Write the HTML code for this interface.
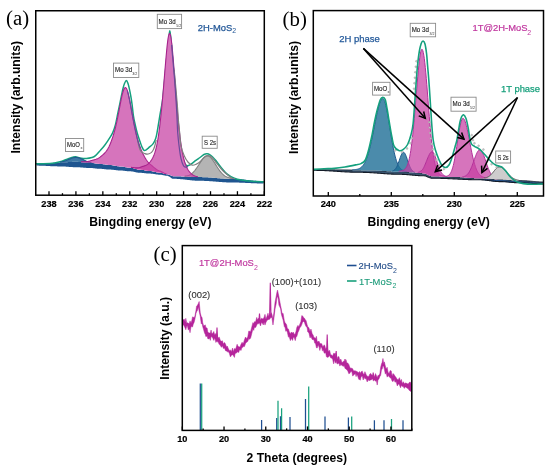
<!DOCTYPE html>
<html><head><meta charset="utf-8"><style>
html,body{margin:0;padding:0;background:#fff;overflow:hidden;}
svg{display:block;filter:blur(0.3px);}
</style></head><body>
<svg width="550" height="471" viewBox="0 0 550 471">
<defs>
<clipPath id="clipA"><rect x="35.75" y="10.75" width="228.55" height="184.45"/></clipPath>
<clipPath id="clipB"><rect x="313.3" y="10.5" width="230.2" height="185.5"/></clipPath>
<clipPath id="clipC"><rect x="182.3" y="245.6" width="229.5" height="184.8"/></clipPath>
</defs>
<rect width="550" height="471" fill="#fff"/>
<g clip-path="url(#clipA)">
<path d="M36.50,163.40 L37.00,163.39 L37.50,163.39 L38.00,163.38 L38.50,163.37 L39.00,163.36 L39.50,163.34 L40.00,163.32 L40.50,163.31 L41.00,163.29 L41.50,163.27 L42.00,163.24 L42.50,163.22 L43.00,163.20 L43.50,163.18 L44.00,163.16 L44.50,163.13 L45.00,163.11 L45.50,163.09 L46.00,163.08 L46.50,163.06 L47.00,163.04 L47.50,163.03 L48.00,163.02 L48.50,163.01 L49.00,163.01 L49.50,163.00 L50.00,163.00 L50.50,163.00 L51.00,162.99 L51.50,162.97 L52.00,162.94 L52.50,162.91 L53.00,162.88 L53.50,162.84 L54.00,162.79 L54.50,162.75 L55.00,162.70 L55.50,162.65 L56.00,162.61 L56.50,162.56 L57.00,162.52 L57.50,162.49 L58.00,162.46 L58.50,162.43 L59.00,162.41 L59.50,162.40 L60.00,162.40 L60.50,162.40 L61.00,162.39 L61.50,162.39 L62.00,162.38 L62.50,162.36 L63.00,162.35 L63.50,162.33 L64.00,162.31 L64.50,162.29 L65.00,162.27 L65.50,162.24 L66.00,162.21 L66.50,162.19 L67.00,162.16 L67.50,162.13 L68.00,162.10 L68.50,162.07 L69.00,162.04 L69.50,162.01 L70.00,161.99 L70.50,161.96 L71.00,161.93 L71.50,161.91 L72.00,161.89 L72.50,161.87 L73.00,161.85 L73.50,161.84 L74.00,161.82 L74.50,161.81 L75.00,161.81 L75.50,161.80 L76.00,161.80 L76.50,161.80 L77.00,161.81 L77.50,161.83 L78.00,161.85 L78.50,161.88 L79.00,161.91 L79.50,161.95 L80.00,161.99 L80.50,162.03 L81.00,162.08 L81.50,162.13 L82.00,162.19 L82.50,162.24 L83.00,162.30 L83.50,162.36 L84.00,162.41 L84.50,162.47 L85.00,162.52 L85.50,162.57 L86.00,162.61 L86.50,162.65 L87.00,162.69 L87.50,162.72 L88.00,162.75 L88.50,162.77 L89.00,162.79 L89.50,162.80 L90.00,162.80 L90.50,162.81 L91.00,162.83 L91.50,162.86 L92.00,162.91 L92.50,162.96 L93.00,163.03 L93.50,163.10 L94.00,163.18 L94.50,163.26 L95.00,163.35 L95.50,163.44 L96.00,163.52 L96.50,163.60 L97.00,163.67 L97.50,163.74 L98.00,163.79 L98.50,163.84 L99.00,163.87 L99.50,163.89 L100.00,163.90 L100.50,163.91 L101.00,163.93 L101.50,163.96 L102.00,164.01 L102.50,164.06 L103.00,164.13 L103.50,164.20 L104.00,164.28 L104.50,164.36 L105.00,164.45 L105.50,164.54 L106.00,164.62 L106.50,164.70 L107.00,164.77 L107.50,164.84 L108.00,164.89 L108.50,164.94 L109.00,164.97 L109.50,164.99 L110.00,165.00 L110.50,165.01 L111.00,165.03 L111.50,165.08 L112.00,165.13 L112.50,165.21 L113.00,165.29 L113.50,165.38 L114.00,165.48 L114.50,165.59 L115.00,165.70 L115.50,165.81 L116.00,165.92 L116.50,166.02 L117.00,166.11 L117.50,166.19 L118.00,166.27 L118.50,166.32 L119.00,166.37 L119.50,166.39 L120.00,166.40 L120.50,166.41 L121.00,166.43 L121.50,166.47 L122.00,166.52 L122.50,166.59 L123.00,166.67 L123.50,166.75 L124.00,166.85 L124.50,166.95 L125.00,167.05 L125.50,167.15 L126.00,167.25 L126.50,167.35 L127.00,167.43 L127.50,167.51 L128.00,167.58 L128.50,167.63 L129.00,167.67 L129.50,167.69 L130.00,167.70 L130.50,167.71 L131.00,167.75 L131.50,167.80 L132.00,167.88 L132.50,167.98 L133.00,168.09 L133.50,168.22 L134.00,168.36 L134.50,168.50 L135.00,168.65 L135.50,168.80 L136.00,168.94 L136.50,169.08 L137.00,169.21 L137.50,169.32 L138.00,169.42 L138.50,169.50 L139.00,169.55 L139.50,169.59 L140.00,169.60 L140.50,169.61 L141.00,169.63 L141.50,169.68 L142.00,169.73 L142.50,169.81 L143.00,169.89 L143.50,169.98 L144.00,170.08 L144.50,170.19 L145.00,170.30 L145.50,170.41 L146.00,170.52 L146.50,170.62 L147.00,170.71 L147.50,170.79 L148.00,170.87 L148.50,170.92 L149.00,170.97 L149.50,170.99 L150.00,171.00 L150.50,171.01 L151.00,171.04 L151.50,171.09 L152.00,171.15 L152.50,171.23 L153.00,171.33 L153.50,171.44 L154.00,171.55 L154.50,171.67 L155.00,171.80 L155.50,171.93 L156.00,172.05 L156.50,172.16 L157.00,172.27 L157.50,172.37 L158.00,172.45 L158.50,172.51 L159.00,172.56 L159.50,172.59 L160.00,172.60 L160.50,172.62 L161.00,172.68 L161.50,172.77 L162.00,172.90 L162.50,173.05 L163.00,173.22 L163.50,173.40 L164.00,173.58 L164.50,173.75 L165.00,173.90 L165.50,174.03 L166.00,174.12 L166.50,174.18 L167.00,174.20 L167.50,174.23 L168.00,174.31 L168.50,174.45 L169.00,174.63 L169.50,174.85 L170.00,175.08 L170.50,175.32 L171.00,175.55 L171.50,175.77 L172.00,175.95 L172.50,176.09 L173.00,176.17 L173.50,176.20 L174.00,176.20 L174.50,176.20 L175.00,176.21 L175.50,176.21 L176.00,176.22 L176.50,176.23 L177.00,176.24 L177.50,176.25 L178.00,176.26 L178.50,176.28 L179.00,176.29 L179.50,176.31 L180.00,176.33 L180.50,176.35 L181.00,176.37 L181.50,176.39 L182.00,176.41 L182.50,176.43 L183.00,176.46 L183.50,176.48 L184.00,176.51 L184.50,176.53 L185.00,176.56 L185.50,176.58 L186.00,176.61 L186.50,176.64 L187.00,176.66 L187.50,176.69 L188.00,176.72 L188.50,176.74 L189.00,176.77 L189.50,176.79 L190.00,176.82 L190.50,176.84 L191.00,176.87 L191.50,176.89 L192.00,176.91 L192.50,176.93 L193.00,176.95 L193.50,176.97 L194.00,176.99 L194.50,177.01 L195.00,177.02 L195.50,177.04 L196.00,177.05 L196.50,177.06 L197.00,177.07 L197.50,177.08 L198.00,177.09 L198.50,177.09 L199.00,177.10 L199.50,177.10 L200.00,177.10 L200.50,177.10 L201.00,177.10 L201.50,177.11 L202.00,177.12 L202.50,177.13 L203.00,177.14 L203.50,177.15 L204.00,177.17 L204.50,177.19 L205.00,177.21 L205.50,177.23 L206.00,177.25 L206.50,177.28 L207.00,177.30 L207.50,177.33 L208.00,177.36 L208.50,177.40 L209.00,177.43 L209.50,177.46 L210.00,177.50 L210.50,177.54 L211.00,177.58 L211.50,177.62 L212.00,177.66 L212.50,177.70 L213.00,177.74 L213.50,177.78 L214.00,177.82 L214.50,177.87 L215.00,177.91 L215.50,177.96 L216.00,178.00 L216.50,178.04 L217.00,178.09 L217.50,178.13 L218.00,178.18 L218.50,178.22 L219.00,178.26 L219.50,178.30 L220.00,178.34 L220.50,178.38 L221.00,178.42 L221.50,178.46 L222.00,178.50 L222.50,178.54 L223.00,178.57 L223.50,178.60 L224.00,178.64 L224.50,178.67 L225.00,178.70 L225.50,178.72 L226.00,178.75 L226.50,178.77 L227.00,178.79 L227.50,178.81 L228.00,178.83 L228.50,178.85 L229.00,178.86 L229.50,178.87 L230.00,178.88 L230.50,178.89 L231.00,178.90 L231.50,178.90 L232.00,178.90 L232.50,178.90 L233.00,178.91 L233.50,178.91 L234.00,178.92 L234.50,178.93 L235.00,178.95 L235.50,178.97 L236.00,178.99 L236.50,179.01 L237.00,179.04 L237.50,179.06 L238.00,179.09 L238.50,179.13 L239.00,179.16 L239.50,179.20 L240.00,179.24 L240.50,179.28 L241.00,179.32 L241.50,179.36 L242.00,179.41 L242.50,179.46 L243.00,179.51 L243.50,179.56 L244.00,179.61 L244.50,179.66 L245.00,179.72 L245.50,179.77 L246.00,179.83 L246.50,179.88 L247.00,179.94 L247.50,179.99 L248.00,180.05 L248.50,180.11 L249.00,180.16 L249.50,180.22 L250.00,180.27 L250.50,180.33 L251.00,180.38 L251.50,180.44 L252.00,180.49 L252.50,180.54 L253.00,180.59 L253.50,180.64 L254.00,180.69 L254.50,180.74 L255.00,180.78 L255.50,180.82 L256.00,180.86 L256.50,180.90 L257.00,180.94 L257.50,180.97 L258.00,181.01 L258.50,181.04 L259.00,181.06 L259.50,181.09 L260.00,181.11 L260.50,181.13 L261.00,181.15 L261.50,181.17 L262.00,181.18 L262.50,181.19 L263.00,181.19 L263.50,181.20 L263.50,183.50 L263.00,183.50 L262.50,183.49 L262.00,183.49 L261.50,183.49 L261.00,183.48 L260.50,183.47 L260.00,183.46 L259.50,183.45 L259.00,183.44 L258.50,183.43 L258.00,183.42 L257.50,183.40 L257.00,183.39 L256.50,183.37 L256.00,183.35 L255.50,183.34 L255.00,183.32 L254.50,183.30 L254.00,183.28 L253.50,183.26 L253.00,183.24 L252.50,183.21 L252.00,183.19 L251.50,183.17 L251.00,183.15 L250.50,183.12 L250.00,183.10 L249.50,183.07 L249.00,183.05 L248.50,183.02 L248.00,183.00 L247.50,182.98 L247.00,182.95 L246.50,182.93 L246.00,182.90 L245.50,182.88 L245.00,182.85 L244.50,182.83 L244.00,182.81 L243.50,182.79 L243.00,182.76 L242.50,182.74 L242.00,182.72 L241.50,182.70 L241.00,182.68 L240.50,182.66 L240.00,182.65 L239.50,182.63 L239.00,182.61 L238.50,182.60 L238.00,182.58 L237.50,182.57 L237.00,182.56 L236.50,182.55 L236.00,182.54 L235.50,182.53 L235.00,182.52 L234.50,182.51 L234.00,182.51 L233.50,182.51 L233.00,182.50 L232.50,182.50 L232.00,182.50 L231.50,182.50 L231.00,182.50 L230.50,182.49 L230.00,182.48 L229.50,182.47 L229.00,182.46 L228.50,182.45 L228.00,182.44 L227.50,182.42 L227.00,182.40 L226.50,182.38 L226.00,182.36 L225.50,182.33 L225.00,182.31 L224.50,182.28 L224.00,182.25 L223.50,182.22 L223.00,182.19 L222.50,182.16 L222.00,182.12 L221.50,182.09 L221.00,182.05 L220.50,182.01 L220.00,181.98 L219.50,181.94 L219.00,181.90 L218.50,181.86 L218.00,181.82 L217.50,181.77 L217.00,181.73 L216.50,181.69 L216.00,181.65 L215.50,181.61 L215.00,181.57 L214.50,181.53 L214.00,181.48 L213.50,181.44 L213.00,181.40 L212.50,181.36 L212.00,181.32 L211.50,181.29 L211.00,181.25 L210.50,181.21 L210.00,181.18 L209.50,181.14 L209.00,181.11 L208.50,181.08 L208.00,181.05 L207.50,181.02 L207.00,180.99 L206.50,180.97 L206.00,180.94 L205.50,180.92 L205.00,180.90 L204.50,180.88 L204.00,180.86 L203.50,180.85 L203.00,180.84 L202.50,180.83 L202.00,180.82 L201.50,180.81 L201.00,180.80 L200.50,180.80 L200.00,180.80 L199.50,180.80 L199.00,180.79 L198.50,180.78 L198.00,180.77 L197.50,180.76 L197.00,180.74 L196.50,180.72 L196.00,180.69 L195.50,180.66 L195.00,180.63 L194.50,180.59 L194.00,180.56 L193.50,180.52 L193.00,180.47 L192.50,180.43 L192.00,180.38 L191.50,180.33 L191.00,180.28 L190.50,180.23 L190.00,180.18 L189.50,180.12 L189.00,180.06 L188.50,180.01 L188.00,179.95 L187.50,179.89 L187.00,179.83 L186.50,179.77 L186.00,179.71 L185.50,179.65 L185.00,179.59 L184.50,179.54 L184.00,179.48 L183.50,179.42 L183.00,179.37 L182.50,179.32 L182.00,179.27 L181.50,179.22 L181.00,179.17 L180.50,179.13 L180.00,179.08 L179.50,179.04 L179.00,179.01 L178.50,178.97 L178.00,178.94 L177.50,178.91 L177.00,178.88 L176.50,178.86 L176.00,178.84 L175.50,178.83 L175.00,178.82 L174.50,178.81 L174.00,178.80 L173.50,178.80 L173.00,178.76 L172.50,178.63 L172.00,178.42 L171.50,178.15 L171.00,177.83 L170.50,177.48 L170.00,177.12 L169.50,176.77 L169.00,176.45 L168.50,176.18 L168.00,175.97 L167.50,175.84 L167.00,175.80 L166.50,175.79 L166.00,175.75 L165.50,175.68 L165.00,175.59 L164.50,175.49 L164.00,175.37 L163.50,175.25 L163.00,175.13 L162.50,175.01 L162.00,174.91 L161.50,174.82 L161.00,174.75 L160.50,174.71 L160.00,174.70 L159.50,174.69 L159.00,174.67 L158.50,174.64 L158.00,174.59 L157.50,174.54 L157.00,174.47 L156.50,174.40 L156.00,174.32 L155.50,174.24 L155.00,174.15 L154.50,174.06 L154.00,173.98 L153.50,173.90 L153.00,173.83 L152.50,173.76 L152.00,173.71 L151.50,173.66 L151.00,173.63 L150.50,173.61 L150.00,173.60 L149.50,173.60 L149.00,173.58 L148.50,173.56 L148.00,173.52 L147.50,173.48 L147.00,173.44 L146.50,173.38 L146.00,173.32 L145.50,173.26 L145.00,173.20 L144.50,173.14 L144.00,173.08 L143.50,173.02 L143.00,172.96 L142.50,172.92 L142.00,172.88 L141.50,172.84 L141.00,172.82 L140.50,172.80 L140.00,172.80 L139.50,172.79 L139.00,172.76 L138.50,172.72 L138.00,172.66 L137.50,172.58 L137.00,172.49 L136.50,172.39 L136.00,172.28 L135.50,172.17 L135.00,172.05 L134.50,171.93 L134.00,171.82 L133.50,171.71 L133.00,171.61 L132.50,171.52 L132.00,171.44 L131.50,171.38 L131.00,171.34 L130.50,171.31 L130.00,171.30 L129.50,171.30 L129.00,171.28 L128.50,171.26 L128.00,171.22 L127.50,171.18 L127.00,171.14 L126.50,171.08 L126.00,171.02 L125.50,170.96 L125.00,170.90 L124.50,170.84 L124.00,170.78 L123.50,170.72 L123.00,170.66 L122.50,170.62 L122.00,170.58 L121.50,170.54 L121.00,170.52 L120.50,170.50 L120.00,170.50 L119.50,170.49 L119.00,170.48 L118.50,170.45 L118.00,170.41 L117.50,170.37 L117.00,170.31 L116.50,170.25 L116.00,170.19 L115.50,170.12 L115.00,170.05 L114.50,169.98 L114.00,169.91 L113.50,169.85 L113.00,169.79 L112.50,169.73 L112.00,169.69 L111.50,169.65 L111.00,169.62 L110.50,169.61 L110.00,169.60 L109.50,169.60 L109.00,169.58 L108.50,169.56 L108.00,169.52 L107.50,169.48 L107.00,169.44 L106.50,169.38 L106.00,169.32 L105.50,169.26 L105.00,169.20 L104.50,169.14 L104.00,169.08 L103.50,169.02 L103.00,168.96 L102.50,168.92 L102.00,168.88 L101.50,168.84 L101.00,168.82 L100.50,168.80 L100.00,168.80 L99.50,168.80 L99.00,168.78 L98.50,168.76 L98.00,168.72 L97.50,168.68 L97.00,168.64 L96.50,168.58 L96.00,168.52 L95.50,168.46 L95.00,168.40 L94.50,168.34 L94.00,168.28 L93.50,168.22 L93.00,168.16 L92.50,168.12 L92.00,168.08 L91.50,168.04 L91.00,168.02 L90.50,168.00 L90.00,168.00 L89.50,168.00 L89.00,167.99 L88.50,167.98 L88.00,167.96 L87.50,167.94 L87.00,167.91 L86.50,167.88 L86.00,167.85 L85.50,167.81 L85.00,167.77 L84.50,167.73 L84.00,167.69 L83.50,167.64 L83.00,167.60 L82.50,167.56 L82.00,167.51 L81.50,167.47 L81.00,167.43 L80.50,167.39 L80.00,167.35 L79.50,167.32 L79.00,167.29 L78.50,167.26 L78.00,167.24 L77.50,167.22 L77.00,167.21 L76.50,167.20 L76.00,167.20 L75.50,167.20 L75.00,167.19 L74.50,167.18 L74.00,167.17 L73.50,167.15 L73.00,167.13 L72.50,167.11 L72.00,167.08 L71.50,167.05 L71.00,167.02 L70.50,166.99 L70.00,166.95 L69.50,166.92 L69.00,166.88 L68.50,166.84 L68.00,166.80 L67.50,166.76 L67.00,166.72 L66.50,166.68 L66.00,166.65 L65.50,166.61 L65.00,166.58 L64.50,166.55 L64.00,166.52 L63.50,166.49 L63.00,166.47 L62.50,166.45 L62.00,166.43 L61.50,166.42 L61.00,166.41 L60.50,166.40 L60.00,166.40 L59.50,166.40 L59.00,166.40 L58.50,166.39 L58.00,166.39 L57.50,166.38 L57.00,166.37 L56.50,166.36 L56.00,166.35 L55.50,166.33 L55.00,166.32 L54.50,166.30 L54.00,166.28 L53.50,166.26 L53.00,166.24 L52.50,166.22 L52.00,166.20 L51.50,166.18 L51.00,166.15 L50.50,166.13 L50.00,166.10 L49.50,166.08 L49.00,166.05 L48.50,166.03 L48.00,166.00 L47.50,165.97 L47.00,165.95 L46.50,165.92 L46.00,165.90 L45.50,165.87 L45.00,165.85 L44.50,165.82 L44.00,165.80 L43.50,165.78 L43.00,165.76 L42.50,165.74 L42.00,165.72 L41.50,165.70 L41.00,165.68 L40.50,165.67 L40.00,165.65 L39.50,165.64 L39.00,165.63 L38.50,165.62 L38.00,165.61 L37.50,165.61 L37.00,165.60 L36.50,165.60Z" fill="#1f5590"/>
<path d="M36.00,163.70 C38.33,163.68 46.00,163.92 50.00,163.60 C54.00,163.28 57.27,162.48 60.00,161.80 C62.73,161.12 64.28,160.25 66.40,159.50 C68.52,158.75 71.18,157.75 72.70,157.30 C74.22,156.85 74.28,156.70 75.50,156.80 C76.72,156.90 78.18,157.63 80.00,157.90 C81.82,158.17 84.43,158.47 86.40,158.40 C88.37,158.33 90.28,157.97 91.80,157.50 C93.32,157.03 94.02,156.87 95.50,155.60 C96.98,154.33 99.20,151.58 100.70,149.90 C102.20,148.22 103.35,146.95 104.50,145.50 C105.65,144.05 106.27,143.27 107.60,141.20 C108.93,139.13 111.20,135.82 112.50,133.10 C113.80,130.38 114.50,128.25 115.40,124.90 C116.30,121.55 117.13,116.65 117.90,113.00 C118.67,109.35 119.38,106.00 120.00,103.00 C120.62,100.00 121.10,97.42 121.60,95.00 C122.10,92.58 122.52,90.42 123.00,88.50 C123.48,86.58 123.92,84.82 124.50,83.50 C125.08,82.18 125.92,80.60 126.50,80.60 C127.08,80.60 127.57,82.32 128.00,83.50 C128.43,84.68 128.63,85.58 129.10,87.70 C129.57,89.82 130.30,93.37 130.80,96.20 C131.30,99.03 131.68,101.57 132.10,104.70 C132.52,107.83 132.85,111.95 133.30,115.00 C133.75,118.05 134.15,120.00 134.80,123.00 C135.45,126.00 136.33,129.92 137.20,133.00 C138.07,136.08 139.20,139.17 140.00,141.50 C140.80,143.83 141.33,145.53 142.00,147.00 C142.67,148.47 143.25,149.87 144.00,150.30 C144.75,150.73 145.70,150.05 146.50,149.60 C147.30,149.15 147.72,148.55 148.80,147.60 C149.88,146.65 151.85,145.40 153.00,143.90 C154.15,142.40 154.98,140.72 155.70,138.60 C156.42,136.48 156.78,133.97 157.30,131.20 C157.82,128.43 158.22,125.53 158.80,122.00 C159.38,118.47 160.17,113.67 160.80,110.00 C161.43,106.33 161.97,105.00 162.60,100.00 C163.23,95.00 163.95,86.67 164.60,80.00 C165.25,73.33 165.92,65.83 166.50,60.00 C167.08,54.17 167.67,49.00 168.10,45.00 C168.53,41.00 168.82,38.37 169.10,36.00 C169.38,33.63 169.55,30.80 169.80,30.80 C170.05,30.80 170.32,33.63 170.60,36.00 C170.88,38.37 171.17,41.00 171.50,45.00 C171.83,49.00 172.12,54.17 172.60,60.00 C173.08,65.83 173.83,73.33 174.40,80.00 C174.97,86.67 175.48,93.33 176.00,100.00 C176.52,106.67 176.97,113.33 177.50,120.00 C178.03,126.67 178.58,134.67 179.20,140.00 C179.82,145.33 180.48,148.67 181.20,152.00 C181.92,155.33 182.62,157.75 183.50,160.00 C184.38,162.25 185.33,164.75 186.50,165.50 C187.67,166.25 189.00,165.30 190.50,164.50 C192.00,163.70 193.92,161.87 195.50,160.70 C197.08,159.53 198.58,158.53 200.00,157.50 C201.42,156.47 202.83,155.12 204.00,154.50 C205.17,153.88 206.00,153.75 207.00,153.80 C208.00,153.85 209.00,154.18 210.00,154.80 C211.00,155.42 212.10,156.63 213.00,157.50 C213.90,158.37 214.02,158.30 215.40,160.00 C216.78,161.70 219.33,165.33 221.30,167.70 C223.27,170.07 225.03,172.43 227.20,174.20 C229.37,175.97 231.93,177.32 234.30,178.30 C236.67,179.28 238.45,179.60 241.40,180.10 C244.35,180.60 248.23,181.00 252.00,181.30 C255.77,181.60 262.00,181.80 264.00,181.90" fill="none" stroke="#15a07e" stroke-width="1.5"/>
<path d="M81.00,161.78 L81.50,161.79 L82.00,161.80 L82.50,161.81 L83.00,161.82 L83.50,161.81 L84.00,161.81 L84.50,161.79 L85.00,161.77 L85.50,161.74 L86.00,161.70 L86.50,161.65 L87.00,161.59 L87.50,161.52 L88.00,161.43 L88.50,161.33 L89.00,161.22 L89.50,161.10 L90.00,160.96 L90.50,160.81 L91.00,160.67 L91.50,160.54 L92.00,160.41 L92.50,160.28 L93.00,160.15 L93.50,160.02 L94.00,159.88 L94.50,159.74 L95.00,159.59 L95.50,159.43 L96.00,159.26 L96.50,159.07 L97.00,158.87 L97.50,158.64 L98.00,158.39 L98.50,158.11 L99.00,157.81 L99.50,157.47 L100.00,157.11 L100.50,156.73 L101.00,156.34 L101.50,155.95 L102.00,155.54 L102.50,155.12 L103.00,154.69 L103.50,154.23 L104.00,153.76 L104.50,153.25 L105.00,152.71 L105.50,152.14 L106.00,151.52 L106.50,150.85 L107.00,150.14 L107.50,149.36 L108.00,148.53 L108.50,147.62 L109.00,146.65 L109.50,145.60 L110.00,144.46 L110.50,143.26 L111.00,142.00 L111.50,140.68 L112.00,139.29 L112.50,137.83 L113.00,136.30 L113.50,134.68 L114.00,132.98 L114.50,131.18 L115.00,129.29 L115.50,127.31 L116.00,125.22 L116.50,123.04 L117.00,120.76 L117.50,118.39 L118.00,115.93 L118.50,113.40 L119.00,110.81 L119.50,108.18 L120.00,105.53 L120.50,102.91 L121.00,100.37 L121.50,97.94 L122.00,95.67 L122.50,93.60 L123.00,91.78 L123.50,90.23 L124.00,89.01 L124.50,88.14 L125.00,87.65 L125.50,87.55 L126.00,87.85 L126.50,88.54 L127.00,89.59 L127.50,90.99 L128.00,92.68 L128.50,94.64 L129.00,96.82 L129.50,99.17 L130.00,101.64 L130.50,104.22 L131.00,106.89 L131.50,109.61 L132.00,112.35 L132.50,115.09 L133.00,117.80 L133.50,120.46 L134.00,123.06 L134.50,125.59 L135.00,128.04 L135.50,130.39 L136.00,132.65 L136.50,134.80 L137.00,136.84 L137.50,138.78 L138.00,140.60 L138.50,142.32 L139.00,143.93 L139.50,145.43 L140.00,146.82 L140.50,148.13 L141.00,149.39 L141.50,150.59 L142.00,151.74 L142.50,152.84 L143.00,153.90 L143.50,154.90 L144.00,155.87 L144.50,156.79 L145.00,157.66 L145.50,158.49 L146.00,159.28 L146.50,160.03 L147.00,160.73 L147.50,161.39 L148.00,162.01 L148.50,162.58 L149.00,163.12 L149.50,163.61 L150.00,164.06 L150.50,164.49 L151.00,164.92 L151.50,165.35 L152.00,165.78 L152.50,166.21 L153.00,166.64 L153.50,167.06 L154.00,167.47 L154.50,167.88 L155.00,168.27 L155.50,168.65 L156.00,169.02 L156.50,169.36 L157.00,169.69 L157.50,169.99 L158.00,170.26 L158.50,170.51 L159.00,170.73 L159.50,170.92 L160.00,171.08 L160.50,171.24 L161.00,171.44 L161.50,171.65 L162.00,171.89 L162.50,172.15 L163.00,172.41 L163.50,172.68 L164.00,172.94 L164.50,173.18 L165.00,173.40 L165.50,173.59 L166.00,173.74 L166.50,173.85 L166.50,174.18 L166.00,174.12 L165.50,174.03 L165.00,173.90 L164.50,173.75 L164.00,173.58 L163.50,173.40 L163.00,173.22 L162.50,173.05 L162.00,172.90 L161.50,172.77 L161.00,172.68 L160.50,172.62 L160.00,172.60 L159.50,172.59 L159.00,172.56 L158.50,172.51 L158.00,172.45 L157.50,172.37 L157.00,172.27 L156.50,172.16 L156.00,172.05 L155.50,171.93 L155.00,171.80 L154.50,171.67 L154.00,171.55 L153.50,171.44 L153.00,171.33 L152.50,171.23 L152.00,171.15 L151.50,171.09 L151.00,171.04 L150.50,171.01 L150.00,171.00 L149.50,170.99 L149.00,170.97 L148.50,170.92 L148.00,170.87 L147.50,170.79 L147.00,170.71 L146.50,170.62 L146.00,170.52 L145.50,170.41 L145.00,170.30 L144.50,170.19 L144.00,170.08 L143.50,169.98 L143.00,169.89 L142.50,169.81 L142.00,169.73 L141.50,169.68 L141.00,169.63 L140.50,169.61 L140.00,169.60 L139.50,169.59 L139.00,169.55 L138.50,169.50 L138.00,169.42 L137.50,169.32 L137.00,169.21 L136.50,169.08 L136.00,168.94 L135.50,168.80 L135.00,168.65 L134.50,168.50 L134.00,168.36 L133.50,168.22 L133.00,168.09 L132.50,167.98 L132.00,167.88 L131.50,167.80 L131.00,167.75 L130.50,167.71 L130.00,167.70 L129.50,167.69 L129.00,167.67 L128.50,167.63 L128.00,167.58 L127.50,167.51 L127.00,167.43 L126.50,167.35 L126.00,167.25 L125.50,167.15 L125.00,167.05 L124.50,166.95 L124.00,166.85 L123.50,166.75 L123.00,166.67 L122.50,166.59 L122.00,166.52 L121.50,166.47 L121.00,166.43 L120.50,166.41 L120.00,166.40 L119.50,166.39 L119.00,166.37 L118.50,166.32 L118.00,166.27 L117.50,166.19 L117.00,166.11 L116.50,166.02 L116.00,165.92 L115.50,165.81 L115.00,165.70 L114.50,165.59 L114.00,165.48 L113.50,165.38 L113.00,165.29 L112.50,165.21 L112.00,165.13 L111.50,165.08 L111.00,165.03 L110.50,165.01 L110.00,165.00 L109.50,164.99 L109.00,164.97 L108.50,164.94 L108.00,164.89 L107.50,164.84 L107.00,164.77 L106.50,164.70 L106.00,164.62 L105.50,164.54 L105.00,164.45 L104.50,164.36 L104.00,164.28 L103.50,164.20 L103.00,164.13 L102.50,164.06 L102.00,164.01 L101.50,163.96 L101.00,163.93 L100.50,163.91 L100.00,163.90 L99.50,163.89 L99.00,163.87 L98.50,163.84 L98.00,163.79 L97.50,163.74 L97.00,163.67 L96.50,163.60 L96.00,163.52 L95.50,163.44 L95.00,163.35 L94.50,163.26 L94.00,163.18 L93.50,163.10 L93.00,163.03 L92.50,162.96 L92.00,162.91 L91.50,162.86 L91.00,162.83 L90.50,162.81 L90.00,162.80 L89.50,162.80 L89.00,162.79 L88.50,162.77 L88.00,162.75 L87.50,162.72 L87.00,162.69 L86.50,162.65 L86.00,162.61 L85.50,162.57 L85.00,162.52 L84.50,162.47 L84.00,162.41 L83.50,162.36 L83.00,162.30 L82.50,162.24 L82.00,162.19 L81.50,162.13 L81.00,162.08Z" fill="#fff"/>
<path d="M131.00,167.41 L131.50,167.42 L132.00,167.45 L132.50,167.49 L133.00,167.54 L133.50,167.60 L134.00,167.66 L134.50,167.72 L135.00,167.78 L135.50,167.83 L136.00,167.87 L136.50,167.90 L137.00,167.90 L137.50,167.89 L138.00,167.84 L138.50,167.77 L139.00,167.67 L139.50,167.54 L140.00,167.38 L140.50,167.20 L141.00,167.03 L141.50,166.86 L142.00,166.70 L142.50,166.54 L143.00,166.38 L143.50,166.21 L144.00,166.04 L144.50,165.86 L145.00,165.67 L145.50,165.46 L146.00,165.23 L146.50,164.97 L147.00,164.68 L147.50,164.35 L148.00,163.99 L148.50,163.58 L149.00,163.11 L149.50,162.59 L150.00,162.00 L150.50,161.36 L151.00,160.68 L151.50,159.94 L152.00,159.14 L152.50,158.27 L153.00,157.30 L153.50,156.22 L154.00,155.02 L154.50,153.68 L155.00,152.18 L155.50,150.49 L156.00,148.60 L156.50,146.49 L157.00,144.13 L157.50,141.51 L158.00,138.61 L158.50,135.41 L159.00,131.90 L159.50,128.07 L160.00,123.92 L160.50,119.47 L161.00,114.76 L161.50,109.79 L162.00,104.58 L162.50,99.13 L163.00,93.47 L163.50,87.64 L164.00,81.67 L164.50,75.63 L165.00,69.57 L165.50,63.58 L166.00,57.76 L166.50,52.23 L167.00,47.11 L167.50,42.58 L168.00,38.85 L168.50,36.01 L169.00,34.19 L169.50,33.43 L170.00,33.79 L170.50,35.29 L171.00,37.88 L171.50,41.46 L172.00,45.87 L172.50,50.97 L173.00,56.61 L173.50,62.61 L174.00,68.89 L174.50,75.33 L175.00,81.84 L175.50,88.32 L176.00,94.70 L176.50,100.91 L177.00,106.91 L177.50,112.65 L178.00,118.10 L178.50,123.25 L179.00,128.09 L179.50,132.59 L180.00,136.77 L180.50,140.63 L181.00,144.17 L181.50,147.41 L182.00,150.36 L182.50,153.03 L183.00,155.45 L183.50,157.63 L184.00,159.60 L184.50,161.37 L185.00,162.96 L185.50,164.39 L186.00,165.68 L186.50,166.84 L187.00,167.89 L187.50,168.84 L188.00,169.70 L188.50,170.48 L189.00,171.19 L189.50,171.83 L190.00,172.42 L190.50,172.96 L191.00,173.44 L191.50,173.89 L192.00,174.29 L192.50,174.66 L193.00,174.99 L193.50,175.28 L194.00,175.55 L194.50,175.78 L195.00,175.99 L195.50,176.18 L196.00,176.34 L196.50,176.47 L197.00,176.59 L197.50,176.69 L198.00,176.78 L198.00,177.09 L197.50,177.08 L197.00,177.07 L196.50,177.06 L196.00,177.05 L195.50,177.04 L195.00,177.02 L194.50,177.01 L194.00,176.99 L193.50,176.97 L193.00,176.95 L192.50,176.93 L192.00,176.91 L191.50,176.89 L191.00,176.87 L190.50,176.84 L190.00,176.82 L189.50,176.79 L189.00,176.77 L188.50,176.74 L188.00,176.72 L187.50,176.69 L187.00,176.66 L186.50,176.64 L186.00,176.61 L185.50,176.58 L185.00,176.56 L184.50,176.53 L184.00,176.51 L183.50,176.48 L183.00,176.46 L182.50,176.43 L182.00,176.41 L181.50,176.39 L181.00,176.37 L180.50,176.35 L180.00,176.33 L179.50,176.31 L179.00,176.29 L178.50,176.28 L178.00,176.26 L177.50,176.25 L177.00,176.24 L176.50,176.23 L176.00,176.22 L175.50,176.21 L175.00,176.21 L174.50,176.20 L174.00,176.20 L173.50,176.20 L173.00,176.17 L172.50,176.09 L172.00,175.95 L171.50,175.77 L171.00,175.55 L170.50,175.32 L170.00,175.08 L169.50,174.85 L169.00,174.63 L168.50,174.45 L168.00,174.31 L167.50,174.23 L167.00,174.20 L166.50,174.18 L166.00,174.12 L165.50,174.03 L165.00,173.90 L164.50,173.75 L164.00,173.58 L163.50,173.40 L163.00,173.22 L162.50,173.05 L162.00,172.90 L161.50,172.77 L161.00,172.68 L160.50,172.62 L160.00,172.60 L159.50,172.59 L159.00,172.56 L158.50,172.51 L158.00,172.45 L157.50,172.37 L157.00,172.27 L156.50,172.16 L156.00,172.05 L155.50,171.93 L155.00,171.80 L154.50,171.67 L154.00,171.55 L153.50,171.44 L153.00,171.33 L152.50,171.23 L152.00,171.15 L151.50,171.09 L151.00,171.04 L150.50,171.01 L150.00,171.00 L149.50,170.99 L149.00,170.97 L148.50,170.92 L148.00,170.87 L147.50,170.79 L147.00,170.71 L146.50,170.62 L146.00,170.52 L145.50,170.41 L145.00,170.30 L144.50,170.19 L144.00,170.08 L143.50,169.98 L143.00,169.89 L142.50,169.81 L142.00,169.73 L141.50,169.68 L141.00,169.63 L140.50,169.61 L140.00,169.60 L139.50,169.59 L139.00,169.55 L138.50,169.50 L138.00,169.42 L137.50,169.32 L137.00,169.21 L136.50,169.08 L136.00,168.94 L135.50,168.80 L135.00,168.65 L134.50,168.50 L134.00,168.36 L133.50,168.22 L133.00,168.09 L132.50,167.98 L132.00,167.88 L131.50,167.80 L131.00,167.75Z" fill="#fff"/>
<path d="M60.00,162.07 L60.50,162.01 L61.00,161.94 L61.50,161.86 L62.00,161.76 L62.50,161.66 L63.00,161.54 L63.50,161.41 L64.00,161.27 L64.50,161.11 L65.00,160.95 L65.50,160.77 L66.00,160.58 L66.50,160.39 L67.00,160.19 L67.50,159.98 L68.00,159.76 L68.50,159.55 L69.00,159.33 L69.50,159.12 L70.00,158.91 L70.50,158.70 L71.00,158.50 L71.50,158.31 L72.00,158.14 L72.50,157.97 L73.00,157.83 L73.50,157.70 L74.00,157.60 L74.50,157.51 L75.00,157.45 L75.50,157.41 L76.00,157.40 L76.50,157.41 L77.00,157.46 L77.50,157.53 L78.00,157.62 L78.50,157.74 L79.00,157.89 L79.50,158.05 L80.00,158.24 L80.50,158.44 L81.00,158.65 L81.50,158.88 L82.00,159.12 L82.50,159.36 L83.00,159.60 L83.50,159.85 L84.00,160.09 L84.50,160.34 L85.00,160.57 L85.50,160.80 L86.00,161.01 L86.50,161.22 L87.00,161.41 L87.50,161.59 L88.00,161.75 L88.50,161.89 L89.00,162.02 L89.50,162.14 L90.00,162.23 L90.50,162.32 L91.00,162.42 L91.50,162.51 L91.50,162.86 L91.00,162.83 L90.50,162.81 L90.00,162.80 L89.50,162.80 L89.00,162.79 L88.50,162.77 L88.00,162.75 L87.50,162.72 L87.00,162.69 L86.50,162.65 L86.00,162.61 L85.50,162.57 L85.00,162.52 L84.50,162.47 L84.00,162.41 L83.50,162.36 L83.00,162.30 L82.50,162.24 L82.00,162.19 L81.50,162.13 L81.00,162.08 L80.50,162.03 L80.00,161.99 L79.50,161.95 L79.00,161.91 L78.50,161.88 L78.00,161.85 L77.50,161.83 L77.00,161.81 L76.50,161.80 L76.00,161.80 L75.50,161.80 L75.00,161.81 L74.50,161.81 L74.00,161.82 L73.50,161.84 L73.00,161.85 L72.50,161.87 L72.00,161.89 L71.50,161.91 L71.00,161.93 L70.50,161.96 L70.00,161.99 L69.50,162.01 L69.00,162.04 L68.50,162.07 L68.00,162.10 L67.50,162.13 L67.00,162.16 L66.50,162.19 L66.00,162.21 L65.50,162.24 L65.00,162.27 L64.50,162.29 L64.00,162.31 L63.50,162.33 L63.00,162.35 L62.50,162.36 L62.00,162.38 L61.50,162.39 L61.00,162.39 L60.50,162.40 L60.00,162.40Z" fill="#2a699c" fill-opacity="0.9"/>
<path d="M60.00,162.07 L60.50,162.01 L61.00,161.94 L61.50,161.86 L62.00,161.76 L62.50,161.66 L63.00,161.54 L63.50,161.41 L64.00,161.27 L64.50,161.11 L65.00,160.95 L65.50,160.77 L66.00,160.58 L66.50,160.39 L67.00,160.19 L67.50,159.98 L68.00,159.76 L68.50,159.55 L69.00,159.33 L69.50,159.12 L70.00,158.91 L70.50,158.70 L71.00,158.50 L71.50,158.31 L72.00,158.14 L72.50,157.97 L73.00,157.83 L73.50,157.70 L74.00,157.60 L74.50,157.51 L75.00,157.45 L75.50,157.41 L76.00,157.40 L76.50,157.41 L77.00,157.46 L77.50,157.53 L78.00,157.62 L78.50,157.74 L79.00,157.89 L79.50,158.05 L80.00,158.24 L80.50,158.44 L81.00,158.65 L81.50,158.88 L82.00,159.12 L82.50,159.36 L83.00,159.60 L83.50,159.85 L84.00,160.09 L84.50,160.34 L85.00,160.57 L85.50,160.80 L86.00,161.01 L86.50,161.22 L87.00,161.41 L87.50,161.59 L88.00,161.75 L88.50,161.89 L89.00,162.02 L89.50,162.14 L90.00,162.23 L90.50,162.32 L91.00,162.42 L91.50,162.51" fill="none" stroke="#1f5a8e" stroke-width="1.1"/>
<path d="M184.50,176.19 L185.00,176.15 L185.50,176.09 L186.00,176.02 L186.50,175.94 L187.00,175.83 L187.50,175.71 L188.00,175.57 L188.50,175.40 L189.00,175.21 L189.50,174.98 L190.00,174.73 L190.50,174.45 L191.00,174.13 L191.50,173.77 L192.00,173.38 L192.50,172.95 L193.00,172.49 L193.50,171.99 L194.00,171.45 L194.50,170.87 L195.00,170.26 L195.50,169.62 L196.00,168.95 L196.50,168.25 L197.00,167.52 L197.50,166.78 L198.00,166.02 L198.50,165.24 L199.00,164.46 L199.50,163.68 L200.00,162.89 L200.50,162.12 L201.00,161.37 L201.50,160.64 L202.00,159.94 L202.50,159.27 L203.00,158.65 L203.50,158.07 L204.00,157.55 L204.50,157.09 L205.00,156.69 L205.50,156.37 L206.00,156.11 L206.50,155.94 L207.00,155.84 L207.50,155.83 L208.00,155.90 L208.50,156.06 L209.00,156.29 L209.50,156.60 L210.00,156.98 L210.50,157.43 L211.00,157.95 L211.50,158.52 L212.00,159.14 L212.50,159.81 L213.00,160.51 L213.50,161.24 L214.00,162.00 L214.50,162.78 L215.00,163.57 L215.50,164.37 L216.00,165.16 L216.50,165.96 L217.00,166.74 L217.50,167.51 L218.00,168.27 L218.50,169.01 L219.00,169.72 L219.50,170.41 L220.00,171.07 L220.50,171.70 L221.00,172.29 L221.50,172.86 L222.00,173.40 L222.50,173.90 L223.00,174.36 L223.50,174.80 L224.00,175.20 L224.50,175.58 L225.00,175.92 L225.50,176.23 L226.00,176.52 L226.50,176.78 L227.00,177.01 L227.50,177.23 L228.00,177.42 L228.50,177.59 L229.00,177.74 L229.50,177.87 L230.00,177.99 L230.50,178.10 L231.00,178.19 L231.50,178.27 L232.00,178.33 L232.50,178.40 L233.00,178.45 L233.50,178.51 L234.00,178.56 L234.50,178.61 L234.50,178.93 L234.00,178.92 L233.50,178.91 L233.00,178.91 L232.50,178.90 L232.00,178.90 L231.50,178.90 L231.00,178.90 L230.50,178.89 L230.00,178.88 L229.50,178.87 L229.00,178.86 L228.50,178.85 L228.00,178.83 L227.50,178.81 L227.00,178.79 L226.50,178.77 L226.00,178.75 L225.50,178.72 L225.00,178.70 L224.50,178.67 L224.00,178.64 L223.50,178.60 L223.00,178.57 L222.50,178.54 L222.00,178.50 L221.50,178.46 L221.00,178.42 L220.50,178.38 L220.00,178.34 L219.50,178.30 L219.00,178.26 L218.50,178.22 L218.00,178.18 L217.50,178.13 L217.00,178.09 L216.50,178.04 L216.00,178.00 L215.50,177.96 L215.00,177.91 L214.50,177.87 L214.00,177.82 L213.50,177.78 L213.00,177.74 L212.50,177.70 L212.00,177.66 L211.50,177.62 L211.00,177.58 L210.50,177.54 L210.00,177.50 L209.50,177.46 L209.00,177.43 L208.50,177.40 L208.00,177.36 L207.50,177.33 L207.00,177.30 L206.50,177.28 L206.00,177.25 L205.50,177.23 L205.00,177.21 L204.50,177.19 L204.00,177.17 L203.50,177.15 L203.00,177.14 L202.50,177.13 L202.00,177.12 L201.50,177.11 L201.00,177.10 L200.50,177.10 L200.00,177.10 L199.50,177.10 L199.00,177.10 L198.50,177.09 L198.00,177.09 L197.50,177.08 L197.00,177.07 L196.50,177.06 L196.00,177.05 L195.50,177.04 L195.00,177.02 L194.50,177.01 L194.00,176.99 L193.50,176.97 L193.00,176.95 L192.50,176.93 L192.00,176.91 L191.50,176.89 L191.00,176.87 L190.50,176.84 L190.00,176.82 L189.50,176.79 L189.00,176.77 L188.50,176.74 L188.00,176.72 L187.50,176.69 L187.00,176.66 L186.50,176.64 L186.00,176.61 L185.50,176.58 L185.00,176.56 L184.50,176.53Z" fill="#b4b4b4" fill-opacity="1"/>
<path d="M184.50,176.19 L185.00,176.15 L185.50,176.09 L186.00,176.02 L186.50,175.94 L187.00,175.83 L187.50,175.71 L188.00,175.57 L188.50,175.40 L189.00,175.21 L189.50,174.98 L190.00,174.73 L190.50,174.45 L191.00,174.13 L191.50,173.77 L192.00,173.38 L192.50,172.95 L193.00,172.49 L193.50,171.99 L194.00,171.45 L194.50,170.87 L195.00,170.26 L195.50,169.62 L196.00,168.95 L196.50,168.25 L197.00,167.52 L197.50,166.78 L198.00,166.02 L198.50,165.24 L199.00,164.46 L199.50,163.68 L200.00,162.89 L200.50,162.12 L201.00,161.37 L201.50,160.64 L202.00,159.94 L202.50,159.27 L203.00,158.65 L203.50,158.07 L204.00,157.55 L204.50,157.09 L205.00,156.69 L205.50,156.37 L206.00,156.11 L206.50,155.94 L207.00,155.84 L207.50,155.83 L208.00,155.90 L208.50,156.06 L209.00,156.29 L209.50,156.60 L210.00,156.98 L210.50,157.43 L211.00,157.95 L211.50,158.52 L212.00,159.14 L212.50,159.81 L213.00,160.51 L213.50,161.24 L214.00,162.00 L214.50,162.78 L215.00,163.57 L215.50,164.37 L216.00,165.16 L216.50,165.96 L217.00,166.74 L217.50,167.51 L218.00,168.27 L218.50,169.01 L219.00,169.72 L219.50,170.41 L220.00,171.07 L220.50,171.70 L221.00,172.29 L221.50,172.86 L222.00,173.40 L222.50,173.90 L223.00,174.36 L223.50,174.80 L224.00,175.20 L224.50,175.58 L225.00,175.92 L225.50,176.23 L226.00,176.52 L226.50,176.78 L227.00,177.01 L227.50,177.23 L228.00,177.42 L228.50,177.59 L229.00,177.74 L229.50,177.87 L230.00,177.99 L230.50,178.10 L231.00,178.19 L231.50,178.27 L232.00,178.33 L232.50,178.40 L233.00,178.45 L233.50,178.51 L234.00,178.56 L234.50,178.61" fill="none" stroke="#808080" stroke-width="1.1"/>
<path d="M81.00,161.78 L81.50,161.79 L82.00,161.80 L82.50,161.81 L83.00,161.82 L83.50,161.81 L84.00,161.81 L84.50,161.79 L85.00,161.77 L85.50,161.74 L86.00,161.70 L86.50,161.65 L87.00,161.59 L87.50,161.52 L88.00,161.43 L88.50,161.33 L89.00,161.22 L89.50,161.10 L90.00,160.96 L90.50,160.81 L91.00,160.67 L91.50,160.54 L92.00,160.41 L92.50,160.28 L93.00,160.15 L93.50,160.02 L94.00,159.88 L94.50,159.74 L95.00,159.59 L95.50,159.43 L96.00,159.26 L96.50,159.07 L97.00,158.87 L97.50,158.64 L98.00,158.39 L98.50,158.11 L99.00,157.81 L99.50,157.47 L100.00,157.11 L100.50,156.73 L101.00,156.34 L101.50,155.95 L102.00,155.54 L102.50,155.12 L103.00,154.69 L103.50,154.23 L104.00,153.76 L104.50,153.25 L105.00,152.71 L105.50,152.14 L106.00,151.52 L106.50,150.85 L107.00,150.14 L107.50,149.36 L108.00,148.53 L108.50,147.62 L109.00,146.65 L109.50,145.60 L110.00,144.46 L110.50,143.26 L111.00,142.00 L111.50,140.68 L112.00,139.29 L112.50,137.83 L113.00,136.30 L113.50,134.68 L114.00,132.98 L114.50,131.18 L115.00,129.29 L115.50,127.31 L116.00,125.22 L116.50,123.04 L117.00,120.76 L117.50,118.39 L118.00,115.93 L118.50,113.40 L119.00,110.81 L119.50,108.18 L120.00,105.53 L120.50,102.91 L121.00,100.37 L121.50,97.94 L122.00,95.67 L122.50,93.60 L123.00,91.78 L123.50,90.23 L124.00,89.01 L124.50,88.14 L125.00,87.65 L125.50,87.55 L126.00,87.85 L126.50,88.54 L127.00,89.59 L127.50,90.99 L128.00,92.68 L128.50,94.64 L129.00,96.82 L129.50,99.17 L130.00,101.64 L130.50,104.22 L131.00,106.89 L131.50,109.61 L132.00,112.35 L132.50,115.09 L133.00,117.80 L133.50,120.46 L134.00,123.06 L134.50,125.59 L135.00,128.04 L135.50,130.39 L136.00,132.65 L136.50,134.80 L137.00,136.84 L137.50,138.78 L138.00,140.60 L138.50,142.32 L139.00,143.93 L139.50,145.43 L140.00,146.82 L140.50,148.13 L141.00,149.39 L141.50,150.59 L142.00,151.74 L142.50,152.84 L143.00,153.90 L143.50,154.90 L144.00,155.87 L144.50,156.79 L145.00,157.66 L145.50,158.49 L146.00,159.28 L146.50,160.03 L147.00,160.73 L147.50,161.39 L148.00,162.01 L148.50,162.58 L149.00,163.12 L149.50,163.61 L150.00,164.06 L150.50,164.49 L151.00,164.92 L151.50,165.35 L152.00,165.78 L152.50,166.21 L153.00,166.64 L153.50,167.06 L154.00,167.47 L154.50,167.88 L155.00,168.27 L155.50,168.65 L156.00,169.02 L156.50,169.36 L157.00,169.69 L157.50,169.99 L158.00,170.26 L158.50,170.51 L159.00,170.73 L159.50,170.92 L160.00,171.08 L160.50,171.24 L161.00,171.44 L161.50,171.65 L162.00,171.89 L162.50,172.15 L163.00,172.41 L163.50,172.68 L164.00,172.94 L164.50,173.18 L165.00,173.40 L165.50,173.59 L166.00,173.74 L166.50,173.85 L166.50,174.18 L166.00,174.12 L165.50,174.03 L165.00,173.90 L164.50,173.75 L164.00,173.58 L163.50,173.40 L163.00,173.22 L162.50,173.05 L162.00,172.90 L161.50,172.77 L161.00,172.68 L160.50,172.62 L160.00,172.60 L159.50,172.59 L159.00,172.56 L158.50,172.51 L158.00,172.45 L157.50,172.37 L157.00,172.27 L156.50,172.16 L156.00,172.05 L155.50,171.93 L155.00,171.80 L154.50,171.67 L154.00,171.55 L153.50,171.44 L153.00,171.33 L152.50,171.23 L152.00,171.15 L151.50,171.09 L151.00,171.04 L150.50,171.01 L150.00,171.00 L149.50,170.99 L149.00,170.97 L148.50,170.92 L148.00,170.87 L147.50,170.79 L147.00,170.71 L146.50,170.62 L146.00,170.52 L145.50,170.41 L145.00,170.30 L144.50,170.19 L144.00,170.08 L143.50,169.98 L143.00,169.89 L142.50,169.81 L142.00,169.73 L141.50,169.68 L141.00,169.63 L140.50,169.61 L140.00,169.60 L139.50,169.59 L139.00,169.55 L138.50,169.50 L138.00,169.42 L137.50,169.32 L137.00,169.21 L136.50,169.08 L136.00,168.94 L135.50,168.80 L135.00,168.65 L134.50,168.50 L134.00,168.36 L133.50,168.22 L133.00,168.09 L132.50,167.98 L132.00,167.88 L131.50,167.80 L131.00,167.75 L130.50,167.71 L130.00,167.70 L129.50,167.69 L129.00,167.67 L128.50,167.63 L128.00,167.58 L127.50,167.51 L127.00,167.43 L126.50,167.35 L126.00,167.25 L125.50,167.15 L125.00,167.05 L124.50,166.95 L124.00,166.85 L123.50,166.75 L123.00,166.67 L122.50,166.59 L122.00,166.52 L121.50,166.47 L121.00,166.43 L120.50,166.41 L120.00,166.40 L119.50,166.39 L119.00,166.37 L118.50,166.32 L118.00,166.27 L117.50,166.19 L117.00,166.11 L116.50,166.02 L116.00,165.92 L115.50,165.81 L115.00,165.70 L114.50,165.59 L114.00,165.48 L113.50,165.38 L113.00,165.29 L112.50,165.21 L112.00,165.13 L111.50,165.08 L111.00,165.03 L110.50,165.01 L110.00,165.00 L109.50,164.99 L109.00,164.97 L108.50,164.94 L108.00,164.89 L107.50,164.84 L107.00,164.77 L106.50,164.70 L106.00,164.62 L105.50,164.54 L105.00,164.45 L104.50,164.36 L104.00,164.28 L103.50,164.20 L103.00,164.13 L102.50,164.06 L102.00,164.01 L101.50,163.96 L101.00,163.93 L100.50,163.91 L100.00,163.90 L99.50,163.89 L99.00,163.87 L98.50,163.84 L98.00,163.79 L97.50,163.74 L97.00,163.67 L96.50,163.60 L96.00,163.52 L95.50,163.44 L95.00,163.35 L94.50,163.26 L94.00,163.18 L93.50,163.10 L93.00,163.03 L92.50,162.96 L92.00,162.91 L91.50,162.86 L91.00,162.83 L90.50,162.81 L90.00,162.80 L89.50,162.80 L89.00,162.79 L88.50,162.77 L88.00,162.75 L87.50,162.72 L87.00,162.69 L86.50,162.65 L86.00,162.61 L85.50,162.57 L85.00,162.52 L84.50,162.47 L84.00,162.41 L83.50,162.36 L83.00,162.30 L82.50,162.24 L82.00,162.19 L81.50,162.13 L81.00,162.08Z" fill="#c63ea2" fill-opacity="0.72"/>
<path d="M81.00,161.78 L81.50,161.79 L82.00,161.80 L82.50,161.81 L83.00,161.82 L83.50,161.81 L84.00,161.81 L84.50,161.79 L85.00,161.77 L85.50,161.74 L86.00,161.70 L86.50,161.65 L87.00,161.59 L87.50,161.52 L88.00,161.43 L88.50,161.33 L89.00,161.22 L89.50,161.10 L90.00,160.96 L90.50,160.81 L91.00,160.67 L91.50,160.54 L92.00,160.41 L92.50,160.28 L93.00,160.15 L93.50,160.02 L94.00,159.88 L94.50,159.74 L95.00,159.59 L95.50,159.43 L96.00,159.26 L96.50,159.07 L97.00,158.87 L97.50,158.64 L98.00,158.39 L98.50,158.11 L99.00,157.81 L99.50,157.47 L100.00,157.11 L100.50,156.73 L101.00,156.34 L101.50,155.95 L102.00,155.54 L102.50,155.12 L103.00,154.69 L103.50,154.23 L104.00,153.76 L104.50,153.25 L105.00,152.71 L105.50,152.14 L106.00,151.52 L106.50,150.85 L107.00,150.14 L107.50,149.36 L108.00,148.53 L108.50,147.62 L109.00,146.65 L109.50,145.60 L110.00,144.46 L110.50,143.26 L111.00,142.00 L111.50,140.68 L112.00,139.29 L112.50,137.83 L113.00,136.30 L113.50,134.68 L114.00,132.98 L114.50,131.18 L115.00,129.29 L115.50,127.31 L116.00,125.22 L116.50,123.04 L117.00,120.76 L117.50,118.39 L118.00,115.93 L118.50,113.40 L119.00,110.81 L119.50,108.18 L120.00,105.53 L120.50,102.91 L121.00,100.37 L121.50,97.94 L122.00,95.67 L122.50,93.60 L123.00,91.78 L123.50,90.23 L124.00,89.01 L124.50,88.14 L125.00,87.65 L125.50,87.55 L126.00,87.85 L126.50,88.54 L127.00,89.59 L127.50,90.99 L128.00,92.68 L128.50,94.64 L129.00,96.82 L129.50,99.17 L130.00,101.64 L130.50,104.22 L131.00,106.89 L131.50,109.61 L132.00,112.35 L132.50,115.09 L133.00,117.80 L133.50,120.46 L134.00,123.06 L134.50,125.59 L135.00,128.04 L135.50,130.39 L136.00,132.65 L136.50,134.80 L137.00,136.84 L137.50,138.78 L138.00,140.60 L138.50,142.32 L139.00,143.93 L139.50,145.43 L140.00,146.82 L140.50,148.13 L141.00,149.39 L141.50,150.59 L142.00,151.74 L142.50,152.84 L143.00,153.90 L143.50,154.90 L144.00,155.87 L144.50,156.79 L145.00,157.66 L145.50,158.49 L146.00,159.28 L146.50,160.03 L147.00,160.73 L147.50,161.39 L148.00,162.01 L148.50,162.58 L149.00,163.12 L149.50,163.61 L150.00,164.06 L150.50,164.49 L151.00,164.92 L151.50,165.35 L152.00,165.78 L152.50,166.21 L153.00,166.64 L153.50,167.06 L154.00,167.47 L154.50,167.88 L155.00,168.27 L155.50,168.65 L156.00,169.02 L156.50,169.36 L157.00,169.69 L157.50,169.99 L158.00,170.26 L158.50,170.51 L159.00,170.73 L159.50,170.92 L160.00,171.08 L160.50,171.24 L161.00,171.44 L161.50,171.65 L162.00,171.89 L162.50,172.15 L163.00,172.41 L163.50,172.68 L164.00,172.94 L164.50,173.18 L165.00,173.40 L165.50,173.59 L166.00,173.74 L166.50,173.85" fill="none" stroke="#a8228c" stroke-width="1.1"/>
<path d="M131.00,167.41 L131.50,167.42 L132.00,167.45 L132.50,167.49 L133.00,167.54 L133.50,167.60 L134.00,167.66 L134.50,167.72 L135.00,167.78 L135.50,167.83 L136.00,167.87 L136.50,167.90 L137.00,167.90 L137.50,167.89 L138.00,167.84 L138.50,167.77 L139.00,167.67 L139.50,167.54 L140.00,167.38 L140.50,167.20 L141.00,167.03 L141.50,166.86 L142.00,166.70 L142.50,166.54 L143.00,166.38 L143.50,166.21 L144.00,166.04 L144.50,165.86 L145.00,165.67 L145.50,165.46 L146.00,165.23 L146.50,164.97 L147.00,164.68 L147.50,164.35 L148.00,163.99 L148.50,163.58 L149.00,163.11 L149.50,162.59 L150.00,162.00 L150.50,161.36 L151.00,160.68 L151.50,159.94 L152.00,159.14 L152.50,158.27 L153.00,157.30 L153.50,156.22 L154.00,155.02 L154.50,153.68 L155.00,152.18 L155.50,150.49 L156.00,148.60 L156.50,146.49 L157.00,144.13 L157.50,141.51 L158.00,138.61 L158.50,135.41 L159.00,131.90 L159.50,128.07 L160.00,123.92 L160.50,119.47 L161.00,114.76 L161.50,109.79 L162.00,104.58 L162.50,99.13 L163.00,93.47 L163.50,87.64 L164.00,81.67 L164.50,75.63 L165.00,69.57 L165.50,63.58 L166.00,57.76 L166.50,52.23 L167.00,47.11 L167.50,42.58 L168.00,38.85 L168.50,36.01 L169.00,34.19 L169.50,33.43 L170.00,33.79 L170.50,35.29 L171.00,37.88 L171.50,41.46 L172.00,45.87 L172.50,50.97 L173.00,56.61 L173.50,62.61 L174.00,68.89 L174.50,75.33 L175.00,81.84 L175.50,88.32 L176.00,94.70 L176.50,100.91 L177.00,106.91 L177.50,112.65 L178.00,118.10 L178.50,123.25 L179.00,128.09 L179.50,132.59 L180.00,136.77 L180.50,140.63 L181.00,144.17 L181.50,147.41 L182.00,150.36 L182.50,153.03 L183.00,155.45 L183.50,157.63 L184.00,159.60 L184.50,161.37 L185.00,162.96 L185.50,164.39 L186.00,165.68 L186.50,166.84 L187.00,167.89 L187.50,168.84 L188.00,169.70 L188.50,170.48 L189.00,171.19 L189.50,171.83 L190.00,172.42 L190.50,172.96 L191.00,173.44 L191.50,173.89 L192.00,174.29 L192.50,174.66 L193.00,174.99 L193.50,175.28 L194.00,175.55 L194.50,175.78 L195.00,175.99 L195.50,176.18 L196.00,176.34 L196.50,176.47 L197.00,176.59 L197.50,176.69 L198.00,176.78 L198.00,177.09 L197.50,177.08 L197.00,177.07 L196.50,177.06 L196.00,177.05 L195.50,177.04 L195.00,177.02 L194.50,177.01 L194.00,176.99 L193.50,176.97 L193.00,176.95 L192.50,176.93 L192.00,176.91 L191.50,176.89 L191.00,176.87 L190.50,176.84 L190.00,176.82 L189.50,176.79 L189.00,176.77 L188.50,176.74 L188.00,176.72 L187.50,176.69 L187.00,176.66 L186.50,176.64 L186.00,176.61 L185.50,176.58 L185.00,176.56 L184.50,176.53 L184.00,176.51 L183.50,176.48 L183.00,176.46 L182.50,176.43 L182.00,176.41 L181.50,176.39 L181.00,176.37 L180.50,176.35 L180.00,176.33 L179.50,176.31 L179.00,176.29 L178.50,176.28 L178.00,176.26 L177.50,176.25 L177.00,176.24 L176.50,176.23 L176.00,176.22 L175.50,176.21 L175.00,176.21 L174.50,176.20 L174.00,176.20 L173.50,176.20 L173.00,176.17 L172.50,176.09 L172.00,175.95 L171.50,175.77 L171.00,175.55 L170.50,175.32 L170.00,175.08 L169.50,174.85 L169.00,174.63 L168.50,174.45 L168.00,174.31 L167.50,174.23 L167.00,174.20 L166.50,174.18 L166.00,174.12 L165.50,174.03 L165.00,173.90 L164.50,173.75 L164.00,173.58 L163.50,173.40 L163.00,173.22 L162.50,173.05 L162.00,172.90 L161.50,172.77 L161.00,172.68 L160.50,172.62 L160.00,172.60 L159.50,172.59 L159.00,172.56 L158.50,172.51 L158.00,172.45 L157.50,172.37 L157.00,172.27 L156.50,172.16 L156.00,172.05 L155.50,171.93 L155.00,171.80 L154.50,171.67 L154.00,171.55 L153.50,171.44 L153.00,171.33 L152.50,171.23 L152.00,171.15 L151.50,171.09 L151.00,171.04 L150.50,171.01 L150.00,171.00 L149.50,170.99 L149.00,170.97 L148.50,170.92 L148.00,170.87 L147.50,170.79 L147.00,170.71 L146.50,170.62 L146.00,170.52 L145.50,170.41 L145.00,170.30 L144.50,170.19 L144.00,170.08 L143.50,169.98 L143.00,169.89 L142.50,169.81 L142.00,169.73 L141.50,169.68 L141.00,169.63 L140.50,169.61 L140.00,169.60 L139.50,169.59 L139.00,169.55 L138.50,169.50 L138.00,169.42 L137.50,169.32 L137.00,169.21 L136.50,169.08 L136.00,168.94 L135.50,168.80 L135.00,168.65 L134.50,168.50 L134.00,168.36 L133.50,168.22 L133.00,168.09 L132.50,167.98 L132.00,167.88 L131.50,167.80 L131.00,167.75Z" fill="#c63ea2" fill-opacity="0.72"/>
<path d="M131.00,167.41 L131.50,167.42 L132.00,167.45 L132.50,167.49 L133.00,167.54 L133.50,167.60 L134.00,167.66 L134.50,167.72 L135.00,167.78 L135.50,167.83 L136.00,167.87 L136.50,167.90 L137.00,167.90 L137.50,167.89 L138.00,167.84 L138.50,167.77 L139.00,167.67 L139.50,167.54 L140.00,167.38 L140.50,167.20 L141.00,167.03 L141.50,166.86 L142.00,166.70 L142.50,166.54 L143.00,166.38 L143.50,166.21 L144.00,166.04 L144.50,165.86 L145.00,165.67 L145.50,165.46 L146.00,165.23 L146.50,164.97 L147.00,164.68 L147.50,164.35 L148.00,163.99 L148.50,163.58 L149.00,163.11 L149.50,162.59 L150.00,162.00 L150.50,161.36 L151.00,160.68 L151.50,159.94 L152.00,159.14 L152.50,158.27 L153.00,157.30 L153.50,156.22 L154.00,155.02 L154.50,153.68 L155.00,152.18 L155.50,150.49 L156.00,148.60 L156.50,146.49 L157.00,144.13 L157.50,141.51 L158.00,138.61 L158.50,135.41 L159.00,131.90 L159.50,128.07 L160.00,123.92 L160.50,119.47 L161.00,114.76 L161.50,109.79 L162.00,104.58 L162.50,99.13 L163.00,93.47 L163.50,87.64 L164.00,81.67 L164.50,75.63 L165.00,69.57 L165.50,63.58 L166.00,57.76 L166.50,52.23 L167.00,47.11 L167.50,42.58 L168.00,38.85 L168.50,36.01 L169.00,34.19 L169.50,33.43 L170.00,33.79 L170.50,35.29 L171.00,37.88 L171.50,41.46 L172.00,45.87 L172.50,50.97 L173.00,56.61 L173.50,62.61 L174.00,68.89 L174.50,75.33 L175.00,81.84 L175.50,88.32 L176.00,94.70 L176.50,100.91 L177.00,106.91 L177.50,112.65 L178.00,118.10 L178.50,123.25 L179.00,128.09 L179.50,132.59 L180.00,136.77 L180.50,140.63 L181.00,144.17 L181.50,147.41 L182.00,150.36 L182.50,153.03 L183.00,155.45 L183.50,157.63 L184.00,159.60 L184.50,161.37 L185.00,162.96 L185.50,164.39 L186.00,165.68 L186.50,166.84 L187.00,167.89 L187.50,168.84 L188.00,169.70 L188.50,170.48 L189.00,171.19 L189.50,171.83 L190.00,172.42 L190.50,172.96 L191.00,173.44 L191.50,173.89 L192.00,174.29 L192.50,174.66 L193.00,174.99 L193.50,175.28 L194.00,175.55 L194.50,175.78 L195.00,175.99 L195.50,176.18 L196.00,176.34 L196.50,176.47 L197.00,176.59 L197.50,176.69 L198.00,176.78" fill="none" stroke="#a8228c" stroke-width="1.1"/>
<path d="M137.20,138.00 C137.43,139.17 138.08,142.95 138.60,145.00 C139.12,147.05 139.65,149.03 140.30,150.30 C140.95,151.57 141.75,152.05 142.50,152.60 C143.25,153.15 144.05,153.35 144.80,153.60 C145.55,153.85 146.30,154.07 147.00,154.10 C147.70,154.13 148.25,154.10 149.00,153.80 C149.75,153.50 150.73,153.07 151.50,152.30 C152.27,151.53 152.98,150.50 153.60,149.20 C154.22,147.90 154.77,146.03 155.20,144.50 C155.63,142.97 156.03,140.75 156.20,140.00" fill="none" stroke="#808080" stroke-width="1.2"/>
<path d="M174.20,70.00 C174.43,72.50 175.15,80.00 175.60,85.00 C176.05,90.00 176.55,95.83 176.90,100.00 C177.25,104.17 177.45,106.67 177.70,110.00 C177.95,113.33 178.08,116.33 178.40,120.00 C178.72,123.67 179.18,127.75 179.60,132.00 C180.02,136.25 180.15,141.57 180.90,145.50 C181.65,149.43 182.93,152.85 184.10,155.60 C185.27,158.35 186.52,160.40 187.90,162.00 C189.28,163.60 190.92,164.88 192.40,165.20 C193.88,165.52 195.53,164.47 196.80,163.90 C198.07,163.33 198.80,162.87 200.00,161.80 C201.20,160.73 202.75,158.53 204.00,157.50 C205.25,156.47 206.33,155.75 207.50,155.60 C208.67,155.45 209.75,155.70 211.00,156.60 C212.25,157.50 213.50,159.18 215.00,161.00 C216.50,162.82 218.33,165.53 220.00,167.50 C221.67,169.47 223.00,171.00 225.00,172.80 C227.00,174.60 230.83,177.38 232.00,178.30" fill="none" stroke="#808080" stroke-width="1.2"/>
<path d="M171.60,45.00 C171.82,47.50 172.40,54.17 172.90,60.00 C173.40,65.83 174.08,73.33 174.60,80.00 C175.12,86.67 175.67,95.00 176.00,100.00 C176.33,105.00 176.42,106.67 176.60,110.00 C176.78,113.33 176.92,116.22 177.10,120.00 C177.28,123.78 177.38,128.45 177.70,132.70 C178.02,136.95 178.47,141.25 179.00,145.50 C179.53,149.75 180.15,154.82 180.90,158.20 C181.65,161.58 182.65,164.32 183.50,165.80 C184.35,167.28 185.25,166.98 186.00,167.10 C186.75,167.22 187.67,166.60 188.00,166.50" fill="none" stroke="#6a4a9a" stroke-width="1.2"/>
<path d="M127.30,90.99 L127.80,92.68 L128.30,94.64 L128.80,96.82 L129.30,99.17 L129.80,101.64 L130.30,104.22 L130.80,106.89 L131.30,109.61 L131.80,112.35 L132.30,115.09 L132.80,117.80 L133.30,120.46 L133.80,123.06 L134.30,125.59 L134.80,128.04 L135.30,130.39 L135.80,132.65 L136.30,134.80 L136.80,136.84 L137.30,138.78 L137.80,140.60 L138.30,142.32 L138.80,143.93 L139.30,145.43 L139.80,146.82 L140.30,148.13" fill="none" stroke="#6a4a9a" stroke-width="1.1"/>
</g>
<rect x="35.75" y="10.75" width="228.55" height="184.45" fill="none" stroke="#000" stroke-width="1.5"/>
<line x1="264.36" y1="195.20" x2="264.36" y2="191.20" stroke="#000" stroke-width="1.3"/>
<text x="264.36" y="206.80" font-size="9.60" font-weight="bold" fill="#000" stroke="#000" stroke-width="0.20" text-anchor="middle" font-family="'Liberation Sans', sans-serif" textLength="15.35" lengthAdjust="spacingAndGlyphs">222</text>
<line x1="250.90" y1="195.20" x2="250.90" y2="193.20" stroke="#000" stroke-width="1.3"/>
<line x1="237.44" y1="195.20" x2="237.44" y2="191.20" stroke="#000" stroke-width="1.3"/>
<text x="237.44" y="206.80" font-size="9.60" font-weight="bold" fill="#000" stroke="#000" stroke-width="0.20" text-anchor="middle" font-family="'Liberation Sans', sans-serif" textLength="15.35" lengthAdjust="spacingAndGlyphs">224</text>
<line x1="223.98" y1="195.20" x2="223.98" y2="193.20" stroke="#000" stroke-width="1.3"/>
<line x1="210.52" y1="195.20" x2="210.52" y2="191.20" stroke="#000" stroke-width="1.3"/>
<text x="210.52" y="206.80" font-size="9.60" font-weight="bold" fill="#000" stroke="#000" stroke-width="0.20" text-anchor="middle" font-family="'Liberation Sans', sans-serif" textLength="15.35" lengthAdjust="spacingAndGlyphs">226</text>
<line x1="197.06" y1="195.20" x2="197.06" y2="193.20" stroke="#000" stroke-width="1.3"/>
<line x1="183.60" y1="195.20" x2="183.60" y2="191.20" stroke="#000" stroke-width="1.3"/>
<text x="183.60" y="206.80" font-size="9.60" font-weight="bold" fill="#000" stroke="#000" stroke-width="0.20" text-anchor="middle" font-family="'Liberation Sans', sans-serif" textLength="15.35" lengthAdjust="spacingAndGlyphs">228</text>
<line x1="170.14" y1="195.20" x2="170.14" y2="193.20" stroke="#000" stroke-width="1.3"/>
<line x1="156.68" y1="195.20" x2="156.68" y2="191.20" stroke="#000" stroke-width="1.3"/>
<text x="156.68" y="206.80" font-size="9.60" font-weight="bold" fill="#000" stroke="#000" stroke-width="0.20" text-anchor="middle" font-family="'Liberation Sans', sans-serif" textLength="15.35" lengthAdjust="spacingAndGlyphs">230</text>
<line x1="143.22" y1="195.20" x2="143.22" y2="193.20" stroke="#000" stroke-width="1.3"/>
<line x1="129.76" y1="195.20" x2="129.76" y2="191.20" stroke="#000" stroke-width="1.3"/>
<text x="129.76" y="206.80" font-size="9.60" font-weight="bold" fill="#000" stroke="#000" stroke-width="0.20" text-anchor="middle" font-family="'Liberation Sans', sans-serif" textLength="15.35" lengthAdjust="spacingAndGlyphs">232</text>
<line x1="116.30" y1="195.20" x2="116.30" y2="193.20" stroke="#000" stroke-width="1.3"/>
<line x1="102.84" y1="195.20" x2="102.84" y2="191.20" stroke="#000" stroke-width="1.3"/>
<text x="102.84" y="206.80" font-size="9.60" font-weight="bold" fill="#000" stroke="#000" stroke-width="0.20" text-anchor="middle" font-family="'Liberation Sans', sans-serif" textLength="15.35" lengthAdjust="spacingAndGlyphs">234</text>
<line x1="89.38" y1="195.20" x2="89.38" y2="193.20" stroke="#000" stroke-width="1.3"/>
<line x1="75.92" y1="195.20" x2="75.92" y2="191.20" stroke="#000" stroke-width="1.3"/>
<text x="75.92" y="206.80" font-size="9.60" font-weight="bold" fill="#000" stroke="#000" stroke-width="0.20" text-anchor="middle" font-family="'Liberation Sans', sans-serif" textLength="15.35" lengthAdjust="spacingAndGlyphs">236</text>
<line x1="62.46" y1="195.20" x2="62.46" y2="193.20" stroke="#000" stroke-width="1.3"/>
<line x1="49.00" y1="195.20" x2="49.00" y2="191.20" stroke="#000" stroke-width="1.3"/>
<text x="49.00" y="206.80" font-size="9.60" font-weight="bold" fill="#000" stroke="#000" stroke-width="0.20" text-anchor="middle" font-family="'Liberation Sans', sans-serif" textLength="15.35" lengthAdjust="spacingAndGlyphs">238</text>
<text x="150.35" y="225.60" font-size="12.00" font-weight="bold" fill="#000" text-anchor="middle" font-family="'Liberation Sans', sans-serif" textLength="122.3" lengthAdjust="spacingAndGlyphs">Bingding energy (eV)</text>
<text transform="translate(20.0,97.3) rotate(-90)" x="0" y="0" font-size="12" font-weight="bold" text-anchor="middle" font-family="'Liberation Sans', sans-serif" textLength="112.5" lengthAdjust="spacingAndGlyphs">Intensity (arb.units)</text>
<text x="6.00" y="25.40" font-size="20.80" font-weight="normal" fill="#000" text-anchor="start" font-family="'Liberation Serif', serif" >(a)</text>
<rect x="113.50" y="63.10" width="25.30" height="14.40" fill="#fff" stroke="#8a8a8a" stroke-width="0.9"/>
<text x="115.10" y="72.00" font-size="6.50" font-weight="normal" fill="#2a2a2a" stroke="#2a2a2a" stroke-width="0.15" text-anchor="start" font-family="'Liberation Sans', sans-serif" textLength="17.09" lengthAdjust="spacingAndGlyphs">Mo 3d</text>
<text x="132.30" y="74.80" font-size="3.60" font-weight="normal" fill="#333" text-anchor="start" font-family="'Liberation Sans', sans-serif" >3/2</text>
<rect x="157.30" y="14.30" width="24.30" height="14.30" fill="#fff" stroke="#8a8a8a" stroke-width="0.9"/>
<text x="158.60" y="23.70" font-size="6.50" font-weight="normal" fill="#2a2a2a" stroke="#2a2a2a" stroke-width="0.15" text-anchor="start" font-family="'Liberation Sans', sans-serif" textLength="17.09" lengthAdjust="spacingAndGlyphs">Mo 3d</text>
<text x="176.30" y="26.60" font-size="3.60" font-weight="normal" fill="#333" text-anchor="start" font-family="'Liberation Sans', sans-serif" >5/2</text>
<rect x="65.50" y="138.50" width="18.20" height="13.00" fill="#fff" stroke="#8a8a8a" stroke-width="0.9"/>
<text x="67.10" y="147.40" font-size="6.50" font-weight="normal" fill="#2a2a2a" stroke="#2a2a2a" stroke-width="0.15" text-anchor="start" font-family="'Liberation Sans', sans-serif" textLength="12.89" lengthAdjust="spacingAndGlyphs">MoO</text>
<text x="80.40" y="149.40" font-size="4.00" font-weight="normal" fill="#333" text-anchor="start" font-family="'Liberation Sans', sans-serif" >x</text>
<rect x="202.20" y="136.20" width="15.00" height="12.10" fill="#fff" stroke="#8a8a8a" stroke-width="0.9"/>
<text x="204.00" y="145.40" font-size="6.60" font-weight="normal" fill="#2a2a2a" stroke="#2a2a2a" stroke-width="0.15" text-anchor="start" font-family="'Liberation Sans', sans-serif" textLength="12.01" lengthAdjust="spacingAndGlyphs">S 2s</text>
<text x="197.80" y="30.60" font-size="9.68" font-weight="normal" fill="#225797" stroke="#225797" stroke-width="0.25" text-anchor="start" font-family="'Liberation Sans', sans-serif" textLength="34.48" lengthAdjust="spacingAndGlyphs">2H-MoS</text>
<text x="232.20" y="33.40" font-size="7.00" font-weight="normal" fill="#225797" text-anchor="start" font-family="'Liberation Sans', sans-serif" >2</text>
<g clip-path="url(#clipB)">
<path d="M313.80,169.60 L314.30,169.60 L314.80,169.60 L315.30,169.61 L315.80,169.61 L316.30,169.61 L316.80,169.61 L317.30,169.62 L317.80,169.62 L318.30,169.63 L318.80,169.63 L319.30,169.64 L319.80,169.64 L320.30,169.65 L320.80,169.66 L321.30,169.66 L321.80,169.67 L322.30,169.68 L322.80,169.69 L323.30,169.70 L323.80,169.70 L324.30,169.71 L324.80,169.72 L325.30,169.73 L325.80,169.74 L326.30,169.75 L326.80,169.76 L327.30,169.76 L327.80,169.77 L328.30,169.78 L328.80,169.79 L329.30,169.80 L329.80,169.81 L330.30,169.81 L330.80,169.82 L331.30,169.83 L331.80,169.84 L332.30,169.84 L332.80,169.85 L333.30,169.86 L333.80,169.86 L334.30,169.87 L334.80,169.87 L335.30,169.88 L335.80,169.88 L336.30,169.89 L336.80,169.89 L337.30,169.89 L337.80,169.90 L338.30,169.90 L338.80,169.90 L339.30,169.90 L339.80,169.90 L340.30,169.90 L340.80,169.90 L341.30,169.90 L341.80,169.91 L342.30,169.91 L342.80,169.91 L343.30,169.92 L343.80,169.92 L344.30,169.93 L344.80,169.94 L345.30,169.95 L345.80,169.95 L346.30,169.96 L346.80,169.97 L347.30,169.98 L347.80,169.99 L348.30,170.01 L348.80,170.02 L349.30,170.03 L349.80,170.04 L350.30,170.06 L350.80,170.07 L351.30,170.09 L351.80,170.10 L352.30,170.12 L352.80,170.13 L353.30,170.15 L353.80,170.16 L354.30,170.18 L354.80,170.19 L355.30,170.21 L355.80,170.23 L356.30,170.24 L356.80,170.26 L357.30,170.27 L357.80,170.29 L358.30,170.30 L358.80,170.32 L359.30,170.33 L359.80,170.34 L360.30,170.36 L360.80,170.37 L361.30,170.38 L361.80,170.40 L362.30,170.41 L362.80,170.42 L363.30,170.43 L363.80,170.44 L364.30,170.45 L364.80,170.46 L365.30,170.46 L365.80,170.47 L366.30,170.48 L366.80,170.48 L367.30,170.49 L367.80,170.49 L368.30,170.50 L368.80,170.50 L369.30,170.50 L369.80,170.50 L370.30,170.50 L370.80,170.50 L371.30,170.51 L371.80,170.51 L372.30,170.52 L372.80,170.52 L373.30,170.53 L373.80,170.54 L374.30,170.55 L374.80,170.57 L375.30,170.58 L375.80,170.60 L376.30,170.62 L376.80,170.63 L377.30,170.65 L377.80,170.67 L378.30,170.69 L378.80,170.72 L379.30,170.74 L379.80,170.77 L380.30,170.79 L380.80,170.82 L381.30,170.84 L381.80,170.87 L382.30,170.90 L382.80,170.92 L383.30,170.95 L383.80,170.98 L384.30,171.01 L384.80,171.04 L385.30,171.07 L385.80,171.10 L386.30,171.12 L386.80,171.15 L387.30,171.18 L387.80,171.21 L388.30,171.24 L388.80,171.26 L389.30,171.29 L389.80,171.31 L390.30,171.34 L390.80,171.36 L391.30,171.39 L391.80,171.41 L392.30,171.43 L392.80,171.45 L393.30,171.47 L393.80,171.49 L394.30,171.50 L394.80,171.52 L395.30,171.53 L395.80,171.55 L396.30,171.56 L396.80,171.57 L397.30,171.58 L397.80,171.59 L398.30,171.59 L398.80,171.60 L399.30,171.60 L399.80,171.60 L400.30,171.60 L400.80,171.60 L401.30,171.61 L401.80,171.62 L402.30,171.64 L402.80,171.66 L403.30,171.68 L403.80,171.70 L404.30,171.73 L404.80,171.76 L405.30,171.80 L405.80,171.83 L406.30,171.87 L406.80,171.91 L407.30,171.95 L407.80,172.00 L408.30,172.04 L408.80,172.09 L409.30,172.13 L409.80,172.18 L410.30,172.23 L410.80,172.28 L411.30,172.32 L411.80,172.37 L412.30,172.41 L412.80,172.46 L413.30,172.50 L413.80,172.54 L414.30,172.58 L414.80,172.61 L415.30,172.64 L415.80,172.67 L416.30,172.70 L416.80,172.73 L417.30,172.75 L417.80,172.76 L418.30,172.78 L418.80,172.79 L419.30,172.80 L419.80,172.80 L420.30,172.81 L420.80,172.86 L421.30,172.94 L421.80,173.05 L422.30,173.17 L422.80,173.28 L423.30,173.36 L423.80,173.40 L424.30,173.41 L424.80,173.47 L425.30,173.58 L425.80,173.74 L426.30,173.93 L426.80,174.16 L427.30,174.42 L427.80,174.69 L428.30,174.96 L428.80,175.23 L429.30,175.48 L429.80,175.71 L430.30,175.90 L430.80,176.05 L431.30,176.15 L431.80,176.20 L432.30,176.20 L432.80,176.20 L433.30,176.21 L433.80,176.21 L434.30,176.22 L434.80,176.23 L435.30,176.24 L435.80,176.25 L436.30,176.27 L436.80,176.28 L437.30,176.30 L437.80,176.32 L438.30,176.34 L438.80,176.36 L439.30,176.38 L439.80,176.41 L440.30,176.43 L440.80,176.46 L441.30,176.48 L441.80,176.51 L442.30,176.53 L442.80,176.56 L443.30,176.59 L443.80,176.62 L444.30,176.64 L444.80,176.67 L445.30,176.70 L445.80,176.72 L446.30,176.75 L446.80,176.77 L447.30,176.80 L447.80,176.82 L448.30,176.84 L448.80,176.86 L449.30,176.88 L449.80,176.90 L450.30,176.92 L450.80,176.94 L451.30,176.95 L451.80,176.96 L452.30,176.97 L452.80,176.98 L453.30,176.99 L453.80,176.99 L454.30,177.00 L454.80,177.00 L455.30,177.00 L455.80,177.00 L456.30,177.01 L456.80,177.02 L457.30,177.03 L457.80,177.04 L458.30,177.06 L458.80,177.07 L459.30,177.09 L459.80,177.11 L460.30,177.14 L460.80,177.17 L461.30,177.19 L461.80,177.22 L462.30,177.25 L462.80,177.29 L463.30,177.32 L463.80,177.36 L464.30,177.40 L464.80,177.43 L465.30,177.47 L465.80,177.51 L466.30,177.55 L466.80,177.59 L467.30,177.63 L467.80,177.67 L468.30,177.72 L468.80,177.76 L469.30,177.80 L469.80,177.84 L470.30,177.87 L470.80,177.91 L471.30,177.95 L471.80,177.98 L472.30,178.02 L472.80,178.05 L473.30,178.08 L473.80,178.11 L474.30,178.14 L474.80,178.17 L475.30,178.19 L475.80,178.21 L476.30,178.23 L476.80,178.25 L477.30,178.26 L477.80,178.28 L478.30,178.29 L478.80,178.29 L479.30,178.30 L479.80,178.30 L480.30,178.30 L480.80,178.30 L481.30,178.31 L481.80,178.32 L482.30,178.33 L482.80,178.35 L483.30,178.37 L483.80,178.39 L484.30,178.41 L484.80,178.44 L485.30,178.46 L485.80,178.49 L486.30,178.53 L486.80,178.56 L487.30,178.59 L487.80,178.63 L488.30,178.67 L488.80,178.71 L489.30,178.75 L489.80,178.78 L490.30,178.82 L490.80,178.86 L491.30,178.90 L491.80,178.94 L492.30,178.98 L492.80,179.01 L493.30,179.05 L493.80,179.08 L494.30,179.11 L494.80,179.14 L495.30,179.17 L495.80,179.20 L496.30,179.22 L496.80,179.24 L497.30,179.26 L497.80,179.27 L498.30,179.28 L498.80,179.29 L499.30,179.30 L499.80,179.30 L500.30,179.30 L500.80,179.31 L501.30,179.31 L501.80,179.33 L502.30,179.34 L502.80,179.36 L503.30,179.39 L503.80,179.41 L504.30,179.44 L504.80,179.48 L505.30,179.51 L505.80,179.55 L506.30,179.59 L506.80,179.64 L507.30,179.68 L507.80,179.73 L508.30,179.78 L508.80,179.83 L509.30,179.88 L509.80,179.93 L510.30,179.98 L510.80,180.03 L511.30,180.08 L511.80,180.13 L512.30,180.18 L512.80,180.23 L513.30,180.27 L513.80,180.32 L514.30,180.36 L514.80,180.39 L515.30,180.43 L515.80,180.46 L516.30,180.49 L516.80,180.52 L517.30,180.54 L517.80,180.56 L518.30,180.58 L518.80,180.59 L519.30,180.60 L519.80,180.60 L520.30,180.60 L520.80,180.60 L521.30,180.61 L521.80,180.62 L522.30,180.63 L522.80,180.65 L523.30,180.67 L523.80,180.69 L524.30,180.71 L524.80,180.74 L525.30,180.77 L525.80,180.80 L526.30,180.83 L526.80,180.87 L527.30,180.91 L527.80,180.95 L528.30,180.99 L528.80,181.03 L529.30,181.07 L529.80,181.12 L530.30,181.17 L530.80,181.21 L531.30,181.26 L531.80,181.30 L532.30,181.35 L532.80,181.40 L533.30,181.44 L533.80,181.49 L534.30,181.53 L534.80,181.58 L535.30,181.62 L535.80,181.66 L536.30,181.70 L536.80,181.74 L537.30,181.77 L537.80,181.81 L538.30,181.84 L538.80,181.87 L539.30,181.89 L539.80,181.92 L540.30,181.94 L540.80,181.95 L541.30,181.97 L541.80,181.98 L542.30,181.99 L542.80,182.00 L543.00,182.00 L543.00,183.90 L542.80,183.90 L542.30,183.89 L541.80,183.89 L541.30,183.88 L540.80,183.86 L540.30,183.85 L539.80,183.83 L539.30,183.82 L538.80,183.79 L538.30,183.77 L537.80,183.75 L537.30,183.72 L536.80,183.69 L536.30,183.66 L535.80,183.63 L535.30,183.60 L534.80,183.57 L534.30,183.53 L533.80,183.50 L533.30,183.46 L532.80,183.43 L532.30,183.39 L531.80,183.35 L531.30,183.32 L530.80,183.28 L530.30,183.24 L529.80,183.21 L529.30,183.17 L528.80,183.14 L528.30,183.11 L527.80,183.07 L527.30,183.04 L526.80,183.01 L526.30,182.98 L525.80,182.96 L525.30,182.93 L524.80,182.91 L524.30,182.89 L523.80,182.87 L523.30,182.85 L522.80,182.84 L522.30,182.83 L521.80,182.82 L521.30,182.81 L520.80,182.80 L520.30,182.80 L519.80,182.80 L519.30,182.80 L518.80,182.79 L518.30,182.78 L517.80,182.76 L517.30,182.75 L516.80,182.73 L516.30,182.70 L515.80,182.67 L515.30,182.64 L514.80,182.61 L514.30,182.58 L513.80,182.54 L513.30,182.50 L512.80,182.46 L512.30,182.41 L511.80,182.37 L511.30,182.32 L510.80,182.28 L510.30,182.23 L509.80,182.18 L509.30,182.13 L508.80,182.09 L508.30,182.04 L507.80,182.00 L507.30,181.95 L506.80,181.91 L506.30,181.87 L505.80,181.83 L505.30,181.80 L504.80,181.76 L504.30,181.73 L503.80,181.70 L503.30,181.68 L502.80,181.66 L502.30,181.64 L501.80,181.62 L501.30,181.61 L500.80,181.60 L500.30,181.60 L499.80,181.60 L499.30,181.59 L498.80,181.58 L498.30,181.57 L497.80,181.55 L497.30,181.52 L496.80,181.49 L496.30,181.45 L495.80,181.41 L495.30,181.37 L494.80,181.32 L494.30,181.26 L493.80,181.21 L493.30,181.15 L492.80,181.08 L492.30,181.02 L491.80,180.95 L491.30,180.88 L490.80,180.81 L490.30,180.74 L489.80,180.67 L489.30,180.60 L488.80,180.53 L488.30,180.46 L487.80,180.40 L487.30,180.33 L486.80,180.27 L486.30,180.21 L485.80,180.15 L485.30,180.09 L484.80,180.04 L484.30,180.00 L483.80,179.96 L483.30,179.92 L482.80,179.89 L482.30,179.86 L481.80,179.84 L481.30,179.82 L480.80,179.81 L480.30,179.80 L479.80,179.80 L479.30,179.80 L478.80,179.80 L478.30,179.80 L477.80,179.79 L477.30,179.79 L476.80,179.78 L476.30,179.78 L475.80,179.77 L475.30,179.76 L474.80,179.75 L474.30,179.74 L473.80,179.74 L473.30,179.72 L472.80,179.71 L472.30,179.70 L471.80,179.69 L471.30,179.67 L470.80,179.66 L470.30,179.64 L469.80,179.63 L469.30,179.61 L468.80,179.59 L468.30,179.58 L467.80,179.56 L467.30,179.54 L466.80,179.52 L466.30,179.50 L465.80,179.48 L465.30,179.46 L464.80,179.44 L464.30,179.41 L463.80,179.39 L463.30,179.37 L462.80,179.34 L462.30,179.32 L461.80,179.30 L461.30,179.27 L460.80,179.25 L460.30,179.22 L459.80,179.20 L459.30,179.17 L458.80,179.15 L458.30,179.12 L457.80,179.09 L457.30,179.07 L456.80,179.04 L456.30,179.02 L455.80,178.99 L455.30,178.96 L454.80,178.94 L454.30,178.91 L453.80,178.89 L453.30,178.86 L452.80,178.83 L452.30,178.81 L451.80,178.78 L451.30,178.76 L450.80,178.73 L450.30,178.71 L449.80,178.68 L449.30,178.66 L448.80,178.64 L448.30,178.61 L447.80,178.59 L447.30,178.57 L446.80,178.55 L446.30,178.53 L445.80,178.50 L445.30,178.48 L444.80,178.46 L444.30,178.45 L443.80,178.43 L443.30,178.41 L442.80,178.39 L442.30,178.38 L441.80,178.36 L441.30,178.34 L440.80,178.33 L440.30,178.32 L439.80,178.30 L439.30,178.29 L438.80,178.28 L438.30,178.27 L437.80,178.26 L437.30,178.25 L436.80,178.24 L436.30,178.23 L435.80,178.22 L435.30,178.22 L434.80,178.21 L434.30,178.21 L433.80,178.21 L433.30,178.20 L432.80,178.20 L432.30,178.20 L431.80,178.20 L431.30,178.15 L430.80,178.07 L430.30,177.94 L429.80,177.78 L429.30,177.59 L428.80,177.37 L428.30,177.14 L427.80,176.91 L427.30,176.67 L426.80,176.46 L426.30,176.26 L425.80,176.09 L425.30,175.95 L424.80,175.86 L424.30,175.81 L423.80,175.80 L423.30,175.80 L422.80,175.79 L422.30,175.78 L421.80,175.77 L421.30,175.75 L420.80,175.74 L420.30,175.71 L419.80,175.69 L419.30,175.66 L418.80,175.63 L418.30,175.60 L417.80,175.57 L417.30,175.53 L416.80,175.49 L416.30,175.45 L415.80,175.41 L415.30,175.36 L414.80,175.32 L414.30,175.27 L413.80,175.23 L413.30,175.18 L412.80,175.13 L412.30,175.08 L411.80,175.03 L411.30,174.98 L410.80,174.93 L410.30,174.88 L409.80,174.84 L409.30,174.79 L408.80,174.74 L408.30,174.70 L407.80,174.66 L407.30,174.62 L406.80,174.58 L406.30,174.54 L405.80,174.51 L405.30,174.47 L404.80,174.44 L404.30,174.42 L403.80,174.39 L403.30,174.37 L402.80,174.35 L402.30,174.33 L401.80,174.32 L401.30,174.31 L400.80,174.30 L400.30,174.30 L399.80,174.30 L399.30,174.30 L398.80,174.30 L398.30,174.29 L397.80,174.29 L397.30,174.28 L396.80,174.27 L396.30,174.26 L395.80,174.25 L395.30,174.23 L394.80,174.22 L394.30,174.20 L393.80,174.18 L393.30,174.16 L392.80,174.14 L392.30,174.12 L391.80,174.10 L391.30,174.08 L390.80,174.05 L390.30,174.02 L389.80,174.00 L389.30,173.97 L388.80,173.94 L388.30,173.91 L387.80,173.88 L387.30,173.84 L386.80,173.81 L386.30,173.77 L385.80,173.74 L385.30,173.70 L384.80,173.67 L384.30,173.63 L383.80,173.59 L383.30,173.56 L382.80,173.52 L382.30,173.48 L381.80,173.44 L381.30,173.40 L380.80,173.36 L380.30,173.32 L379.80,173.28 L379.30,173.25 L378.80,173.21 L378.30,173.17 L377.80,173.13 L377.30,173.09 L376.80,173.05 L376.30,173.01 L375.80,172.98 L375.30,172.94 L374.80,172.90 L374.30,172.87 L373.80,172.83 L373.30,172.80 L372.80,172.76 L372.30,172.73 L371.80,172.70 L371.30,172.67 L370.80,172.64 L370.30,172.61 L369.80,172.58 L369.30,172.56 L368.80,172.53 L368.30,172.51 L367.80,172.48 L367.30,172.46 L366.80,172.44 L366.30,172.42 L365.80,172.40 L365.30,172.39 L364.80,172.37 L364.30,172.36 L363.80,172.34 L363.30,172.33 L362.80,172.32 L362.30,172.32 L361.80,172.31 L361.30,172.31 L360.80,172.30 L360.30,172.30 L359.80,172.30 L359.30,172.30 L358.80,172.30 L358.30,172.29 L357.80,172.29 L357.30,172.28 L356.80,172.28 L356.30,172.27 L355.80,172.26 L355.30,172.25 L354.80,172.24 L354.30,172.23 L353.80,172.22 L353.30,172.20 L352.80,172.19 L352.30,172.17 L351.80,172.15 L351.30,172.14 L350.80,172.12 L350.30,172.10 L349.80,172.08 L349.30,172.05 L348.80,172.03 L348.30,172.01 L347.80,171.99 L347.30,171.96 L346.80,171.94 L346.30,171.91 L345.80,171.88 L345.30,171.85 L344.80,171.83 L344.30,171.80 L343.80,171.77 L343.30,171.74 L342.80,171.71 L342.30,171.68 L341.80,171.65 L341.30,171.62 L340.80,171.58 L340.30,171.55 L339.80,171.52 L339.30,171.49 L338.80,171.45 L338.30,171.42 L337.80,171.39 L337.30,171.35 L336.80,171.32 L336.30,171.29 L335.80,171.25 L335.30,171.22 L334.80,171.19 L334.30,171.15 L333.80,171.12 L333.30,171.09 L332.80,171.06 L332.30,171.02 L331.80,170.99 L331.30,170.96 L330.80,170.93 L330.30,170.90 L329.80,170.87 L329.30,170.84 L328.80,170.81 L328.30,170.78 L327.80,170.75 L327.30,170.72 L326.80,170.70 L326.30,170.67 L325.80,170.64 L325.30,170.62 L324.80,170.60 L324.30,170.57 L323.80,170.55 L323.30,170.53 L322.80,170.51 L322.30,170.49 L321.80,170.47 L321.30,170.45 L320.80,170.43 L320.30,170.42 L319.80,170.40 L319.30,170.39 L318.80,170.37 L318.30,170.36 L317.80,170.35 L317.30,170.34 L316.80,170.33 L316.30,170.32 L315.80,170.32 L315.30,170.31 L314.80,170.31 L314.30,170.30 L313.80,170.30Z" fill="#3a5570"/>
<path d="M478.30,179.29 L478.80,179.29 L479.30,179.30 L479.80,179.30 L480.30,179.30 L480.80,179.30 L481.30,179.31 L481.80,179.32 L482.30,179.33 L482.80,179.35 L483.30,179.37 L483.80,179.39 L484.30,179.41 L484.80,179.44 L485.30,179.46 L485.80,179.49 L486.30,179.53 L486.80,179.56 L487.30,179.59 L487.80,179.63 L488.30,179.67 L488.80,179.71 L489.30,179.75 L489.80,179.78 L490.30,179.82 L490.80,179.86 L491.30,179.90 L491.80,179.94 L492.30,179.98 L492.80,180.01 L493.30,180.05 L493.80,180.08 L494.30,180.11 L494.80,180.14 L495.30,180.17 L495.80,180.20 L496.30,180.22 L496.80,180.24 L497.30,180.26 L497.80,180.27 L498.30,180.28 L498.80,180.29 L499.30,180.30 L499.80,180.30 L500.30,180.30 L500.80,180.31 L501.30,180.31 L501.80,180.33 L502.30,180.34 L502.80,180.36 L503.30,180.39 L503.80,180.41 L504.30,180.44 L504.80,180.48 L505.30,180.51 L505.80,180.55 L506.30,180.59 L506.80,180.64 L507.30,180.68 L507.80,180.73 L508.30,180.78 L508.80,180.83 L509.30,180.88 L509.80,180.93 L510.30,180.98 L510.80,181.03 L511.30,181.08 L511.80,181.13 L512.30,181.18 L512.80,181.23 L513.30,181.27 L513.80,181.32 L514.30,181.36 L514.80,181.39 L515.30,181.43 L515.80,181.46 L516.30,181.49 L516.80,181.52 L517.30,181.54 L517.80,181.56 L518.30,181.58 L518.80,181.59 L519.30,181.60 L519.80,181.60 L520.30,181.60 L520.80,181.60 L521.30,181.61 L521.80,181.62 L522.30,181.63 L522.80,181.65 L523.30,181.67 L523.80,181.69 L524.30,181.71 L524.80,181.74 L525.30,181.77 L525.80,181.80 L526.30,181.83 L526.80,181.87 L527.30,181.91 L527.80,181.95 L528.30,181.99 L528.80,182.03 L529.30,182.07 L529.80,182.12 L530.30,182.17 L530.80,182.21 L531.30,182.26 L531.80,182.30 L532.30,182.35 L532.80,182.40 L533.30,182.44 L533.80,182.49 L534.30,182.53 L534.80,182.58 L535.30,182.62 L535.80,182.66 L536.30,182.70 L536.80,182.74 L537.30,182.77 L537.80,182.81 L538.30,182.84 L538.80,182.87 L539.30,182.89 L539.80,182.92 L540.30,182.94 L540.80,182.95 L541.30,182.97 L541.80,182.98 L542.30,182.99 L542.80,183.00 L543.00,183.00 L543.00,184.10 L542.80,184.10 L542.30,184.09 L541.80,184.09 L541.30,184.08 L540.80,184.06 L540.30,184.05 L539.80,184.03 L539.30,184.02 L538.80,183.99 L538.30,183.97 L537.80,183.95 L537.30,183.92 L536.80,183.89 L536.30,183.86 L535.80,183.83 L535.30,183.80 L534.80,183.77 L534.30,183.73 L533.80,183.70 L533.30,183.66 L532.80,183.63 L532.30,183.59 L531.80,183.55 L531.30,183.52 L530.80,183.48 L530.30,183.44 L529.80,183.41 L529.30,183.37 L528.80,183.34 L528.30,183.31 L527.80,183.27 L527.30,183.24 L526.80,183.21 L526.30,183.18 L525.80,183.16 L525.30,183.13 L524.80,183.11 L524.30,183.09 L523.80,183.07 L523.30,183.05 L522.80,183.04 L522.30,183.03 L521.80,183.02 L521.30,183.01 L520.80,183.00 L520.30,183.00 L519.80,183.00 L519.30,183.00 L518.80,182.99 L518.30,182.98 L517.80,182.96 L517.30,182.95 L516.80,182.93 L516.30,182.90 L515.80,182.87 L515.30,182.84 L514.80,182.81 L514.30,182.78 L513.80,182.74 L513.30,182.70 L512.80,182.66 L512.30,182.61 L511.80,182.57 L511.30,182.52 L510.80,182.48 L510.30,182.43 L509.80,182.38 L509.30,182.33 L508.80,182.29 L508.30,182.24 L507.80,182.20 L507.30,182.15 L506.80,182.11 L506.30,182.07 L505.80,182.03 L505.30,182.00 L504.80,181.96 L504.30,181.93 L503.80,181.90 L503.30,181.88 L502.80,181.86 L502.30,181.84 L501.80,181.82 L501.30,181.81 L500.80,181.80 L500.30,181.80 L499.80,181.80 L499.30,181.79 L498.80,181.78 L498.30,181.77 L497.80,181.75 L497.30,181.72 L496.80,181.69 L496.30,181.65 L495.80,181.61 L495.30,181.57 L494.80,181.52 L494.30,181.46 L493.80,181.41 L493.30,181.35 L492.80,181.28 L492.30,181.22 L491.80,181.15 L491.30,181.08 L490.80,181.01 L490.30,180.94 L489.80,180.87 L489.30,180.80 L488.80,180.73 L488.30,180.66 L487.80,180.60 L487.30,180.53 L486.80,180.47 L486.30,180.41 L485.80,180.35 L485.30,180.29 L484.80,180.24 L484.30,180.20 L483.80,180.16 L483.30,180.12 L482.80,180.09 L482.30,180.06 L481.80,180.04 L481.30,180.02 L480.80,180.01 L480.30,180.00 L479.80,180.00 L479.30,180.00 L478.80,180.00 L478.30,180.00Z" fill="#1f4f8f"/>
<path d="M313.80,169.60 L314.30,169.60 L314.80,169.60 L315.30,169.61 L315.80,169.61 L316.30,169.61 L316.80,169.61 L317.30,169.62 L317.80,169.62 L318.30,169.63 L318.80,169.63 L319.30,169.64 L319.80,169.64 L320.30,169.65 L320.80,169.66 L321.30,169.66 L321.80,169.67 L322.30,169.68 L322.80,169.69 L323.30,169.70 L323.80,169.70 L324.30,169.71 L324.80,169.72 L325.30,169.73 L325.80,169.74 L326.30,169.75 L326.80,169.76 L327.30,169.76 L327.80,169.77 L328.30,169.78 L328.80,169.79 L329.30,169.80 L329.80,169.81 L330.30,169.81 L330.80,169.82 L331.30,169.83 L331.80,169.84 L332.30,169.84 L332.80,169.85 L333.30,169.86 L333.80,169.86 L334.30,169.87 L334.80,169.87 L335.30,169.88 L335.80,169.88 L336.30,169.89 L336.80,169.89 L337.30,169.89 L337.80,169.90 L338.30,169.90 L338.80,169.90 L339.30,169.90 L339.80,169.90 L340.30,169.90 L340.80,169.90 L341.30,169.90 L341.80,169.91 L342.30,169.91 L342.80,169.91 L343.30,169.92 L343.80,169.92 L344.30,169.93 L344.80,169.94 L345.30,169.95 L345.80,169.95 L346.30,169.96 L346.80,169.97 L347.30,169.98 L347.80,169.99 L348.30,170.01 L348.80,170.02 L349.30,170.03 L349.80,170.04 L350.30,170.06 L350.80,170.07 L351.30,170.09 L351.80,170.10 L352.30,170.12 L352.80,170.13 L353.30,170.15 L353.80,170.16 L354.30,170.18 L354.80,170.19 L355.30,170.21 L355.80,170.23 L356.30,170.24 L356.80,170.26 L357.30,170.27 L357.80,170.29 L358.30,170.30 L358.80,170.32 L359.30,170.33 L359.80,170.34 L360.30,170.36 L360.80,170.37 L361.30,170.38 L361.80,170.40 L362.30,170.41 L362.80,170.42 L363.30,170.43 L363.80,170.44 L364.30,170.45 L364.80,170.46 L365.30,170.46 L365.80,170.47 L366.30,170.48 L366.80,170.48 L367.30,170.49 L367.80,170.49 L368.30,170.50 L368.80,170.50 L369.30,170.50 L369.80,170.50 L370.30,170.50 L370.80,170.50 L371.30,170.51 L371.80,170.51 L372.30,170.52 L372.80,170.52 L373.30,170.53 L373.80,170.54 L374.30,170.55 L374.80,170.57 L375.30,170.58 L375.80,170.60 L376.30,170.62 L376.80,170.63 L377.30,170.65 L377.80,170.67 L378.30,170.69 L378.80,170.72 L379.30,170.74 L379.80,170.77 L380.30,170.79 L380.80,170.82 L381.30,170.84 L381.80,170.87 L382.30,170.90 L382.80,170.92 L383.30,170.95 L383.80,170.98 L384.30,171.01 L384.80,171.04 L385.30,171.07 L385.80,171.10 L386.30,171.12 L386.80,171.15 L387.30,171.18 L387.80,171.21 L388.30,171.24 L388.80,171.26 L389.30,171.29 L389.80,171.31 L390.30,171.34 L390.80,171.36 L391.30,171.39 L391.80,171.41 L392.30,171.43 L392.80,171.45 L393.30,171.47 L393.80,171.49 L394.30,171.50 L394.80,171.52 L395.30,171.53 L395.80,171.55 L396.30,171.56 L396.80,171.57 L397.30,171.58 L397.80,171.59 L398.30,171.59 L398.80,171.60 L399.30,171.60 L399.80,171.60 L400.30,171.60 L400.80,171.60 L401.30,171.61 L401.80,171.62 L402.30,171.64 L402.80,171.66 L403.30,171.68 L403.80,171.70 L404.30,171.73 L404.80,171.76 L405.30,171.80 L405.80,171.83 L406.30,171.87 L406.80,171.91 L407.30,171.95 L407.80,172.00 L408.30,172.04 L408.80,172.09 L409.30,172.13 L409.80,172.18 L410.30,172.23 L410.80,172.28 L411.30,172.32 L411.80,172.37 L412.30,172.41 L412.80,172.46 L413.30,172.50 L413.80,172.54 L414.30,172.58 L414.80,172.61 L415.30,172.64 L415.80,172.67 L416.30,172.70 L416.80,172.73 L417.30,172.75 L417.80,172.76 L418.30,172.78 L418.80,172.79 L419.30,172.80 L419.80,172.80 L420.30,172.81 L420.80,172.86 L421.30,172.94 L421.80,173.05 L422.30,173.17 L422.80,173.28 L423.30,173.36 L423.80,173.40 L424.30,173.41 L424.80,173.47 L425.30,173.58 L425.80,173.74 L426.30,173.93 L426.80,174.16 L427.30,174.42 L427.80,174.69 L428.30,174.96 L428.80,175.23 L429.30,175.48 L429.80,175.71 L430.30,175.90 L430.80,176.05 L431.30,176.15 L431.80,176.20 L432.30,176.20 L432.80,176.20 L433.30,176.21 L433.80,176.21 L434.30,176.22 L434.80,176.23 L435.30,176.24 L435.80,176.25 L436.30,176.27 L436.80,176.28 L437.30,176.30 L437.80,176.32 L438.30,176.34 L438.80,176.36 L439.30,176.38 L439.80,176.41 L440.30,176.43 L440.80,176.46 L441.30,176.48 L441.80,176.51 L442.30,176.53 L442.80,176.56 L443.30,176.59 L443.80,176.62 L444.30,176.64 L444.80,176.67 L445.30,176.70 L445.80,176.72 L446.30,176.75 L446.80,176.77 L447.30,176.80 L447.80,176.82 L448.30,176.84 L448.80,176.86 L449.30,176.88 L449.80,176.90 L450.30,176.92 L450.80,176.94 L451.30,176.95 L451.80,176.96 L452.30,176.97 L452.80,176.98 L453.30,176.99 L453.80,176.99 L454.30,177.00 L454.80,177.00 L455.30,177.00 L455.80,177.00 L456.30,177.01 L456.80,177.02 L457.30,177.03 L457.80,177.04 L458.30,177.06 L458.80,177.07 L459.30,177.09 L459.80,177.11 L460.30,177.14 L460.80,177.17 L461.30,177.19 L461.80,177.22 L462.30,177.25 L462.80,177.29 L463.30,177.32 L463.80,177.36 L464.30,177.40 L464.80,177.43 L465.30,177.47 L465.80,177.51 L466.30,177.55 L466.80,177.59 L467.30,177.63 L467.80,177.67 L468.30,177.72 L468.80,177.76 L469.30,177.80 L469.80,177.84 L470.30,177.87 L470.80,177.91 L471.30,177.95 L471.80,177.98 L472.30,178.02 L472.80,178.05 L473.30,178.08 L473.80,178.11 L474.30,178.14 L474.80,178.17 L475.30,178.19 L475.80,178.21 L476.30,178.23 L476.80,178.25 L477.30,178.26 L477.80,178.28 L478.30,178.29 L478.80,178.29 L479.30,178.30 L479.80,178.30 L480.30,178.30 L480.80,178.30 L481.30,178.31 L481.80,178.32 L482.30,178.33 L482.80,178.35 L483.30,178.37 L483.80,178.39 L484.30,178.41 L484.80,178.44 L485.30,178.46 L485.80,178.49 L486.30,178.53 L486.80,178.56 L487.30,178.59 L487.80,178.63 L488.30,178.67 L488.80,178.71 L489.30,178.75 L489.80,178.78 L490.30,178.82 L490.80,178.86 L491.30,178.90 L491.80,178.94 L492.30,178.98 L492.80,179.01 L493.30,179.05 L493.80,179.08 L494.30,179.11 L494.80,179.14 L495.30,179.17 L495.80,179.20 L496.30,179.22 L496.80,179.24 L497.30,179.26 L497.80,179.27 L498.30,179.28 L498.80,179.29 L499.30,179.30 L499.80,179.30 L500.30,179.30 L500.80,179.31 L501.30,179.31 L501.80,179.33 L502.30,179.34 L502.80,179.36 L503.30,179.39 L503.80,179.41 L504.30,179.44 L504.80,179.48 L505.30,179.51 L505.80,179.55 L506.30,179.59 L506.80,179.64 L507.30,179.68 L507.80,179.73 L508.30,179.78 L508.80,179.83 L509.30,179.88 L509.80,179.93 L510.30,179.98 L510.80,180.03 L511.30,180.08 L511.80,180.13 L512.30,180.18 L512.80,180.23 L513.30,180.27 L513.80,180.32 L514.30,180.36 L514.80,180.39 L515.30,180.43 L515.80,180.46 L516.30,180.49 L516.80,180.52 L517.30,180.54 L517.80,180.56 L518.30,180.58 L518.80,180.59 L519.30,180.60 L519.80,180.60 L520.30,180.60 L520.80,180.60 L521.30,180.61 L521.80,180.62 L522.30,180.63 L522.80,180.65 L523.30,180.67 L523.80,180.69 L524.30,180.71 L524.80,180.74 L525.30,180.77 L525.80,180.80 L526.30,180.83 L526.80,180.87 L527.30,180.91 L527.80,180.95 L528.30,180.99 L528.80,181.03 L529.30,181.07 L529.80,181.12 L530.30,181.17 L530.80,181.21 L531.30,181.26 L531.80,181.30 L532.30,181.35 L532.80,181.40 L533.30,181.44 L533.80,181.49 L534.30,181.53 L534.80,181.58 L535.30,181.62 L535.80,181.66 L536.30,181.70 L536.80,181.74 L537.30,181.77 L537.80,181.81 L538.30,181.84 L538.80,181.87 L539.30,181.89 L539.80,181.92 L540.30,181.94 L540.80,181.95 L541.30,181.97 L541.80,181.98 L542.30,181.99 L542.80,182.00 L543.00,182.00" fill="none" stroke="#1a2433" stroke-width="1.0"/>
<path d="M313.80,170.30 L314.30,170.30 L314.80,170.31 L315.30,170.31 L315.80,170.32 L316.30,170.32 L316.80,170.33 L317.30,170.34 L317.80,170.35 L318.30,170.36 L318.80,170.37 L319.30,170.39 L319.80,170.40 L320.30,170.42 L320.80,170.43 L321.30,170.45 L321.80,170.47 L322.30,170.49 L322.80,170.51 L323.30,170.53 L323.80,170.55 L324.30,170.57 L324.80,170.60 L325.30,170.62 L325.80,170.64 L326.30,170.67 L326.80,170.70 L327.30,170.72 L327.80,170.75 L328.30,170.78 L328.80,170.81 L329.30,170.84 L329.80,170.87 L330.30,170.90 L330.80,170.93 L331.30,170.96 L331.80,170.99 L332.30,171.02 L332.80,171.06 L333.30,171.09 L333.80,171.12 L334.30,171.15 L334.80,171.19 L335.30,171.22 L335.80,171.25 L336.30,171.29 L336.80,171.32 L337.30,171.35 L337.80,171.39 L338.30,171.42 L338.80,171.45 L339.30,171.49 L339.80,171.52 L340.30,171.55 L340.80,171.58 L341.30,171.62 L341.80,171.65 L342.30,171.68 L342.80,171.71 L343.30,171.74 L343.80,171.77 L344.30,171.80 L344.80,171.83 L345.30,171.85 L345.80,171.88 L346.30,171.91 L346.80,171.94 L347.30,171.96 L347.80,171.99 L348.30,172.01 L348.80,172.03 L349.30,172.05 L349.80,172.08 L350.30,172.10 L350.80,172.12 L351.30,172.14 L351.80,172.15 L352.30,172.17 L352.80,172.19 L353.30,172.20 L353.80,172.22 L354.30,172.23 L354.80,172.24 L355.30,172.25 L355.80,172.26 L356.30,172.27 L356.80,172.28 L357.30,172.28 L357.80,172.29 L358.30,172.29 L358.80,172.30 L359.30,172.30 L359.80,172.30 L360.30,172.30 L360.80,172.30 L361.30,172.31 L361.80,172.31 L362.30,172.32 L362.80,172.32 L363.30,172.33 L363.80,172.34 L364.30,172.36 L364.80,172.37 L365.30,172.39 L365.80,172.40 L366.30,172.42 L366.80,172.44 L367.30,172.46 L367.80,172.48 L368.30,172.51 L368.80,172.53 L369.30,172.56 L369.80,172.58 L370.30,172.61 L370.80,172.64 L371.30,172.67 L371.80,172.70 L372.30,172.73 L372.80,172.76 L373.30,172.80 L373.80,172.83 L374.30,172.87 L374.80,172.90 L375.30,172.94 L375.80,172.98 L376.30,173.01 L376.80,173.05 L377.30,173.09 L377.80,173.13 L378.30,173.17 L378.80,173.21 L379.30,173.25 L379.80,173.28 L380.30,173.32 L380.80,173.36 L381.30,173.40 L381.80,173.44 L382.30,173.48 L382.80,173.52 L383.30,173.56 L383.80,173.59 L384.30,173.63 L384.80,173.67 L385.30,173.70 L385.80,173.74 L386.30,173.77 L386.80,173.81 L387.30,173.84 L387.80,173.88 L388.30,173.91 L388.80,173.94 L389.30,173.97 L389.80,174.00 L390.30,174.02 L390.80,174.05 L391.30,174.08 L391.80,174.10 L392.30,174.12 L392.80,174.14 L393.30,174.16 L393.80,174.18 L394.30,174.20 L394.80,174.22 L395.30,174.23 L395.80,174.25 L396.30,174.26 L396.80,174.27 L397.30,174.28 L397.80,174.29 L398.30,174.29 L398.80,174.30 L399.30,174.30 L399.80,174.30 L400.30,174.30 L400.80,174.30 L401.30,174.31 L401.80,174.32 L402.30,174.33 L402.80,174.35 L403.30,174.37 L403.80,174.39 L404.30,174.42 L404.80,174.44 L405.30,174.47 L405.80,174.51 L406.30,174.54 L406.80,174.58 L407.30,174.62 L407.80,174.66 L408.30,174.70 L408.80,174.74 L409.30,174.79 L409.80,174.84 L410.30,174.88 L410.80,174.93 L411.30,174.98 L411.80,175.03 L412.30,175.08 L412.80,175.13 L413.30,175.18 L413.80,175.23 L414.30,175.27 L414.80,175.32 L415.30,175.36 L415.80,175.41 L416.30,175.45 L416.80,175.49 L417.30,175.53 L417.80,175.57 L418.30,175.60 L418.80,175.63 L419.30,175.66 L419.80,175.69 L420.30,175.71 L420.80,175.74 L421.30,175.75 L421.80,175.77 L422.30,175.78 L422.80,175.79 L423.30,175.80 L423.80,175.80 L424.30,175.81 L424.80,175.86 L425.30,175.95 L425.80,176.09 L426.30,176.26 L426.80,176.46 L427.30,176.67 L427.80,176.91 L428.30,177.14 L428.80,177.37 L429.30,177.59 L429.80,177.78 L430.30,177.94 L430.80,178.07 L431.30,178.15 L431.80,178.20 L432.30,178.20 L432.80,178.20 L433.30,178.20 L433.80,178.21 L434.30,178.21 L434.80,178.21 L435.30,178.22 L435.80,178.22 L436.30,178.23 L436.80,178.24 L437.30,178.25 L437.80,178.26 L438.30,178.27 L438.80,178.28 L439.30,178.29 L439.80,178.30 L440.30,178.32 L440.80,178.33 L441.30,178.34 L441.80,178.36 L442.30,178.38 L442.80,178.39 L443.30,178.41 L443.80,178.43 L444.30,178.45 L444.80,178.46 L445.30,178.48 L445.80,178.50 L446.30,178.53 L446.80,178.55 L447.30,178.57 L447.80,178.59 L448.30,178.61 L448.80,178.64 L449.30,178.66 L449.80,178.68 L450.30,178.71 L450.80,178.73 L451.30,178.76 L451.80,178.78 L452.30,178.81 L452.80,178.83 L453.30,178.86 L453.80,178.89 L454.30,178.91 L454.80,178.94 L455.30,178.96 L455.80,178.99 L456.30,179.02 L456.80,179.04 L457.30,179.07 L457.80,179.09 L458.30,179.12 L458.80,179.15 L459.30,179.17 L459.80,179.20 L460.30,179.22 L460.80,179.25 L461.30,179.27 L461.80,179.30 L462.30,179.32 L462.80,179.34 L463.30,179.37 L463.80,179.39 L464.30,179.41 L464.80,179.44 L465.30,179.46 L465.80,179.48 L466.30,179.50 L466.80,179.52 L467.30,179.54 L467.80,179.56 L468.30,179.58 L468.80,179.59 L469.30,179.61 L469.80,179.63 L470.30,179.64 L470.80,179.66 L471.30,179.67 L471.80,179.69 L472.30,179.70 L472.80,179.71 L473.30,179.72 L473.80,179.74 L474.30,179.74 L474.80,179.75 L475.30,179.76 L475.80,179.77 L476.30,179.78 L476.80,179.78 L477.30,179.79 L477.80,179.79 L478.30,179.80 L478.80,179.80 L479.30,179.80 L479.80,179.80 L480.30,179.80 L480.80,179.81 L481.30,179.82 L481.80,179.84 L482.30,179.86 L482.80,179.89 L483.30,179.92 L483.80,179.96 L484.30,180.00 L484.80,180.04 L485.30,180.09 L485.80,180.15 L486.30,180.21 L486.80,180.27 L487.30,180.33 L487.80,180.40 L488.30,180.46 L488.80,180.53 L489.30,180.60 L489.80,180.67 L490.30,180.74 L490.80,180.81 L491.30,180.88 L491.80,180.95 L492.30,181.02 L492.80,181.08 L493.30,181.15 L493.80,181.21 L494.30,181.26 L494.80,181.32 L495.30,181.37 L495.80,181.41 L496.30,181.45 L496.80,181.49 L497.30,181.52 L497.80,181.55 L498.30,181.57 L498.80,181.58 L499.30,181.59 L499.80,181.60 L500.30,181.60 L500.80,181.60 L501.30,181.61 L501.80,181.62 L502.30,181.64 L502.80,181.66 L503.30,181.68 L503.80,181.70 L504.30,181.73 L504.80,181.76 L505.30,181.80 L505.80,181.83 L506.30,181.87 L506.80,181.91 L507.30,181.95 L507.80,182.00 L508.30,182.04 L508.80,182.09 L509.30,182.13 L509.80,182.18 L510.30,182.23 L510.80,182.28 L511.30,182.32 L511.80,182.37 L512.30,182.41 L512.80,182.46 L513.30,182.50 L513.80,182.54 L514.30,182.58 L514.80,182.61 L515.30,182.64 L515.80,182.67 L516.30,182.70 L516.80,182.73 L517.30,182.75 L517.80,182.76 L518.30,182.78 L518.80,182.79 L519.30,182.80 L519.80,182.80 L520.30,182.80 L520.80,182.80 L521.30,182.81 L521.80,182.82 L522.30,182.83 L522.80,182.84 L523.30,182.85 L523.80,182.87 L524.30,182.89 L524.80,182.91 L525.30,182.93 L525.80,182.96 L526.30,182.98 L526.80,183.01 L527.30,183.04 L527.80,183.07 L528.30,183.11 L528.80,183.14 L529.30,183.17 L529.80,183.21 L530.30,183.24 L530.80,183.28 L531.30,183.32 L531.80,183.35 L532.30,183.39 L532.80,183.43 L533.30,183.46 L533.80,183.50 L534.30,183.53 L534.80,183.57 L535.30,183.60 L535.80,183.63 L536.30,183.66 L536.80,183.69 L537.30,183.72 L537.80,183.75 L538.30,183.77 L538.80,183.79 L539.30,183.82 L539.80,183.83 L540.30,183.85 L540.80,183.86 L541.30,183.88 L541.80,183.89 L542.30,183.89 L542.80,183.90 L543.00,183.90" fill="none" stroke="#141c28" stroke-width="1.1"/>
<path d="M352.30,169.79 L352.80,169.77 L353.30,169.75 L353.80,169.72 L354.30,169.68 L354.80,169.64 L355.30,169.58 L355.80,169.51 L356.30,169.43 L356.80,169.34 L357.30,169.22 L357.80,169.08 L358.30,168.92 L358.80,168.73 L359.30,168.51 L359.80,168.26 L360.30,167.96 L360.80,167.62 L361.30,167.23 L361.80,166.78 L362.30,166.28 L362.80,165.71 L363.30,165.07 L363.80,164.35 L364.30,163.55 L364.80,162.66 L365.30,161.68 L365.80,160.60 L366.30,159.42 L366.80,158.14 L367.30,156.75 L367.80,155.25 L368.30,153.63 L368.80,151.90 L369.30,150.07 L369.80,148.12 L370.30,146.07 L370.80,143.92 L371.30,141.68 L371.80,139.36 L372.30,136.97 L372.80,134.51 L373.30,132.01 L373.80,129.47 L374.30,126.92 L374.80,124.36 L375.30,121.82 L375.80,119.31 L376.30,116.86 L376.80,114.49 L377.30,112.21 L377.80,110.04 L378.30,108.01 L378.80,106.13 L379.30,104.43 L379.80,102.92 L380.30,101.62 L380.80,100.53 L381.30,99.68 L381.80,99.08 L382.30,98.72 L382.80,98.62 L383.30,98.84 L383.80,99.43 L384.30,100.38 L384.80,101.68 L385.30,103.31 L385.80,105.24 L386.30,107.44 L386.80,109.89 L387.30,112.54 L387.80,115.36 L388.30,118.32 L388.80,121.38 L389.30,124.49 L389.80,127.64 L390.30,130.79 L390.80,133.90 L391.30,136.95 L391.80,139.91 L392.30,142.77 L392.80,145.50 L393.30,148.10 L393.80,150.54 L394.30,152.82 L394.80,154.94 L395.30,156.90 L395.80,158.69 L396.30,160.31 L396.80,161.78 L397.30,163.10 L397.80,164.27 L398.30,165.31 L398.80,166.22 L399.30,167.02 L399.80,167.71 L400.30,168.31 L400.80,168.83 L401.30,169.27 L401.80,169.66 L402.30,169.98 L402.80,170.27 L403.30,170.51 L403.80,170.72 L404.30,170.90 L404.80,171.06 L405.30,171.20 L405.80,171.32 L406.30,171.43 L406.80,171.53 L407.30,171.62 L407.30,171.95 L406.80,171.91 L406.30,171.87 L405.80,171.83 L405.30,171.80 L404.80,171.76 L404.30,171.73 L403.80,171.70 L403.30,171.68 L402.80,171.66 L402.30,171.64 L401.80,171.62 L401.30,171.61 L400.80,171.60 L400.30,171.60 L399.80,171.60 L399.30,171.60 L398.80,171.60 L398.30,171.59 L397.80,171.59 L397.30,171.58 L396.80,171.57 L396.30,171.56 L395.80,171.55 L395.30,171.53 L394.80,171.52 L394.30,171.50 L393.80,171.49 L393.30,171.47 L392.80,171.45 L392.30,171.43 L391.80,171.41 L391.30,171.39 L390.80,171.36 L390.30,171.34 L389.80,171.31 L389.30,171.29 L388.80,171.26 L388.30,171.24 L387.80,171.21 L387.30,171.18 L386.80,171.15 L386.30,171.12 L385.80,171.10 L385.30,171.07 L384.80,171.04 L384.30,171.01 L383.80,170.98 L383.30,170.95 L382.80,170.92 L382.30,170.90 L381.80,170.87 L381.30,170.84 L380.80,170.82 L380.30,170.79 L379.80,170.77 L379.30,170.74 L378.80,170.72 L378.30,170.69 L377.80,170.67 L377.30,170.65 L376.80,170.63 L376.30,170.62 L375.80,170.60 L375.30,170.58 L374.80,170.57 L374.30,170.55 L373.80,170.54 L373.30,170.53 L372.80,170.52 L372.30,170.52 L371.80,170.51 L371.30,170.51 L370.80,170.50 L370.30,170.50 L369.80,170.50 L369.30,170.50 L368.80,170.50 L368.30,170.50 L367.80,170.49 L367.30,170.49 L366.80,170.48 L366.30,170.48 L365.80,170.47 L365.30,170.46 L364.80,170.46 L364.30,170.45 L363.80,170.44 L363.30,170.43 L362.80,170.42 L362.30,170.41 L361.80,170.40 L361.30,170.38 L360.80,170.37 L360.30,170.36 L359.80,170.34 L359.30,170.33 L358.80,170.32 L358.30,170.30 L357.80,170.29 L357.30,170.27 L356.80,170.26 L356.30,170.24 L355.80,170.23 L355.30,170.21 L354.80,170.19 L354.30,170.18 L353.80,170.16 L353.30,170.15 L352.80,170.13 L352.30,170.12Z" fill="#fff"/>
<path d="M392.30,171.02 L392.80,170.88 L393.30,170.68 L393.80,170.41 L394.30,170.06 L394.80,169.62 L395.30,169.08 L395.80,168.41 L396.30,167.61 L396.80,166.68 L397.30,165.62 L397.80,164.44 L398.30,163.14 L398.80,161.75 L399.30,160.31 L399.80,158.86 L400.30,157.44 L400.80,156.10 L401.30,154.89 L401.80,153.87 L402.30,153.08 L402.80,152.55 L403.30,152.30 L403.80,152.36 L404.30,152.71 L404.80,153.34 L405.30,154.23 L405.80,155.34 L406.30,156.62 L406.80,158.03 L407.30,159.50 L407.80,161.00 L408.30,162.48 L408.80,163.90 L409.30,165.23 L409.80,166.45 L410.30,167.54 L410.80,168.50 L411.30,169.33 L411.80,170.03 L412.30,170.62 L412.80,171.09 L413.30,171.48 L413.80,171.79 L414.30,172.04 L414.80,172.23 L414.80,172.61 L414.30,172.58 L413.80,172.54 L413.30,172.50 L412.80,172.46 L412.30,172.41 L411.80,172.37 L411.30,172.32 L410.80,172.28 L410.30,172.23 L409.80,172.18 L409.30,172.13 L408.80,172.09 L408.30,172.04 L407.80,172.00 L407.30,171.95 L406.80,171.91 L406.30,171.87 L405.80,171.83 L405.30,171.80 L404.80,171.76 L404.30,171.73 L403.80,171.70 L403.30,171.68 L402.80,171.66 L402.30,171.64 L401.80,171.62 L401.30,171.61 L400.80,171.60 L400.30,171.60 L399.80,171.60 L399.30,171.60 L398.80,171.60 L398.30,171.59 L397.80,171.59 L397.30,171.58 L396.80,171.57 L396.30,171.56 L395.80,171.55 L395.30,171.53 L394.80,171.52 L394.30,171.50 L393.80,171.49 L393.30,171.47 L392.80,171.45 L392.30,171.43Z" fill="#fff"/>
<path d="M398.80,171.27 L399.30,171.21 L399.80,171.15 L400.30,171.07 L400.80,170.98 L401.30,170.88 L401.80,170.75 L402.30,170.61 L402.80,170.43 L403.30,170.21 L403.80,169.95 L404.30,169.62 L404.80,169.21 L405.30,168.71 L405.80,168.10 L406.30,167.35 L406.80,166.44 L407.30,165.36 L407.80,164.06 L408.30,162.53 L408.80,160.73 L409.30,158.64 L409.80,156.24 L410.30,153.49 L410.80,150.39 L411.30,146.92 L411.80,143.06 L412.30,138.83 L412.80,134.23 L413.30,129.27 L413.80,123.98 L414.30,118.40 L414.80,112.57 L415.30,106.56 L415.80,100.43 L416.30,94.25 L416.80,88.11 L417.30,82.09 L417.80,76.30 L418.30,70.82 L418.80,65.76 L419.30,61.21 L419.80,57.27 L420.30,54.02 L420.80,51.59 L421.30,50.01 L421.80,49.32 L422.30,49.53 L422.80,50.61 L423.30,52.52 L423.80,55.20 L424.30,58.62 L424.80,62.75 L425.30,67.53 L425.80,72.85 L426.30,78.61 L426.80,84.70 L427.30,91.03 L427.80,97.48 L428.30,103.96 L428.80,110.37 L429.30,116.64 L429.80,122.68 L430.30,128.43 L430.80,133.84 L431.30,138.88 L431.80,143.50 L432.30,147.71 L432.80,151.53 L433.30,154.98 L433.80,158.06 L434.30,160.79 L434.80,163.19 L435.30,165.27 L435.80,167.08 L436.30,168.62 L436.80,169.93 L437.30,171.04 L437.80,171.97 L438.30,172.74 L438.80,173.39 L439.30,173.92 L439.80,174.37 L440.30,174.74 L440.80,175.04 L441.30,175.30 L441.80,175.51 L442.30,175.69 L442.80,175.85 L443.30,175.98 L443.80,176.10 L444.30,176.21 L444.80,176.30 L445.30,176.38 L445.30,176.70 L444.80,176.67 L444.30,176.64 L443.80,176.62 L443.30,176.59 L442.80,176.56 L442.30,176.53 L441.80,176.51 L441.30,176.48 L440.80,176.46 L440.30,176.43 L439.80,176.41 L439.30,176.38 L438.80,176.36 L438.30,176.34 L437.80,176.32 L437.30,176.30 L436.80,176.28 L436.30,176.27 L435.80,176.25 L435.30,176.24 L434.80,176.23 L434.30,176.22 L433.80,176.21 L433.30,176.21 L432.80,176.20 L432.30,176.20 L431.80,176.20 L431.30,176.15 L430.80,176.05 L430.30,175.90 L429.80,175.71 L429.30,175.48 L428.80,175.23 L428.30,174.96 L427.80,174.69 L427.30,174.42 L426.80,174.16 L426.30,173.93 L425.80,173.74 L425.30,173.58 L424.80,173.47 L424.30,173.41 L423.80,173.40 L423.30,173.36 L422.80,173.28 L422.30,173.17 L421.80,173.05 L421.30,172.94 L420.80,172.86 L420.30,172.81 L419.80,172.80 L419.30,172.80 L418.80,172.79 L418.30,172.78 L417.80,172.76 L417.30,172.75 L416.80,172.73 L416.30,172.70 L415.80,172.67 L415.30,172.64 L414.80,172.61 L414.30,172.58 L413.80,172.54 L413.30,172.50 L412.80,172.46 L412.30,172.41 L411.80,172.37 L411.30,172.32 L410.80,172.28 L410.30,172.23 L409.80,172.18 L409.30,172.13 L408.80,172.09 L408.30,172.04 L407.80,172.00 L407.30,171.95 L406.80,171.91 L406.30,171.87 L405.80,171.83 L405.30,171.80 L404.80,171.76 L404.30,171.73 L403.80,171.70 L403.30,171.68 L402.80,171.66 L402.30,171.64 L401.80,171.62 L401.30,171.61 L400.80,171.60 L400.30,171.60 L399.80,171.60 L399.30,171.60 L398.80,171.60Z" fill="#fff"/>
<path d="M417.80,172.41 L418.30,172.30 L418.80,172.16 L419.30,171.97 L419.80,171.72 L420.30,171.42 L420.80,171.10 L421.30,170.73 L421.80,170.30 L422.30,169.78 L422.80,169.14 L423.30,168.36 L423.80,167.44 L424.30,166.37 L424.80,165.24 L425.30,164.06 L425.80,162.84 L426.30,161.59 L426.80,160.32 L427.30,159.06 L427.80,157.83 L428.30,156.65 L428.80,155.55 L429.30,154.54 L429.80,153.66 L430.30,152.93 L430.80,152.37 L431.30,152.00 L431.80,151.82 L432.30,151.85 L432.80,152.13 L433.30,152.66 L433.80,153.41 L434.30,154.38 L434.80,155.53 L435.30,156.82 L435.80,158.23 L436.30,159.71 L436.80,161.23 L437.30,162.76 L437.80,164.27 L438.30,165.72 L438.80,167.11 L439.30,168.40 L439.80,169.59 L440.30,170.67 L440.80,171.64 L441.30,172.50 L441.80,173.25 L442.30,173.90 L442.80,174.45 L443.30,174.91 L443.80,175.30 L444.30,175.62 L444.80,175.88 L445.30,176.10 L445.80,176.27 L446.30,176.41 L446.30,176.75 L445.80,176.72 L445.30,176.70 L444.80,176.67 L444.30,176.64 L443.80,176.62 L443.30,176.59 L442.80,176.56 L442.30,176.53 L441.80,176.51 L441.30,176.48 L440.80,176.46 L440.30,176.43 L439.80,176.41 L439.30,176.38 L438.80,176.36 L438.30,176.34 L437.80,176.32 L437.30,176.30 L436.80,176.28 L436.30,176.27 L435.80,176.25 L435.30,176.24 L434.80,176.23 L434.30,176.22 L433.80,176.21 L433.30,176.21 L432.80,176.20 L432.30,176.20 L431.80,176.20 L431.30,176.15 L430.80,176.05 L430.30,175.90 L429.80,175.71 L429.30,175.48 L428.80,175.23 L428.30,174.96 L427.80,174.69 L427.30,174.42 L426.80,174.16 L426.30,173.93 L425.80,173.74 L425.30,173.58 L424.80,173.47 L424.30,173.41 L423.80,173.40 L423.30,173.36 L422.80,173.28 L422.30,173.17 L421.80,173.05 L421.30,172.94 L420.80,172.86 L420.30,172.81 L419.80,172.80 L419.30,172.80 L418.80,172.79 L418.30,172.78 L417.80,172.76Z" fill="#fff"/>
<path d="M445.80,176.38 L446.30,176.30 L446.80,176.19 L447.30,176.03 L447.80,175.82 L448.30,175.54 L448.80,175.18 L449.30,174.73 L449.80,174.16 L450.30,173.46 L450.80,172.60 L451.30,171.57 L451.80,170.34 L452.30,168.91 L452.80,167.26 L453.30,165.38 L453.80,163.27 L454.30,160.93 L454.80,158.37 L455.30,155.60 L455.80,152.66 L456.30,149.57 L456.80,146.37 L457.30,143.11 L457.80,139.82 L458.30,136.57 L458.80,133.41 L459.30,130.40 L459.80,127.60 L460.30,125.08 L460.80,122.88 L461.30,121.06 L461.80,119.67 L462.30,118.75 L462.80,118.33 L463.30,118.38 L463.80,118.79 L464.30,119.52 L464.80,120.57 L465.30,121.91 L465.80,123.52 L466.30,125.37 L466.80,127.43 L467.30,129.66 L467.80,132.04 L468.30,134.54 L468.80,137.11 L469.30,139.72 L469.80,142.35 L470.30,144.97 L470.80,147.56 L471.30,150.08 L471.80,152.53 L472.30,154.87 L472.80,157.11 L473.30,159.23 L473.80,161.21 L474.30,163.06 L474.80,164.77 L475.30,166.34 L475.80,167.77 L476.30,169.07 L476.80,170.23 L477.30,171.28 L477.80,172.20 L478.30,173.02 L478.80,173.74 L479.30,174.36 L479.80,174.90 L480.30,175.37 L480.80,175.77 L481.30,176.12 L481.80,176.42 L482.30,176.68 L482.80,176.91 L483.30,177.11 L483.80,177.28 L484.30,177.44 L484.80,177.57 L485.30,177.69 L485.80,177.80 L486.30,177.91 L486.80,178.00 L487.30,178.09 L487.80,178.17 L488.30,178.25 L488.80,178.32 L489.30,178.40 L489.80,178.47 L489.80,178.78 L489.30,178.75 L488.80,178.71 L488.30,178.67 L487.80,178.63 L487.30,178.59 L486.80,178.56 L486.30,178.53 L485.80,178.49 L485.30,178.46 L484.80,178.44 L484.30,178.41 L483.80,178.39 L483.30,178.37 L482.80,178.35 L482.30,178.33 L481.80,178.32 L481.30,178.31 L480.80,178.30 L480.30,178.30 L479.80,178.30 L479.30,178.30 L478.80,178.29 L478.30,178.29 L477.80,178.28 L477.30,178.26 L476.80,178.25 L476.30,178.23 L475.80,178.21 L475.30,178.19 L474.80,178.17 L474.30,178.14 L473.80,178.11 L473.30,178.08 L472.80,178.05 L472.30,178.02 L471.80,177.98 L471.30,177.95 L470.80,177.91 L470.30,177.87 L469.80,177.84 L469.30,177.80 L468.80,177.76 L468.30,177.72 L467.80,177.67 L467.30,177.63 L466.80,177.59 L466.30,177.55 L465.80,177.51 L465.30,177.47 L464.80,177.43 L464.30,177.40 L463.80,177.36 L463.30,177.32 L462.80,177.29 L462.30,177.25 L461.80,177.22 L461.30,177.19 L460.80,177.17 L460.30,177.14 L459.80,177.11 L459.30,177.09 L458.80,177.07 L458.30,177.06 L457.80,177.04 L457.30,177.03 L456.80,177.02 L456.30,177.01 L455.80,177.00 L455.30,177.00 L454.80,177.00 L454.30,177.00 L453.80,176.99 L453.30,176.99 L452.80,176.98 L452.30,176.97 L451.80,176.96 L451.30,176.95 L450.80,176.94 L450.30,176.92 L449.80,176.90 L449.30,176.88 L448.80,176.86 L448.30,176.84 L447.80,176.82 L447.30,176.80 L446.80,176.77 L446.30,176.75 L445.80,176.72Z" fill="#fff"/>
<path d="M462.30,176.88 L462.80,176.81 L463.30,176.72 L463.80,176.60 L464.30,176.44 L464.80,176.25 L465.30,176.02 L465.80,175.73 L466.30,175.39 L466.80,174.98 L467.30,174.51 L467.80,173.96 L468.30,173.33 L468.80,172.61 L469.30,171.81 L469.80,170.91 L470.30,169.92 L470.80,168.85 L471.30,167.69 L471.80,166.46 L472.30,165.16 L472.80,163.80 L473.30,162.41 L473.80,160.99 L474.30,159.56 L474.80,158.16 L475.30,156.79 L475.80,155.48 L476.30,154.27 L476.80,153.16 L477.30,152.17 L477.80,151.34 L478.30,150.68 L478.80,150.19 L479.30,149.90 L479.80,149.80 L480.30,149.90 L480.80,150.20 L481.30,150.70 L481.80,151.39 L482.30,152.24 L482.80,153.25 L483.30,154.40 L483.80,155.66 L484.30,157.01 L484.80,158.43 L485.30,159.89 L485.80,161.37 L486.30,162.85 L486.80,164.31 L487.30,165.73 L487.80,167.11 L488.30,168.41 L488.80,169.64 L489.30,170.80 L489.80,171.86 L490.30,172.83 L490.80,173.72 L491.30,174.51 L491.80,175.22 L492.30,175.85 L492.80,176.40 L493.30,176.88 L493.80,177.30 L494.30,177.66 L494.80,177.96 L495.30,178.22 L495.80,178.43 L496.30,178.61 L496.80,178.76 L497.30,178.88 L497.30,179.26 L496.80,179.24 L496.30,179.22 L495.80,179.20 L495.30,179.17 L494.80,179.14 L494.30,179.11 L493.80,179.08 L493.30,179.05 L492.80,179.01 L492.30,178.98 L491.80,178.94 L491.30,178.90 L490.80,178.86 L490.30,178.82 L489.80,178.78 L489.30,178.75 L488.80,178.71 L488.30,178.67 L487.80,178.63 L487.30,178.59 L486.80,178.56 L486.30,178.53 L485.80,178.49 L485.30,178.46 L484.80,178.44 L484.30,178.41 L483.80,178.39 L483.30,178.37 L482.80,178.35 L482.30,178.33 L481.80,178.32 L481.30,178.31 L480.80,178.30 L480.30,178.30 L479.80,178.30 L479.30,178.30 L478.80,178.29 L478.30,178.29 L477.80,178.28 L477.30,178.26 L476.80,178.25 L476.30,178.23 L475.80,178.21 L475.30,178.19 L474.80,178.17 L474.30,178.14 L473.80,178.11 L473.30,178.08 L472.80,178.05 L472.30,178.02 L471.80,177.98 L471.30,177.95 L470.80,177.91 L470.30,177.87 L469.80,177.84 L469.30,177.80 L468.80,177.76 L468.30,177.72 L467.80,177.67 L467.30,177.63 L466.80,177.59 L466.30,177.55 L465.80,177.51 L465.30,177.47 L464.80,177.43 L464.30,177.40 L463.80,177.36 L463.30,177.32 L462.80,177.29 L462.30,177.25Z" fill="#fff"/>
<path d="M483.80,178.08 L484.30,178.02 L484.80,177.95 L485.30,177.86 L485.80,177.75 L486.30,177.61 L486.80,177.45 L487.30,177.26 L487.80,177.03 L488.30,176.77 L488.80,176.46 L489.30,176.12 L489.80,175.73 L490.30,175.31 L490.80,174.84 L491.30,174.33 L491.80,173.79 L492.30,173.22 L492.80,172.62 L493.30,172.01 L493.80,171.39 L494.30,170.76 L494.80,170.16 L495.30,169.57 L495.80,169.01 L496.30,168.50 L496.80,168.05 L497.30,167.66 L497.80,167.34 L498.30,167.11 L498.80,166.96 L499.30,166.90 L499.80,166.92 L500.30,167.00 L500.80,167.14 L501.30,167.34 L501.80,167.59 L502.30,167.90 L502.80,168.26 L503.30,168.67 L503.80,169.11 L504.30,169.59 L504.80,170.10 L505.30,170.63 L505.80,171.18 L506.30,171.74 L506.80,172.30 L507.30,172.87 L507.80,173.43 L508.30,173.98 L508.80,174.52 L509.30,175.04 L509.80,175.54 L510.30,176.01 L510.80,176.47 L511.30,176.90 L511.80,177.30 L512.30,177.67 L512.80,178.01 L513.30,178.33 L513.80,178.62 L514.30,178.88 L514.80,179.12 L515.30,179.33 L515.80,179.53 L516.30,179.69 L516.80,179.84 L517.30,179.97 L517.80,180.08 L518.30,180.17 L518.80,180.25 L518.80,180.59 L518.30,180.58 L517.80,180.56 L517.30,180.54 L516.80,180.52 L516.30,180.49 L515.80,180.46 L515.30,180.43 L514.80,180.39 L514.30,180.36 L513.80,180.32 L513.30,180.27 L512.80,180.23 L512.30,180.18 L511.80,180.13 L511.30,180.08 L510.80,180.03 L510.30,179.98 L509.80,179.93 L509.30,179.88 L508.80,179.83 L508.30,179.78 L507.80,179.73 L507.30,179.68 L506.80,179.64 L506.30,179.59 L505.80,179.55 L505.30,179.51 L504.80,179.48 L504.30,179.44 L503.80,179.41 L503.30,179.39 L502.80,179.36 L502.30,179.34 L501.80,179.33 L501.30,179.31 L500.80,179.31 L500.30,179.30 L499.80,179.30 L499.30,179.30 L498.80,179.29 L498.30,179.28 L497.80,179.27 L497.30,179.26 L496.80,179.24 L496.30,179.22 L495.80,179.20 L495.30,179.17 L494.80,179.14 L494.30,179.11 L493.80,179.08 L493.30,179.05 L492.80,179.01 L492.30,178.98 L491.80,178.94 L491.30,178.90 L490.80,178.86 L490.30,178.82 L489.80,178.78 L489.30,178.75 L488.80,178.71 L488.30,178.67 L487.80,178.63 L487.30,178.59 L486.80,178.56 L486.30,178.53 L485.80,178.49 L485.30,178.46 L484.80,178.44 L484.30,178.41 L483.80,178.39Z" fill="#fff"/>
<path d="M352.30,169.79 L352.80,169.77 L353.30,169.75 L353.80,169.72 L354.30,169.68 L354.80,169.64 L355.30,169.58 L355.80,169.51 L356.30,169.43 L356.80,169.34 L357.30,169.22 L357.80,169.08 L358.30,168.92 L358.80,168.73 L359.30,168.51 L359.80,168.26 L360.30,167.96 L360.80,167.62 L361.30,167.23 L361.80,166.78 L362.30,166.28 L362.80,165.71 L363.30,165.07 L363.80,164.35 L364.30,163.55 L364.80,162.66 L365.30,161.68 L365.80,160.60 L366.30,159.42 L366.80,158.14 L367.30,156.75 L367.80,155.25 L368.30,153.63 L368.80,151.90 L369.30,150.07 L369.80,148.12 L370.30,146.07 L370.80,143.92 L371.30,141.68 L371.80,139.36 L372.30,136.97 L372.80,134.51 L373.30,132.01 L373.80,129.47 L374.30,126.92 L374.80,124.36 L375.30,121.82 L375.80,119.31 L376.30,116.86 L376.80,114.49 L377.30,112.21 L377.80,110.04 L378.30,108.01 L378.80,106.13 L379.30,104.43 L379.80,102.92 L380.30,101.62 L380.80,100.53 L381.30,99.68 L381.80,99.08 L382.30,98.72 L382.80,98.62 L383.30,98.84 L383.80,99.43 L384.30,100.38 L384.80,101.68 L385.30,103.31 L385.80,105.24 L386.30,107.44 L386.80,109.89 L387.30,112.54 L387.80,115.36 L388.30,118.32 L388.80,121.38 L389.30,124.49 L389.80,127.64 L390.30,130.79 L390.80,133.90 L391.30,136.95 L391.80,139.91 L392.30,142.77 L392.80,145.50 L393.30,148.10 L393.80,150.54 L394.30,152.82 L394.80,154.94 L395.30,156.90 L395.80,158.69 L396.30,160.31 L396.80,161.78 L397.30,163.10 L397.80,164.27 L398.30,165.31 L398.80,166.22 L399.30,167.02 L399.80,167.71 L400.30,168.31 L400.80,168.83 L401.30,169.27 L401.80,169.66 L402.30,169.98 L402.80,170.27 L403.30,170.51 L403.80,170.72 L404.30,170.90 L404.80,171.06 L405.30,171.20 L405.80,171.32 L406.30,171.43 L406.80,171.53 L407.30,171.62 L407.30,171.95 L406.80,171.91 L406.30,171.87 L405.80,171.83 L405.30,171.80 L404.80,171.76 L404.30,171.73 L403.80,171.70 L403.30,171.68 L402.80,171.66 L402.30,171.64 L401.80,171.62 L401.30,171.61 L400.80,171.60 L400.30,171.60 L399.80,171.60 L399.30,171.60 L398.80,171.60 L398.30,171.59 L397.80,171.59 L397.30,171.58 L396.80,171.57 L396.30,171.56 L395.80,171.55 L395.30,171.53 L394.80,171.52 L394.30,171.50 L393.80,171.49 L393.30,171.47 L392.80,171.45 L392.30,171.43 L391.80,171.41 L391.30,171.39 L390.80,171.36 L390.30,171.34 L389.80,171.31 L389.30,171.29 L388.80,171.26 L388.30,171.24 L387.80,171.21 L387.30,171.18 L386.80,171.15 L386.30,171.12 L385.80,171.10 L385.30,171.07 L384.80,171.04 L384.30,171.01 L383.80,170.98 L383.30,170.95 L382.80,170.92 L382.30,170.90 L381.80,170.87 L381.30,170.84 L380.80,170.82 L380.30,170.79 L379.80,170.77 L379.30,170.74 L378.80,170.72 L378.30,170.69 L377.80,170.67 L377.30,170.65 L376.80,170.63 L376.30,170.62 L375.80,170.60 L375.30,170.58 L374.80,170.57 L374.30,170.55 L373.80,170.54 L373.30,170.53 L372.80,170.52 L372.30,170.52 L371.80,170.51 L371.30,170.51 L370.80,170.50 L370.30,170.50 L369.80,170.50 L369.30,170.50 L368.80,170.50 L368.30,170.50 L367.80,170.49 L367.30,170.49 L366.80,170.48 L366.30,170.48 L365.80,170.47 L365.30,170.46 L364.80,170.46 L364.30,170.45 L363.80,170.44 L363.30,170.43 L362.80,170.42 L362.30,170.41 L361.80,170.40 L361.30,170.38 L360.80,170.37 L360.30,170.36 L359.80,170.34 L359.30,170.33 L358.80,170.32 L358.30,170.30 L357.80,170.29 L357.30,170.27 L356.80,170.26 L356.30,170.24 L355.80,170.23 L355.30,170.21 L354.80,170.19 L354.30,170.18 L353.80,170.16 L353.30,170.15 L352.80,170.13 L352.30,170.12Z" fill="#1e6e96" fill-opacity="0.8"/>
<path d="M352.30,169.79 L352.80,169.77 L353.30,169.75 L353.80,169.72 L354.30,169.68 L354.80,169.64 L355.30,169.58 L355.80,169.51 L356.30,169.43 L356.80,169.34 L357.30,169.22 L357.80,169.08 L358.30,168.92 L358.80,168.73 L359.30,168.51 L359.80,168.26 L360.30,167.96 L360.80,167.62 L361.30,167.23 L361.80,166.78 L362.30,166.28 L362.80,165.71 L363.30,165.07 L363.80,164.35 L364.30,163.55 L364.80,162.66 L365.30,161.68 L365.80,160.60 L366.30,159.42 L366.80,158.14 L367.30,156.75 L367.80,155.25 L368.30,153.63 L368.80,151.90 L369.30,150.07 L369.80,148.12 L370.30,146.07 L370.80,143.92 L371.30,141.68 L371.80,139.36 L372.30,136.97 L372.80,134.51 L373.30,132.01 L373.80,129.47 L374.30,126.92 L374.80,124.36 L375.30,121.82 L375.80,119.31 L376.30,116.86 L376.80,114.49 L377.30,112.21 L377.80,110.04 L378.30,108.01 L378.80,106.13 L379.30,104.43 L379.80,102.92 L380.30,101.62 L380.80,100.53 L381.30,99.68 L381.80,99.08 L382.30,98.72 L382.80,98.62 L383.30,98.84 L383.80,99.43 L384.30,100.38 L384.80,101.68 L385.30,103.31 L385.80,105.24 L386.30,107.44 L386.80,109.89 L387.30,112.54 L387.80,115.36 L388.30,118.32 L388.80,121.38 L389.30,124.49 L389.80,127.64 L390.30,130.79 L390.80,133.90 L391.30,136.95 L391.80,139.91 L392.30,142.77 L392.80,145.50 L393.30,148.10 L393.80,150.54 L394.30,152.82 L394.80,154.94 L395.30,156.90 L395.80,158.69 L396.30,160.31 L396.80,161.78 L397.30,163.10 L397.80,164.27 L398.30,165.31 L398.80,166.22 L399.30,167.02 L399.80,167.71 L400.30,168.31 L400.80,168.83 L401.30,169.27 L401.80,169.66 L402.30,169.98 L402.80,170.27 L403.30,170.51 L403.80,170.72 L404.30,170.90 L404.80,171.06 L405.30,171.20 L405.80,171.32 L406.30,171.43 L406.80,171.53 L407.30,171.62" fill="none" stroke="#1f5a8e" stroke-width="1.0"/>
<path d="M392.30,171.02 L392.80,170.88 L393.30,170.68 L393.80,170.41 L394.30,170.06 L394.80,169.62 L395.30,169.08 L395.80,168.41 L396.30,167.61 L396.80,166.68 L397.30,165.62 L397.80,164.44 L398.30,163.14 L398.80,161.75 L399.30,160.31 L399.80,158.86 L400.30,157.44 L400.80,156.10 L401.30,154.89 L401.80,153.87 L402.30,153.08 L402.80,152.55 L403.30,152.30 L403.80,152.36 L404.30,152.71 L404.80,153.34 L405.30,154.23 L405.80,155.34 L406.30,156.62 L406.80,158.03 L407.30,159.50 L407.80,161.00 L408.30,162.48 L408.80,163.90 L409.30,165.23 L409.80,166.45 L410.30,167.54 L410.80,168.50 L411.30,169.33 L411.80,170.03 L412.30,170.62 L412.80,171.09 L413.30,171.48 L413.80,171.79 L414.30,172.04 L414.80,172.23 L414.80,172.61 L414.30,172.58 L413.80,172.54 L413.30,172.50 L412.80,172.46 L412.30,172.41 L411.80,172.37 L411.30,172.32 L410.80,172.28 L410.30,172.23 L409.80,172.18 L409.30,172.13 L408.80,172.09 L408.30,172.04 L407.80,172.00 L407.30,171.95 L406.80,171.91 L406.30,171.87 L405.80,171.83 L405.30,171.80 L404.80,171.76 L404.30,171.73 L403.80,171.70 L403.30,171.68 L402.80,171.66 L402.30,171.64 L401.80,171.62 L401.30,171.61 L400.80,171.60 L400.30,171.60 L399.80,171.60 L399.30,171.60 L398.80,171.60 L398.30,171.59 L397.80,171.59 L397.30,171.58 L396.80,171.57 L396.30,171.56 L395.80,171.55 L395.30,171.53 L394.80,171.52 L394.30,171.50 L393.80,171.49 L393.30,171.47 L392.80,171.45 L392.30,171.43Z" fill="#1e6e96" fill-opacity="0.8"/>
<path d="M392.30,171.02 L392.80,170.88 L393.30,170.68 L393.80,170.41 L394.30,170.06 L394.80,169.62 L395.30,169.08 L395.80,168.41 L396.30,167.61 L396.80,166.68 L397.30,165.62 L397.80,164.44 L398.30,163.14 L398.80,161.75 L399.30,160.31 L399.80,158.86 L400.30,157.44 L400.80,156.10 L401.30,154.89 L401.80,153.87 L402.30,153.08 L402.80,152.55 L403.30,152.30 L403.80,152.36 L404.30,152.71 L404.80,153.34 L405.30,154.23 L405.80,155.34 L406.30,156.62 L406.80,158.03 L407.30,159.50 L407.80,161.00 L408.30,162.48 L408.80,163.90 L409.30,165.23 L409.80,166.45 L410.30,167.54 L410.80,168.50 L411.30,169.33 L411.80,170.03 L412.30,170.62 L412.80,171.09 L413.30,171.48 L413.80,171.79 L414.30,172.04 L414.80,172.23" fill="none" stroke="#1f5a8e" stroke-width="1.0"/>
<path d="M398.80,171.27 L399.30,171.21 L399.80,171.15 L400.30,171.07 L400.80,170.98 L401.30,170.88 L401.80,170.75 L402.30,170.61 L402.80,170.43 L403.30,170.21 L403.80,169.95 L404.30,169.62 L404.80,169.21 L405.30,168.71 L405.80,168.10 L406.30,167.35 L406.80,166.44 L407.30,165.36 L407.80,164.06 L408.30,162.53 L408.80,160.73 L409.30,158.64 L409.80,156.24 L410.30,153.49 L410.80,150.39 L411.30,146.92 L411.80,143.06 L412.30,138.83 L412.80,134.23 L413.30,129.27 L413.80,123.98 L414.30,118.40 L414.80,112.57 L415.30,106.56 L415.80,100.43 L416.30,94.25 L416.80,88.11 L417.30,82.09 L417.80,76.30 L418.30,70.82 L418.80,65.76 L419.30,61.21 L419.80,57.27 L420.30,54.02 L420.80,51.59 L421.30,50.01 L421.80,49.32 L422.30,49.53 L422.80,50.61 L423.30,52.52 L423.80,55.20 L424.30,58.62 L424.80,62.75 L425.30,67.53 L425.80,72.85 L426.30,78.61 L426.80,84.70 L427.30,91.03 L427.80,97.48 L428.30,103.96 L428.80,110.37 L429.30,116.64 L429.80,122.68 L430.30,128.43 L430.80,133.84 L431.30,138.88 L431.80,143.50 L432.30,147.71 L432.80,151.53 L433.30,154.98 L433.80,158.06 L434.30,160.79 L434.80,163.19 L435.30,165.27 L435.80,167.08 L436.30,168.62 L436.80,169.93 L437.30,171.04 L437.80,171.97 L438.30,172.74 L438.80,173.39 L439.30,173.92 L439.80,174.37 L440.30,174.74 L440.80,175.04 L441.30,175.30 L441.80,175.51 L442.30,175.69 L442.80,175.85 L443.30,175.98 L443.80,176.10 L444.30,176.21 L444.80,176.30 L445.30,176.38 L445.30,176.70 L444.80,176.67 L444.30,176.64 L443.80,176.62 L443.30,176.59 L442.80,176.56 L442.30,176.53 L441.80,176.51 L441.30,176.48 L440.80,176.46 L440.30,176.43 L439.80,176.41 L439.30,176.38 L438.80,176.36 L438.30,176.34 L437.80,176.32 L437.30,176.30 L436.80,176.28 L436.30,176.27 L435.80,176.25 L435.30,176.24 L434.80,176.23 L434.30,176.22 L433.80,176.21 L433.30,176.21 L432.80,176.20 L432.30,176.20 L431.80,176.20 L431.30,176.15 L430.80,176.05 L430.30,175.90 L429.80,175.71 L429.30,175.48 L428.80,175.23 L428.30,174.96 L427.80,174.69 L427.30,174.42 L426.80,174.16 L426.30,173.93 L425.80,173.74 L425.30,173.58 L424.80,173.47 L424.30,173.41 L423.80,173.40 L423.30,173.36 L422.80,173.28 L422.30,173.17 L421.80,173.05 L421.30,172.94 L420.80,172.86 L420.30,172.81 L419.80,172.80 L419.30,172.80 L418.80,172.79 L418.30,172.78 L417.80,172.76 L417.30,172.75 L416.80,172.73 L416.30,172.70 L415.80,172.67 L415.30,172.64 L414.80,172.61 L414.30,172.58 L413.80,172.54 L413.30,172.50 L412.80,172.46 L412.30,172.41 L411.80,172.37 L411.30,172.32 L410.80,172.28 L410.30,172.23 L409.80,172.18 L409.30,172.13 L408.80,172.09 L408.30,172.04 L407.80,172.00 L407.30,171.95 L406.80,171.91 L406.30,171.87 L405.80,171.83 L405.30,171.80 L404.80,171.76 L404.30,171.73 L403.80,171.70 L403.30,171.68 L402.80,171.66 L402.30,171.64 L401.80,171.62 L401.30,171.61 L400.80,171.60 L400.30,171.60 L399.80,171.60 L399.30,171.60 L398.80,171.60Z" fill="#c63ea2" fill-opacity="0.72"/>
<path d="M398.80,171.27 L399.30,171.21 L399.80,171.15 L400.30,171.07 L400.80,170.98 L401.30,170.88 L401.80,170.75 L402.30,170.61 L402.80,170.43 L403.30,170.21 L403.80,169.95 L404.30,169.62 L404.80,169.21 L405.30,168.71 L405.80,168.10 L406.30,167.35 L406.80,166.44 L407.30,165.36 L407.80,164.06 L408.30,162.53 L408.80,160.73 L409.30,158.64 L409.80,156.24 L410.30,153.49 L410.80,150.39 L411.30,146.92 L411.80,143.06 L412.30,138.83 L412.80,134.23 L413.30,129.27 L413.80,123.98 L414.30,118.40 L414.80,112.57 L415.30,106.56 L415.80,100.43 L416.30,94.25 L416.80,88.11 L417.30,82.09 L417.80,76.30 L418.30,70.82 L418.80,65.76 L419.30,61.21 L419.80,57.27 L420.30,54.02 L420.80,51.59 L421.30,50.01 L421.80,49.32 L422.30,49.53 L422.80,50.61 L423.30,52.52 L423.80,55.20 L424.30,58.62 L424.80,62.75 L425.30,67.53 L425.80,72.85 L426.30,78.61 L426.80,84.70 L427.30,91.03 L427.80,97.48 L428.30,103.96 L428.80,110.37 L429.30,116.64 L429.80,122.68 L430.30,128.43 L430.80,133.84 L431.30,138.88 L431.80,143.50 L432.30,147.71 L432.80,151.53 L433.30,154.98 L433.80,158.06 L434.30,160.79 L434.80,163.19 L435.30,165.27 L435.80,167.08 L436.30,168.62 L436.80,169.93 L437.30,171.04 L437.80,171.97 L438.30,172.74 L438.80,173.39 L439.30,173.92 L439.80,174.37 L440.30,174.74 L440.80,175.04 L441.30,175.30 L441.80,175.51 L442.30,175.69 L442.80,175.85 L443.30,175.98 L443.80,176.10 L444.30,176.21 L444.80,176.30 L445.30,176.38" fill="none" stroke="#b3309a" stroke-width="1.0"/>
<path d="M417.80,172.41 L418.30,172.30 L418.80,172.16 L419.30,171.97 L419.80,171.72 L420.30,171.42 L420.80,171.10 L421.30,170.73 L421.80,170.30 L422.30,169.78 L422.80,169.14 L423.30,168.36 L423.80,167.44 L424.30,166.37 L424.80,165.24 L425.30,164.06 L425.80,162.84 L426.30,161.59 L426.80,160.32 L427.30,159.06 L427.80,157.83 L428.30,156.65 L428.80,155.55 L429.30,154.54 L429.80,153.66 L430.30,152.93 L430.80,152.37 L431.30,152.00 L431.80,151.82 L432.30,151.85 L432.80,152.13 L433.30,152.66 L433.80,153.41 L434.30,154.38 L434.80,155.53 L435.30,156.82 L435.80,158.23 L436.30,159.71 L436.80,161.23 L437.30,162.76 L437.80,164.27 L438.30,165.72 L438.80,167.11 L439.30,168.40 L439.80,169.59 L440.30,170.67 L440.80,171.64 L441.30,172.50 L441.80,173.25 L442.30,173.90 L442.80,174.45 L443.30,174.91 L443.80,175.30 L444.30,175.62 L444.80,175.88 L445.30,176.10 L445.80,176.27 L446.30,176.41 L446.30,176.75 L445.80,176.72 L445.30,176.70 L444.80,176.67 L444.30,176.64 L443.80,176.62 L443.30,176.59 L442.80,176.56 L442.30,176.53 L441.80,176.51 L441.30,176.48 L440.80,176.46 L440.30,176.43 L439.80,176.41 L439.30,176.38 L438.80,176.36 L438.30,176.34 L437.80,176.32 L437.30,176.30 L436.80,176.28 L436.30,176.27 L435.80,176.25 L435.30,176.24 L434.80,176.23 L434.30,176.22 L433.80,176.21 L433.30,176.21 L432.80,176.20 L432.30,176.20 L431.80,176.20 L431.30,176.15 L430.80,176.05 L430.30,175.90 L429.80,175.71 L429.30,175.48 L428.80,175.23 L428.30,174.96 L427.80,174.69 L427.30,174.42 L426.80,174.16 L426.30,173.93 L425.80,173.74 L425.30,173.58 L424.80,173.47 L424.30,173.41 L423.80,173.40 L423.30,173.36 L422.80,173.28 L422.30,173.17 L421.80,173.05 L421.30,172.94 L420.80,172.86 L420.30,172.81 L419.80,172.80 L419.30,172.80 L418.80,172.79 L418.30,172.78 L417.80,172.76Z" fill="#c63ea2" fill-opacity="0.72"/>
<path d="M417.80,172.41 L418.30,172.30 L418.80,172.16 L419.30,171.97 L419.80,171.72 L420.30,171.42 L420.80,171.10 L421.30,170.73 L421.80,170.30 L422.30,169.78 L422.80,169.14 L423.30,168.36 L423.80,167.44 L424.30,166.37 L424.80,165.24 L425.30,164.06 L425.80,162.84 L426.30,161.59 L426.80,160.32 L427.30,159.06 L427.80,157.83 L428.30,156.65 L428.80,155.55 L429.30,154.54 L429.80,153.66 L430.30,152.93 L430.80,152.37 L431.30,152.00 L431.80,151.82 L432.30,151.85 L432.80,152.13 L433.30,152.66 L433.80,153.41 L434.30,154.38 L434.80,155.53 L435.30,156.82 L435.80,158.23 L436.30,159.71 L436.80,161.23 L437.30,162.76 L437.80,164.27 L438.30,165.72 L438.80,167.11 L439.30,168.40 L439.80,169.59 L440.30,170.67 L440.80,171.64 L441.30,172.50 L441.80,173.25 L442.30,173.90 L442.80,174.45 L443.30,174.91 L443.80,175.30 L444.30,175.62 L444.80,175.88 L445.30,176.10 L445.80,176.27 L446.30,176.41" fill="none" stroke="#b3309a" stroke-width="1.0"/>
<path d="M445.80,176.38 L446.30,176.30 L446.80,176.19 L447.30,176.03 L447.80,175.82 L448.30,175.54 L448.80,175.18 L449.30,174.73 L449.80,174.16 L450.30,173.46 L450.80,172.60 L451.30,171.57 L451.80,170.34 L452.30,168.91 L452.80,167.26 L453.30,165.38 L453.80,163.27 L454.30,160.93 L454.80,158.37 L455.30,155.60 L455.80,152.66 L456.30,149.57 L456.80,146.37 L457.30,143.11 L457.80,139.82 L458.30,136.57 L458.80,133.41 L459.30,130.40 L459.80,127.60 L460.30,125.08 L460.80,122.88 L461.30,121.06 L461.80,119.67 L462.30,118.75 L462.80,118.33 L463.30,118.38 L463.80,118.79 L464.30,119.52 L464.80,120.57 L465.30,121.91 L465.80,123.52 L466.30,125.37 L466.80,127.43 L467.30,129.66 L467.80,132.04 L468.30,134.54 L468.80,137.11 L469.30,139.72 L469.80,142.35 L470.30,144.97 L470.80,147.56 L471.30,150.08 L471.80,152.53 L472.30,154.87 L472.80,157.11 L473.30,159.23 L473.80,161.21 L474.30,163.06 L474.80,164.77 L475.30,166.34 L475.80,167.77 L476.30,169.07 L476.80,170.23 L477.30,171.28 L477.80,172.20 L478.30,173.02 L478.80,173.74 L479.30,174.36 L479.80,174.90 L480.30,175.37 L480.80,175.77 L481.30,176.12 L481.80,176.42 L482.30,176.68 L482.80,176.91 L483.30,177.11 L483.80,177.28 L484.30,177.44 L484.80,177.57 L485.30,177.69 L485.80,177.80 L486.30,177.91 L486.80,178.00 L487.30,178.09 L487.80,178.17 L488.30,178.25 L488.80,178.32 L489.30,178.40 L489.80,178.47 L489.80,178.78 L489.30,178.75 L488.80,178.71 L488.30,178.67 L487.80,178.63 L487.30,178.59 L486.80,178.56 L486.30,178.53 L485.80,178.49 L485.30,178.46 L484.80,178.44 L484.30,178.41 L483.80,178.39 L483.30,178.37 L482.80,178.35 L482.30,178.33 L481.80,178.32 L481.30,178.31 L480.80,178.30 L480.30,178.30 L479.80,178.30 L479.30,178.30 L478.80,178.29 L478.30,178.29 L477.80,178.28 L477.30,178.26 L476.80,178.25 L476.30,178.23 L475.80,178.21 L475.30,178.19 L474.80,178.17 L474.30,178.14 L473.80,178.11 L473.30,178.08 L472.80,178.05 L472.30,178.02 L471.80,177.98 L471.30,177.95 L470.80,177.91 L470.30,177.87 L469.80,177.84 L469.30,177.80 L468.80,177.76 L468.30,177.72 L467.80,177.67 L467.30,177.63 L466.80,177.59 L466.30,177.55 L465.80,177.51 L465.30,177.47 L464.80,177.43 L464.30,177.40 L463.80,177.36 L463.30,177.32 L462.80,177.29 L462.30,177.25 L461.80,177.22 L461.30,177.19 L460.80,177.17 L460.30,177.14 L459.80,177.11 L459.30,177.09 L458.80,177.07 L458.30,177.06 L457.80,177.04 L457.30,177.03 L456.80,177.02 L456.30,177.01 L455.80,177.00 L455.30,177.00 L454.80,177.00 L454.30,177.00 L453.80,176.99 L453.30,176.99 L452.80,176.98 L452.30,176.97 L451.80,176.96 L451.30,176.95 L450.80,176.94 L450.30,176.92 L449.80,176.90 L449.30,176.88 L448.80,176.86 L448.30,176.84 L447.80,176.82 L447.30,176.80 L446.80,176.77 L446.30,176.75 L445.80,176.72Z" fill="#c63ea2" fill-opacity="0.72"/>
<path d="M445.80,176.38 L446.30,176.30 L446.80,176.19 L447.30,176.03 L447.80,175.82 L448.30,175.54 L448.80,175.18 L449.30,174.73 L449.80,174.16 L450.30,173.46 L450.80,172.60 L451.30,171.57 L451.80,170.34 L452.30,168.91 L452.80,167.26 L453.30,165.38 L453.80,163.27 L454.30,160.93 L454.80,158.37 L455.30,155.60 L455.80,152.66 L456.30,149.57 L456.80,146.37 L457.30,143.11 L457.80,139.82 L458.30,136.57 L458.80,133.41 L459.30,130.40 L459.80,127.60 L460.30,125.08 L460.80,122.88 L461.30,121.06 L461.80,119.67 L462.30,118.75 L462.80,118.33 L463.30,118.38 L463.80,118.79 L464.30,119.52 L464.80,120.57 L465.30,121.91 L465.80,123.52 L466.30,125.37 L466.80,127.43 L467.30,129.66 L467.80,132.04 L468.30,134.54 L468.80,137.11 L469.30,139.72 L469.80,142.35 L470.30,144.97 L470.80,147.56 L471.30,150.08 L471.80,152.53 L472.30,154.87 L472.80,157.11 L473.30,159.23 L473.80,161.21 L474.30,163.06 L474.80,164.77 L475.30,166.34 L475.80,167.77 L476.30,169.07 L476.80,170.23 L477.30,171.28 L477.80,172.20 L478.30,173.02 L478.80,173.74 L479.30,174.36 L479.80,174.90 L480.30,175.37 L480.80,175.77 L481.30,176.12 L481.80,176.42 L482.30,176.68 L482.80,176.91 L483.30,177.11 L483.80,177.28 L484.30,177.44 L484.80,177.57 L485.30,177.69 L485.80,177.80 L486.30,177.91 L486.80,178.00 L487.30,178.09 L487.80,178.17 L488.30,178.25 L488.80,178.32 L489.30,178.40 L489.80,178.47" fill="none" stroke="#b3309a" stroke-width="1.0"/>
<path d="M462.30,176.88 L462.80,176.81 L463.30,176.72 L463.80,176.60 L464.30,176.44 L464.80,176.25 L465.30,176.02 L465.80,175.73 L466.30,175.39 L466.80,174.98 L467.30,174.51 L467.80,173.96 L468.30,173.33 L468.80,172.61 L469.30,171.81 L469.80,170.91 L470.30,169.92 L470.80,168.85 L471.30,167.69 L471.80,166.46 L472.30,165.16 L472.80,163.80 L473.30,162.41 L473.80,160.99 L474.30,159.56 L474.80,158.16 L475.30,156.79 L475.80,155.48 L476.30,154.27 L476.80,153.16 L477.30,152.17 L477.80,151.34 L478.30,150.68 L478.80,150.19 L479.30,149.90 L479.80,149.80 L480.30,149.90 L480.80,150.20 L481.30,150.70 L481.80,151.39 L482.30,152.24 L482.80,153.25 L483.30,154.40 L483.80,155.66 L484.30,157.01 L484.80,158.43 L485.30,159.89 L485.80,161.37 L486.30,162.85 L486.80,164.31 L487.30,165.73 L487.80,167.11 L488.30,168.41 L488.80,169.64 L489.30,170.80 L489.80,171.86 L490.30,172.83 L490.80,173.72 L491.30,174.51 L491.80,175.22 L492.30,175.85 L492.80,176.40 L493.30,176.88 L493.80,177.30 L494.30,177.66 L494.80,177.96 L495.30,178.22 L495.80,178.43 L496.30,178.61 L496.80,178.76 L497.30,178.88 L497.30,179.26 L496.80,179.24 L496.30,179.22 L495.80,179.20 L495.30,179.17 L494.80,179.14 L494.30,179.11 L493.80,179.08 L493.30,179.05 L492.80,179.01 L492.30,178.98 L491.80,178.94 L491.30,178.90 L490.80,178.86 L490.30,178.82 L489.80,178.78 L489.30,178.75 L488.80,178.71 L488.30,178.67 L487.80,178.63 L487.30,178.59 L486.80,178.56 L486.30,178.53 L485.80,178.49 L485.30,178.46 L484.80,178.44 L484.30,178.41 L483.80,178.39 L483.30,178.37 L482.80,178.35 L482.30,178.33 L481.80,178.32 L481.30,178.31 L480.80,178.30 L480.30,178.30 L479.80,178.30 L479.30,178.30 L478.80,178.29 L478.30,178.29 L477.80,178.28 L477.30,178.26 L476.80,178.25 L476.30,178.23 L475.80,178.21 L475.30,178.19 L474.80,178.17 L474.30,178.14 L473.80,178.11 L473.30,178.08 L472.80,178.05 L472.30,178.02 L471.80,177.98 L471.30,177.95 L470.80,177.91 L470.30,177.87 L469.80,177.84 L469.30,177.80 L468.80,177.76 L468.30,177.72 L467.80,177.67 L467.30,177.63 L466.80,177.59 L466.30,177.55 L465.80,177.51 L465.30,177.47 L464.80,177.43 L464.30,177.40 L463.80,177.36 L463.30,177.32 L462.80,177.29 L462.30,177.25Z" fill="#c63ea2" fill-opacity="0.72"/>
<path d="M462.30,176.88 L462.80,176.81 L463.30,176.72 L463.80,176.60 L464.30,176.44 L464.80,176.25 L465.30,176.02 L465.80,175.73 L466.30,175.39 L466.80,174.98 L467.30,174.51 L467.80,173.96 L468.30,173.33 L468.80,172.61 L469.30,171.81 L469.80,170.91 L470.30,169.92 L470.80,168.85 L471.30,167.69 L471.80,166.46 L472.30,165.16 L472.80,163.80 L473.30,162.41 L473.80,160.99 L474.30,159.56 L474.80,158.16 L475.30,156.79 L475.80,155.48 L476.30,154.27 L476.80,153.16 L477.30,152.17 L477.80,151.34 L478.30,150.68 L478.80,150.19 L479.30,149.90 L479.80,149.80 L480.30,149.90 L480.80,150.20 L481.30,150.70 L481.80,151.39 L482.30,152.24 L482.80,153.25 L483.30,154.40 L483.80,155.66 L484.30,157.01 L484.80,158.43 L485.30,159.89 L485.80,161.37 L486.30,162.85 L486.80,164.31 L487.30,165.73 L487.80,167.11 L488.30,168.41 L488.80,169.64 L489.30,170.80 L489.80,171.86 L490.30,172.83 L490.80,173.72 L491.30,174.51 L491.80,175.22 L492.30,175.85 L492.80,176.40 L493.30,176.88 L493.80,177.30 L494.30,177.66 L494.80,177.96 L495.30,178.22 L495.80,178.43 L496.30,178.61 L496.80,178.76 L497.30,178.88" fill="none" stroke="#b3309a" stroke-width="1.0"/>
<path d="M483.80,178.08 L484.30,178.02 L484.80,177.95 L485.30,177.86 L485.80,177.75 L486.30,177.61 L486.80,177.45 L487.30,177.26 L487.80,177.03 L488.30,176.77 L488.80,176.46 L489.30,176.12 L489.80,175.73 L490.30,175.31 L490.80,174.84 L491.30,174.33 L491.80,173.79 L492.30,173.22 L492.80,172.62 L493.30,172.01 L493.80,171.39 L494.30,170.76 L494.80,170.16 L495.30,169.57 L495.80,169.01 L496.30,168.50 L496.80,168.05 L497.30,167.66 L497.80,167.34 L498.30,167.11 L498.80,166.96 L499.30,166.90 L499.80,166.92 L500.30,167.00 L500.80,167.14 L501.30,167.34 L501.80,167.59 L502.30,167.90 L502.80,168.26 L503.30,168.67 L503.80,169.11 L504.30,169.59 L504.80,170.10 L505.30,170.63 L505.80,171.18 L506.30,171.74 L506.80,172.30 L507.30,172.87 L507.80,173.43 L508.30,173.98 L508.80,174.52 L509.30,175.04 L509.80,175.54 L510.30,176.01 L510.80,176.47 L511.30,176.90 L511.80,177.30 L512.30,177.67 L512.80,178.01 L513.30,178.33 L513.80,178.62 L514.30,178.88 L514.80,179.12 L515.30,179.33 L515.80,179.53 L516.30,179.69 L516.80,179.84 L517.30,179.97 L517.80,180.08 L518.30,180.17 L518.80,180.25 L518.80,180.59 L518.30,180.58 L517.80,180.56 L517.30,180.54 L516.80,180.52 L516.30,180.49 L515.80,180.46 L515.30,180.43 L514.80,180.39 L514.30,180.36 L513.80,180.32 L513.30,180.27 L512.80,180.23 L512.30,180.18 L511.80,180.13 L511.30,180.08 L510.80,180.03 L510.30,179.98 L509.80,179.93 L509.30,179.88 L508.80,179.83 L508.30,179.78 L507.80,179.73 L507.30,179.68 L506.80,179.64 L506.30,179.59 L505.80,179.55 L505.30,179.51 L504.80,179.48 L504.30,179.44 L503.80,179.41 L503.30,179.39 L502.80,179.36 L502.30,179.34 L501.80,179.33 L501.30,179.31 L500.80,179.31 L500.30,179.30 L499.80,179.30 L499.30,179.30 L498.80,179.29 L498.30,179.28 L497.80,179.27 L497.30,179.26 L496.80,179.24 L496.30,179.22 L495.80,179.20 L495.30,179.17 L494.80,179.14 L494.30,179.11 L493.80,179.08 L493.30,179.05 L492.80,179.01 L492.30,178.98 L491.80,178.94 L491.30,178.90 L490.80,178.86 L490.30,178.82 L489.80,178.78 L489.30,178.75 L488.80,178.71 L488.30,178.67 L487.80,178.63 L487.30,178.59 L486.80,178.56 L486.30,178.53 L485.80,178.49 L485.30,178.46 L484.80,178.44 L484.30,178.41 L483.80,178.39Z" fill="#cdcdcd" fill-opacity="1.0"/>
<path d="M483.80,178.08 L484.30,178.02 L484.80,177.95 L485.30,177.86 L485.80,177.75 L486.30,177.61 L486.80,177.45 L487.30,177.26 L487.80,177.03 L488.30,176.77 L488.80,176.46 L489.30,176.12 L489.80,175.73 L490.30,175.31 L490.80,174.84 L491.30,174.33 L491.80,173.79 L492.30,173.22 L492.80,172.62 L493.30,172.01 L493.80,171.39 L494.30,170.76 L494.80,170.16 L495.30,169.57 L495.80,169.01 L496.30,168.50 L496.80,168.05 L497.30,167.66 L497.80,167.34 L498.30,167.11 L498.80,166.96 L499.30,166.90 L499.80,166.92 L500.30,167.00 L500.80,167.14 L501.30,167.34 L501.80,167.59 L502.30,167.90 L502.80,168.26 L503.30,168.67 L503.80,169.11 L504.30,169.59 L504.80,170.10 L505.30,170.63 L505.80,171.18 L506.30,171.74 L506.80,172.30 L507.30,172.87 L507.80,173.43 L508.30,173.98 L508.80,174.52 L509.30,175.04 L509.80,175.54 L510.30,176.01 L510.80,176.47 L511.30,176.90 L511.80,177.30 L512.30,177.67 L512.80,178.01 L513.30,178.33 L513.80,178.62 L514.30,178.88 L514.80,179.12 L515.30,179.33 L515.80,179.53 L516.30,179.69 L516.80,179.84 L517.30,179.97 L517.80,180.08 L518.30,180.17 L518.80,180.25" fill="none" stroke="#555555" stroke-width="1.0"/>
<circle cx="395.35" cy="150.30" r="0.95" fill="#c8c8c8" stroke="#9a9a9a" stroke-width="0.4"/>
<circle cx="402.06" cy="152.08" r="0.95" fill="#c8c8c8" stroke="#9a9a9a" stroke-width="0.4"/>
<circle cx="407.06" cy="148.46" r="0.95" fill="#c8c8c8" stroke="#9a9a9a" stroke-width="0.4"/>
<circle cx="410.38" cy="143.23" r="0.95" fill="#c8c8c8" stroke="#9a9a9a" stroke-width="0.4"/>
<circle cx="412.18" cy="138.10" r="0.95" fill="#c8c8c8" stroke="#9a9a9a" stroke-width="0.4"/>
<circle cx="414.09" cy="88.68" r="0.95" fill="#c8c8c8" stroke="#9a9a9a" stroke-width="0.4"/>
<circle cx="414.47" cy="83.22" r="0.95" fill="#c8c8c8" stroke="#9a9a9a" stroke-width="0.4"/>
<circle cx="414.89" cy="77.74" r="0.95" fill="#c8c8c8" stroke="#9a9a9a" stroke-width="0.4"/>
<circle cx="415.36" cy="72.26" r="0.95" fill="#c8c8c8" stroke="#9a9a9a" stroke-width="0.4"/>
<circle cx="415.82" cy="66.79" r="0.95" fill="#c8c8c8" stroke="#9a9a9a" stroke-width="0.4"/>
<circle cx="416.44" cy="61.27" r="0.95" fill="#c8c8c8" stroke="#9a9a9a" stroke-width="0.4"/>
<circle cx="429.31" cy="122.15" r="0.95" fill="#c8c8c8" stroke="#9a9a9a" stroke-width="0.4"/>
<circle cx="429.73" cy="127.61" r="0.95" fill="#c8c8c8" stroke="#9a9a9a" stroke-width="0.4"/>
<circle cx="430.24" cy="133.01" r="0.95" fill="#c8c8c8" stroke="#9a9a9a" stroke-width="0.4"/>
<circle cx="430.74" cy="138.41" r="0.95" fill="#c8c8c8" stroke="#9a9a9a" stroke-width="0.4"/>
<circle cx="431.73" cy="144.02" r="0.95" fill="#c8c8c8" stroke="#9a9a9a" stroke-width="0.4"/>
<circle cx="432.89" cy="149.32" r="0.95" fill="#c8c8c8" stroke="#9a9a9a" stroke-width="0.4"/>
<circle cx="434.72" cy="154.80" r="0.95" fill="#c8c8c8" stroke="#9a9a9a" stroke-width="0.4"/>
<circle cx="436.63" cy="159.94" r="0.95" fill="#c8c8c8" stroke="#9a9a9a" stroke-width="0.4"/>
<circle cx="439.10" cy="164.92" r="0.95" fill="#c8c8c8" stroke="#9a9a9a" stroke-width="0.4"/>
<circle cx="443.91" cy="169.11" r="0.95" fill="#c8c8c8" stroke="#9a9a9a" stroke-width="0.4"/>
<circle cx="471.73" cy="135.11" r="0.95" fill="#c8c8c8" stroke="#9a9a9a" stroke-width="0.4"/>
<circle cx="472.95" cy="140.16" r="0.95" fill="#c8c8c8" stroke="#9a9a9a" stroke-width="0.4"/>
<circle cx="474.46" cy="143.25" r="0.95" fill="#c8c8c8" stroke="#9a9a9a" stroke-width="0.4"/>
<circle cx="478.61" cy="145.80" r="0.95" fill="#c8c8c8" stroke="#9a9a9a" stroke-width="0.4"/>
<circle cx="483.40" cy="149.57" r="0.95" fill="#c8c8c8" stroke="#9a9a9a" stroke-width="0.4"/>
<circle cx="487.59" cy="160.34" r="0.95" fill="#c8c8c8" stroke="#9a9a9a" stroke-width="0.4"/>
<circle cx="491.56" cy="164.20" r="0.95" fill="#c8c8c8" stroke="#9a9a9a" stroke-width="0.4"/>
<circle cx="496.62" cy="167.18" r="0.95" fill="#c8c8c8" stroke="#9a9a9a" stroke-width="0.4"/>
<path d="M313.80,169.40 C315.50,169.30 320.58,168.97 324.00,168.80 C327.42,168.63 330.80,168.70 334.30,168.40 C337.80,168.10 341.43,167.58 345.00,167.00 C348.57,166.42 353.03,165.47 355.70,164.90 C358.37,164.33 359.40,164.42 361.00,163.60 C362.60,162.78 364.03,162.27 365.30,160.00 C366.57,157.73 367.55,153.83 368.60,150.00 C369.65,146.17 370.58,141.83 371.60,137.00 C372.62,132.17 373.77,125.50 374.70,121.00 C375.63,116.50 376.25,113.58 377.20,110.00 C378.15,106.42 379.47,101.60 380.40,99.50 C381.33,97.40 382.00,97.40 382.80,97.40 C383.60,97.40 384.45,97.40 385.20,99.50 C385.95,101.60 386.65,106.42 387.30,110.00 C387.95,113.58 388.33,116.50 389.10,121.00 C389.87,125.50 391.05,132.75 391.90,137.00 C392.75,141.25 392.97,144.22 394.20,146.50 C395.43,148.78 397.77,150.23 399.30,150.70 C400.83,151.17 402.02,150.33 403.40,149.30 C404.78,148.27 406.33,146.92 407.60,144.50 C408.87,142.08 410.08,138.25 411.00,134.80 C411.92,131.35 412.45,129.60 413.10,123.80 C413.75,118.00 414.37,107.30 414.90,100.00 C415.43,92.70 415.85,85.87 416.30,80.00 C416.75,74.13 417.10,69.55 417.60,64.80 C418.10,60.05 418.70,55.05 419.30,51.50 C419.90,47.95 420.57,45.25 421.20,43.50 C421.83,41.75 422.47,40.92 423.10,41.00 C423.73,41.08 424.42,41.83 425.00,44.00 C425.58,46.17 426.18,50.53 426.60,54.00 C427.02,57.47 427.13,60.47 427.50,64.80 C427.87,69.13 428.42,75.05 428.80,80.00 C429.18,84.95 429.47,89.50 429.80,94.50 C430.13,99.50 430.47,104.92 430.80,110.00 C431.13,115.08 431.40,120.00 431.80,125.00 C432.20,130.00 432.60,135.83 433.20,140.00 C433.80,144.17 434.42,146.67 435.40,150.00 C436.38,153.33 438.00,157.42 439.10,160.00 C440.20,162.58 440.88,164.25 442.00,165.50 C443.12,166.75 444.63,167.58 445.80,167.50 C446.97,167.42 448.05,166.42 449.00,165.00 C449.95,163.58 450.78,161.00 451.50,159.00 C452.22,157.00 452.72,155.00 453.30,153.00 C453.88,151.00 454.42,149.08 455.00,147.00 C455.58,144.92 456.22,143.25 456.80,140.50 C457.38,137.75 457.97,133.58 458.50,130.50 C459.03,127.42 459.50,124.25 460.00,122.00 C460.50,119.75 460.93,118.20 461.50,117.00 C462.07,115.80 462.65,114.55 463.40,114.80 C464.15,115.05 465.23,116.47 466.00,118.50 C466.77,120.53 467.40,123.92 468.00,127.00 C468.60,130.08 469.02,134.17 469.60,137.00 C470.18,139.83 470.68,142.45 471.50,144.00 C472.32,145.55 473.42,145.60 474.50,146.30 C475.58,147.00 476.92,147.50 478.00,148.20 C479.08,148.90 479.67,149.20 481.00,150.50 C482.33,151.80 484.23,154.08 486.00,156.00 C487.77,157.92 489.98,160.50 491.60,162.00 C493.22,163.50 494.38,164.30 495.70,165.00 C497.02,165.70 498.45,165.83 499.50,166.20 C500.55,166.57 501.02,166.47 502.00,167.20 C502.98,167.93 503.92,168.88 505.40,170.60 C506.88,172.32 509.07,175.67 510.90,177.50 C512.73,179.33 514.33,180.58 516.40,181.60 C518.47,182.62 520.53,183.15 523.30,183.60 C526.07,184.05 529.72,184.27 533.00,184.30 C536.28,184.33 541.33,183.88 543.00,183.80" fill="none" stroke="#15a07e" stroke-width="1.6"/>
</g>
<line x1="363.40" y1="48.40" x2="425.30" y2="118.30" stroke="#000" stroke-width="1.5"/>
<path d="M418.74,115.85 L425.30,118.30 L423.66,111.49" fill="none" stroke="#000" stroke-width="1.5" stroke-linejoin="miter"/>
<line x1="363.40" y1="48.40" x2="464.00" y2="139.10" stroke="#000" stroke-width="1.5"/>
<path d="M457.21,137.40 L464.00,139.10 L461.61,132.52" fill="none" stroke="#000" stroke-width="1.5" stroke-linejoin="miter"/>
<line x1="517.50" y1="97.50" x2="435.30" y2="171.60" stroke="#000" stroke-width="1.5"/>
<path d="M437.69,165.02 L435.30,171.60 L442.09,169.90" fill="none" stroke="#000" stroke-width="1.5" stroke-linejoin="miter"/>
<line x1="517.50" y1="97.50" x2="481.90" y2="172.60" stroke="#000" stroke-width="1.5"/>
<path d="M481.58,165.61 L481.90,172.60 L487.52,168.42" fill="none" stroke="#000" stroke-width="1.5" stroke-linejoin="miter"/>
<rect x="313.30" y="10.60" width="230.20" height="185.40" fill="none" stroke="#000" stroke-width="1.5"/>
<line x1="328.30" y1="196.00" x2="328.30" y2="192.00" stroke="#000" stroke-width="1.3"/>
<text x="328.30" y="206.80" font-size="9.60" font-weight="bold" fill="#000" stroke="#000" stroke-width="0.20" text-anchor="middle" font-family="'Liberation Sans', sans-serif" textLength="15.35" lengthAdjust="spacingAndGlyphs">240</text>
<line x1="359.80" y1="196.00" x2="359.80" y2="194.00" stroke="#000" stroke-width="1.3"/>
<line x1="391.30" y1="196.00" x2="391.30" y2="192.00" stroke="#000" stroke-width="1.3"/>
<text x="391.30" y="206.80" font-size="9.60" font-weight="bold" fill="#000" stroke="#000" stroke-width="0.20" text-anchor="middle" font-family="'Liberation Sans', sans-serif" textLength="15.35" lengthAdjust="spacingAndGlyphs">235</text>
<line x1="422.80" y1="196.00" x2="422.80" y2="194.00" stroke="#000" stroke-width="1.3"/>
<line x1="454.30" y1="196.00" x2="454.30" y2="192.00" stroke="#000" stroke-width="1.3"/>
<text x="454.30" y="206.80" font-size="9.60" font-weight="bold" fill="#000" stroke="#000" stroke-width="0.20" text-anchor="middle" font-family="'Liberation Sans', sans-serif" textLength="15.35" lengthAdjust="spacingAndGlyphs">230</text>
<line x1="485.80" y1="196.00" x2="485.80" y2="194.00" stroke="#000" stroke-width="1.3"/>
<line x1="517.30" y1="196.00" x2="517.30" y2="192.00" stroke="#000" stroke-width="1.3"/>
<text x="517.30" y="206.80" font-size="9.60" font-weight="bold" fill="#000" stroke="#000" stroke-width="0.20" text-anchor="middle" font-family="'Liberation Sans', sans-serif" textLength="15.35" lengthAdjust="spacingAndGlyphs">225</text>
<text x="428.70" y="225.80" font-size="12.00" font-weight="bold" fill="#000" text-anchor="middle" font-family="'Liberation Sans', sans-serif" textLength="122.3" lengthAdjust="spacingAndGlyphs">Bingding energy (eV)</text>
<text transform="translate(297.5,97.5) rotate(-90)" x="0" y="0" font-size="12" font-weight="bold" text-anchor="middle" font-family="'Liberation Sans', sans-serif" textLength="113" lengthAdjust="spacingAndGlyphs">Intensity (arb.units)</text>
<text x="282.60" y="25.70" font-size="20.80" font-weight="normal" fill="#000" text-anchor="start" font-family="'Liberation Serif', serif" >(b)</text>
<rect x="372.60" y="82.30" width="17.40" height="12.80" fill="#fff" stroke="#8a8a8a" stroke-width="0.9"/>
<text x="374.00" y="90.80" font-size="6.60" font-weight="normal" fill="#2a2a2a" stroke="#2a2a2a" stroke-width="0.15" text-anchor="start" font-family="'Liberation Sans', sans-serif" textLength="13.33" lengthAdjust="spacingAndGlyphs">MoO</text>
<text x="387.60" y="92.90" font-size="4.00" font-weight="normal" fill="#333" text-anchor="start" font-family="'Liberation Sans', sans-serif" >x</text>
<rect x="410.20" y="23.30" width="25.40" height="13.50" fill="#fff" stroke="#8a8a8a" stroke-width="0.9"/>
<text x="411.70" y="32.00" font-size="6.50" font-weight="normal" fill="#2a2a2a" stroke="#2a2a2a" stroke-width="0.15" text-anchor="start" font-family="'Liberation Sans', sans-serif" textLength="17.23" lengthAdjust="spacingAndGlyphs">Mo 3d</text>
<text x="429.40" y="34.90" font-size="3.60" font-weight="normal" fill="#333" text-anchor="start" font-family="'Liberation Sans', sans-serif" >3/2</text>
<rect x="451.00" y="97.20" width="25.10" height="14.00" fill="#fff" stroke="#8a8a8a" stroke-width="0.9"/>
<text x="452.60" y="106.10" font-size="6.50" font-weight="normal" fill="#2a2a2a" stroke="#2a2a2a" stroke-width="0.15" text-anchor="start" font-family="'Liberation Sans', sans-serif" textLength="17.23" lengthAdjust="spacingAndGlyphs">Mo 3d</text>
<text x="470.10" y="108.90" font-size="3.60" font-weight="normal" fill="#333" text-anchor="start" font-family="'Liberation Sans', sans-serif" >5/2</text>
<rect x="495.70" y="151.00" width="14.90" height="12.00" fill="#fff" stroke="#8a8a8a" stroke-width="0.9"/>
<text x="497.40" y="160.20" font-size="6.40" font-weight="normal" fill="#2a2a2a" stroke="#2a2a2a" stroke-width="0.15" text-anchor="start" font-family="'Liberation Sans', sans-serif" textLength="11.21" lengthAdjust="spacingAndGlyphs">S 2s</text>
<text x="339.20" y="41.80" font-size="9.79" font-weight="normal" fill="#23599a" stroke="#23599a" stroke-width="0.25" text-anchor="start" font-family="'Liberation Sans', sans-serif" textLength="40.67" lengthAdjust="spacingAndGlyphs">2H phase</text>
<text x="501.00" y="92.00" font-size="9.68" font-weight="normal" fill="#17a07c" stroke="#17a07c" stroke-width="0.25" text-anchor="start" font-family="'Liberation Sans', sans-serif" textLength="39.02" lengthAdjust="spacingAndGlyphs">1T phase</text>
<text x="472.50" y="31.40" font-size="9.68" font-weight="normal" fill="#c0379f" stroke="#c0379f" stroke-width="0.22" text-anchor="start" font-family="'Liberation Sans', sans-serif" textLength="54.99" lengthAdjust="spacingAndGlyphs">1T@2H-MoS</text>
<text x="527.30" y="34.60" font-size="7.00" font-weight="normal" fill="#c0379f" text-anchor="start" font-family="'Liberation Sans', sans-serif" >2</text>
<g clip-path="url(#clipC)">
<path d="M182.60,320.58 L183.48,319.62 L184.39,319.32 L185.17,322.36 L185.79,318.37 L186.76,323.24 L187.40,322.78 L188.28,323.36 L189.26,323.51 L190.03,320.88 L191.05,322.99 L191.70,320.91 L192.53,316.89 L193.25,316.93 L194.09,318.05 L194.85,316.27 L195.91,310.84 L196.54,306.28 L197.41,305.33 L198.40,303.44 L199.16,301.54 L200.29,313.11 L201.28,316.77 L202.03,317.34 L202.68,322.42 L203.64,325.74 L204.53,325.59 L205.22,324.83 L205.93,327.65 L207.10,328.00 L207.77,331.77 L208.79,333.01 L209.56,332.98 L210.30,333.16 L211.07,329.97 L211.83,333.54 L212.65,333.58 L213.79,331.47 L214.74,335.06 L215.88,333.41 L216.87,335.39 L218.06,338.15 L219.20,337.12 L220.35,340.38 L221.48,341.24 L222.42,340.77 L223.39,344.01 L224.51,342.45 L225.46,344.06 L226.51,346.88 L227.25,346.02 L228.40,348.74 L229.41,350.64 L230.41,349.91 L231.40,351.78 L232.55,348.00 L233.34,351.78 L234.45,348.45 L235.15,349.30 L236.00,348.11 L237.11,344.25 L237.72,345.70 L238.67,346.78 L239.35,346.97 L240.09,346.69 L240.96,344.42 L242.13,342.26 L242.84,343.87 L243.55,342.80 L244.46,339.84 L245.54,337.01 L246.57,338.67 L247.72,336.93 L248.79,330.97 L249.52,331.25 L250.55,331.72 L251.73,327.15 L252.88,322.64 L253.74,323.87 L254.36,321.69 L255.06,321.93 L255.75,321.23 L256.77,317.39 L257.42,319.71 L258.46,318.22 L259.39,319.24 L260.53,319.91 L261.45,318.23 L262.35,318.79 L263.26,318.82 L264.15,317.13 L265.00,314.36 L265.89,319.13 L267.03,316.23 L268.00,313.22 L268.61,316.42 L269.40,314.61 L270.44,314.26 L271.16,312.65 L272.01,314.42 L272.99,319.44 L273.95,312.03 L275.04,302.27 L276.19,296.30 L276.88,292.42 L277.53,290.07 L278.21,293.36 L278.93,296.65 L279.60,300.34 L280.61,305.87 L281.23,308.56 L281.92,313.22 L283.11,313.40 L284.29,320.39 L285.17,323.24 L285.77,323.36 L286.65,324.93 L287.35,328.58 L288.43,328.97 L289.27,331.65 L290.35,333.96 L291.42,331.97 L292.55,333.11 L293.39,332.21 L294.27,334.41 L295.25,333.68 L296.05,331.27 L296.88,327.26 L297.94,325.38 L298.98,326.73 L299.70,324.62 L300.84,321.63 L301.78,315.64 L302.43,315.87 L303.59,317.47 L304.48,318.29 L305.34,319.77 L306.11,320.76 L307.14,324.72 L307.76,326.72 L308.90,327.68 L310.07,331.49 L310.96,329.07 L312.12,333.57 L313.21,335.30 L314.08,337.75 L314.76,337.77 L315.51,338.51 L316.43,336.31 L317.18,341.67 L318.15,341.61 L319.09,341.29 L319.80,343.19 L320.93,343.72 L321.79,343.67 L322.43,346.15 L323.41,346.21 L324.21,344.82 L324.89,346.03 L325.61,348.91 L326.44,347.83 L327.36,348.37 L328.19,351.08 L328.84,351.47 L329.61,350.24 L330.61,354.76 L331.63,355.03 L332.66,356.00 L333.61,353.33 L334.47,353.64 L335.31,352.94 L336.13,357.59 L336.96,359.58 L337.88,356.69 L338.94,356.64 L339.85,360.85 L340.84,359.00 L341.91,362.54 L343.05,362.01 L344.10,360.78 L345.16,362.34 L345.96,359.77 L346.88,363.01 L347.73,363.04 L348.81,364.41 L349.80,367.29 L350.65,368.25 L351.84,368.29 L352.70,368.81 L353.48,370.71 L354.19,370.87 L355.34,370.85 L356.07,371.55 L356.80,371.19 L357.86,372.32 L358.74,372.87 L359.55,371.46 L360.28,373.44 L361.11,371.81 L362.31,371.16 L363.19,373.95 L364.15,374.15 L364.91,371.65 L366.11,374.48 L367.17,376.27 L368.26,376.48 L368.92,376.23 L369.87,373.98 L370.72,373.40 L371.45,374.76 L372.55,375.22 L373.33,375.23 L374.34,376.73 L375.52,373.58 L376.35,375.50 L377.22,377.84 L377.95,375.40 L378.87,375.56 L379.87,373.49 L380.67,367.25 L381.47,364.07 L382.12,362.50 L382.97,358.49 L383.70,363.67 L384.34,361.87 L385.33,365.90 L386.13,369.22 L387.15,367.30 L388.12,372.48 L389.11,373.38 L390.18,370.56 L391.24,370.93 L392.14,376.18 L393.05,373.50 L394.22,374.81 L394.96,376.08 L396.12,377.55 L397.31,379.57 L398.24,379.66 L399.44,377.66 L400.53,381.20 L401.48,379.41 L402.12,383.49 L403.29,381.73 L404.33,383.69 L404.94,383.25 L405.77,382.92 L406.53,383.37 L407.15,383.50 L408.11,384.29 L409.12,382.57 L410.32,381.99 L411.18,384.10 L411.18,391.81 L410.32,391.07 L409.12,390.23 L408.11,388.51 L407.15,388.17 L406.53,387.81 L405.77,387.05 L404.94,386.95 L404.33,388.39 L403.29,386.61 L402.12,386.30 L401.48,385.28 L400.53,387.82 L399.44,384.81 L398.24,383.89 L397.31,386.02 L396.12,381.59 L394.96,382.23 L394.22,379.29 L393.05,381.50 L392.14,381.13 L391.24,378.53 L390.18,377.83 L389.11,376.65 L388.12,375.58 L387.15,377.15 L386.13,372.58 L385.33,374.15 L384.34,369.11 L383.70,366.50 L382.97,365.76 L382.12,369.31 L381.47,369.82 L380.67,375.32 L379.87,376.55 L378.87,379.00 L377.95,379.99 L377.22,385.05 L376.35,380.56 L375.52,381.14 L374.34,380.05 L373.33,380.99 L372.55,378.63 L371.45,379.78 L370.72,379.93 L369.87,380.30 L368.92,380.71 L368.26,379.46 L367.17,381.95 L366.11,378.59 L364.91,378.81 L364.15,377.00 L363.19,379.96 L362.31,375.88 L361.11,376.71 L360.28,380.23 L359.55,379.55 L358.74,379.35 L357.86,376.60 L356.80,374.28 L356.07,376.66 L355.34,373.59 L354.19,374.41 L353.48,375.22 L352.70,376.12 L351.84,371.61 L350.65,371.71 L349.80,373.26 L348.81,373.74 L347.73,370.65 L346.88,370.10 L345.96,368.67 L345.16,368.69 L344.10,365.47 L343.05,366.42 L341.91,365.28 L340.84,364.56 L339.85,366.08 L338.94,363.11 L337.88,363.79 L336.96,363.71 L336.13,361.29 L335.31,363.21 L334.47,359.52 L333.61,363.86 L332.66,359.25 L331.63,358.08 L330.61,357.82 L329.61,355.58 L328.84,356.41 L328.19,357.24 L327.36,357.33 L326.44,356.83 L325.61,352.54 L324.89,353.24 L324.21,353.04 L323.41,350.35 L322.43,350.82 L321.79,348.03 L320.93,346.43 L319.80,350.50 L319.09,347.12 L318.15,345.06 L317.18,347.99 L316.43,347.72 L315.51,343.29 L314.76,343.13 L314.08,340.59 L313.21,339.55 L312.12,339.39 L310.96,336.31 L310.07,337.91 L308.90,332.81 L307.76,331.97 L307.14,327.73 L306.11,326.56 L305.34,325.07 L304.48,322.55 L303.59,321.13 L302.43,322.56 L301.78,324.60 L300.84,326.60 L299.70,327.88 L298.98,330.28 L297.94,332.48 L296.88,336.29 L296.05,337.15 L295.25,340.63 L294.27,337.58 L293.39,337.18 L292.55,340.45 L291.42,338.23 L290.35,340.64 L289.27,336.86 L288.43,337.11 L287.35,332.33 L286.65,330.62 L285.77,331.33 L285.17,327.73 L284.29,326.48 L283.11,320.02 L281.92,316.18 L281.23,313.57 L280.61,308.71 L279.60,306.57 L278.93,305.08 L278.21,298.69 L277.53,296.53 L276.88,297.60 L276.19,303.74 L275.04,309.01 L273.95,318.19 L272.99,324.99 L272.01,318.33 L271.16,317.23 L270.44,318.06 L269.40,319.39 L268.61,319.42 L268.00,319.85 L267.03,320.20 L265.89,322.62 L265.00,325.09 L264.15,321.89 L263.26,324.96 L262.35,323.02 L261.45,322.41 L260.53,325.98 L259.39,322.85 L258.46,323.74 L257.42,323.70 L256.77,325.12 L255.75,327.26 L255.06,327.76 L254.36,327.29 L253.74,330.38 L252.88,329.06 L251.73,333.77 L250.55,338.22 L249.52,339.15 L248.79,338.57 L247.72,341.50 L246.57,342.23 L245.54,343.44 L244.46,346.60 L243.55,346.21 L242.84,347.45 L242.13,347.10 L240.96,350.60 L240.09,349.46 L239.35,350.49 L238.67,352.57 L237.72,351.81 L237.11,352.17 L236.00,353.43 L235.15,353.07 L234.45,357.43 L233.34,355.52 L232.55,354.74 L231.40,355.33 L230.41,356.95 L229.41,353.57 L228.40,351.67 L227.25,351.80 L226.51,351.09 L225.46,350.64 L224.51,348.01 L223.39,348.44 L222.42,345.66 L221.48,347.35 L220.35,345.55 L219.20,344.29 L218.06,342.08 L216.87,341.32 L215.88,342.44 L214.74,337.83 L213.79,340.40 L212.65,337.68 L211.83,337.03 L211.07,336.62 L210.30,340.38 L209.56,338.01 L208.79,338.95 L207.77,338.71 L207.10,335.70 L205.93,336.74 L205.22,334.21 L204.53,333.01 L203.64,329.77 L202.68,326.54 L202.03,323.05 L201.28,323.99 L200.29,316.55 L199.16,311.39 L198.40,306.86 L197.41,310.46 L196.54,311.87 L195.91,313.79 L194.85,319.40 L194.09,322.43 L193.25,324.24 L192.53,326.97 L191.70,326.78 L191.05,326.23 L190.03,332.72 L189.26,329.07 L188.28,329.97 L187.40,325.80 L186.76,326.02 L185.79,329.74 L185.17,327.98 L184.39,326.44 L183.48,324.78 L182.60,325.36Z" fill="#b5259b" stroke="#b5259b" stroke-width="0.5" stroke-linejoin="round"/>
<path d="M216.40,338.00 L217.00,327.50 L217.60,338.00" fill="none" stroke="#b5299a" stroke-width="1.1"/>
<path d="M258.90,320.42 L259.50,313.50 L260.10,320.42" fill="none" stroke="#b5299a" stroke-width="1.1"/>
<path d="M269.60,316.20 L270.30,282.80 L271.00,316.20" fill="none" stroke="#b5299a" stroke-width="1.1"/>
<path d="M326.60,352.08 L327.20,334.50 L327.80,352.08" fill="none" stroke="#b5299a" stroke-width="1.1"/>
<path d="M335.60,359.70 L336.20,351.00 L336.80,359.70" fill="none" stroke="#b5299a" stroke-width="1.1"/>
<path d="M344.40,364.87 L345.00,359.00 L345.60,364.87" fill="none" stroke="#b5299a" stroke-width="1.1"/>
<path d="M372.60,377.60 L373.20,372.50 L373.80,377.60" fill="none" stroke="#b5299a" stroke-width="1.1"/>
<line x1="200.30" y1="430.40" x2="200.30" y2="383.50" stroke="#1f4f91" stroke-width="1.25"/>
<line x1="201.70" y1="430.40" x2="201.70" y2="383.50" stroke="#17a07c" stroke-width="1.25"/>
<line x1="261.60" y1="430.40" x2="261.60" y2="420.00" stroke="#1f4f91" stroke-width="1.25"/>
<line x1="276.70" y1="430.40" x2="276.70" y2="418.00" stroke="#1f4f91" stroke-width="1.25"/>
<line x1="278.00" y1="430.40" x2="278.00" y2="400.70" stroke="#17a07c" stroke-width="1.25"/>
<line x1="280.50" y1="430.40" x2="280.50" y2="416.20" stroke="#1f4f91" stroke-width="1.25"/>
<line x1="281.60" y1="430.40" x2="281.60" y2="408.30" stroke="#17a07c" stroke-width="1.25"/>
<line x1="290.00" y1="430.40" x2="290.00" y2="417.00" stroke="#1f4f91" stroke-width="1.25"/>
<line x1="305.50" y1="430.40" x2="305.50" y2="399.10" stroke="#1f4f91" stroke-width="1.25"/>
<line x1="308.70" y1="430.40" x2="308.70" y2="386.60" stroke="#17a07c" stroke-width="1.25"/>
<line x1="325.00" y1="430.40" x2="325.00" y2="416.40" stroke="#1f4f91" stroke-width="1.25"/>
<line x1="348.40" y1="430.40" x2="348.40" y2="417.50" stroke="#1f4f91" stroke-width="1.25"/>
<line x1="351.70" y1="430.40" x2="351.70" y2="416.40" stroke="#17a07c" stroke-width="1.25"/>
<line x1="374.40" y1="430.40" x2="374.40" y2="420.20" stroke="#1f4f91" stroke-width="1.25"/>
<line x1="384.00" y1="430.40" x2="384.00" y2="420.20" stroke="#1f4f91" stroke-width="1.25"/>
<line x1="391.50" y1="430.40" x2="391.50" y2="418.90" stroke="#17a07c" stroke-width="1.25"/>
<line x1="403.00" y1="430.40" x2="403.00" y2="420.20" stroke="#1f4f91" stroke-width="1.25"/>
</g>
<rect x="182.30" y="245.60" width="229.50" height="184.80" fill="none" stroke="#000" stroke-width="1.5"/>
<line x1="182.30" y1="430.40" x2="182.30" y2="426.40" stroke="#000" stroke-width="1.3"/>
<text x="182.30" y="441.80" font-size="9.60" font-weight="bold" fill="#000" stroke="#000" stroke-width="0.20" text-anchor="middle" font-family="'Liberation Sans', sans-serif" textLength="10.23" lengthAdjust="spacingAndGlyphs">10</text>
<line x1="203.17" y1="430.40" x2="203.17" y2="428.40" stroke="#000" stroke-width="1.3"/>
<line x1="224.03" y1="430.40" x2="224.03" y2="426.40" stroke="#000" stroke-width="1.3"/>
<text x="224.03" y="441.80" font-size="9.60" font-weight="bold" fill="#000" stroke="#000" stroke-width="0.20" text-anchor="middle" font-family="'Liberation Sans', sans-serif" textLength="10.23" lengthAdjust="spacingAndGlyphs">20</text>
<line x1="244.90" y1="430.40" x2="244.90" y2="428.40" stroke="#000" stroke-width="1.3"/>
<line x1="265.76" y1="430.40" x2="265.76" y2="426.40" stroke="#000" stroke-width="1.3"/>
<text x="265.76" y="441.80" font-size="9.60" font-weight="bold" fill="#000" stroke="#000" stroke-width="0.20" text-anchor="middle" font-family="'Liberation Sans', sans-serif" textLength="10.23" lengthAdjust="spacingAndGlyphs">30</text>
<line x1="286.62" y1="430.40" x2="286.62" y2="428.40" stroke="#000" stroke-width="1.3"/>
<line x1="307.49" y1="430.40" x2="307.49" y2="426.40" stroke="#000" stroke-width="1.3"/>
<text x="307.49" y="441.80" font-size="9.60" font-weight="bold" fill="#000" stroke="#000" stroke-width="0.20" text-anchor="middle" font-family="'Liberation Sans', sans-serif" textLength="10.23" lengthAdjust="spacingAndGlyphs">40</text>
<line x1="328.36" y1="430.40" x2="328.36" y2="428.40" stroke="#000" stroke-width="1.3"/>
<line x1="349.22" y1="430.40" x2="349.22" y2="426.40" stroke="#000" stroke-width="1.3"/>
<text x="349.22" y="441.80" font-size="9.60" font-weight="bold" fill="#000" stroke="#000" stroke-width="0.20" text-anchor="middle" font-family="'Liberation Sans', sans-serif" textLength="10.23" lengthAdjust="spacingAndGlyphs">50</text>
<line x1="370.09" y1="430.40" x2="370.09" y2="428.40" stroke="#000" stroke-width="1.3"/>
<line x1="390.95" y1="430.40" x2="390.95" y2="426.40" stroke="#000" stroke-width="1.3"/>
<text x="390.95" y="441.80" font-size="9.60" font-weight="bold" fill="#000" stroke="#000" stroke-width="0.20" text-anchor="middle" font-family="'Liberation Sans', sans-serif" textLength="10.23" lengthAdjust="spacingAndGlyphs">60</text>
<line x1="411.82" y1="430.40" x2="411.82" y2="428.40" stroke="#000" stroke-width="1.3"/>
<text x="296.80" y="461.50" font-size="12.00" font-weight="bold" fill="#000" text-anchor="middle" font-family="'Liberation Sans', sans-serif" textLength="100.5" lengthAdjust="spacingAndGlyphs">2 Theta (degrees)</text>
<text transform="translate(169.0,338.3) rotate(-90)" x="0" y="0" font-size="12" font-weight="bold" text-anchor="middle" font-family="'Liberation Sans', sans-serif" textLength="82.8" lengthAdjust="spacingAndGlyphs">Intensity (a.u.)</text>
<text x="153.50" y="261.10" font-size="20.80" font-weight="normal" fill="#000" text-anchor="start" font-family="'Liberation Serif', serif" >(c)</text>
<text x="198.90" y="266.20" font-size="9.68" font-weight="normal" fill="#c0379f" stroke="#c0379f" stroke-width="0.18" text-anchor="start" font-family="'Liberation Sans', sans-serif" textLength="54.99" lengthAdjust="spacingAndGlyphs">1T@2H-MoS</text>
<text x="254.00" y="269.70" font-size="7.00" font-weight="normal" fill="#c0379f" text-anchor="start" font-family="'Liberation Sans', sans-serif" >2</text>
<text x="188.30" y="297.60" font-size="9.68" font-weight="normal" fill="#333" stroke="#333" stroke-width="0.12" text-anchor="start" font-family="'Liberation Sans', sans-serif" textLength="21.95" lengthAdjust="spacingAndGlyphs">(002)</text>
<text x="271.70" y="285.30" font-size="9.68" font-weight="normal" fill="#333" stroke="#333" stroke-width="0.12" text-anchor="start" font-family="'Liberation Sans', sans-serif" textLength="49.38" lengthAdjust="spacingAndGlyphs">(100)+(101)</text>
<text x="295.20" y="308.50" font-size="9.68" font-weight="normal" fill="#333" stroke="#333" stroke-width="0.12" text-anchor="start" font-family="'Liberation Sans', sans-serif" textLength="21.95" lengthAdjust="spacingAndGlyphs">(103)</text>
<text x="373.40" y="352.10" font-size="9.68" font-weight="normal" fill="#333" stroke="#333" stroke-width="0.12" text-anchor="start" font-family="'Liberation Sans', sans-serif" textLength="21.25" lengthAdjust="spacingAndGlyphs">(110)</text>
<line x1="347" y1="265.5" x2="356.5" y2="265.5" stroke="#1f4f91" stroke-width="1.6"/>
<line x1="347" y1="281" x2="356.5" y2="281" stroke="#17a07c" stroke-width="1.6"/>
<text x="358.50" y="269.20" font-size="9.68" font-weight="normal" fill="#1d4886" stroke="#1d4886" stroke-width="0.12" text-anchor="start" font-family="'Liberation Sans', sans-serif" textLength="34.48" lengthAdjust="spacingAndGlyphs">2H-MoS</text>
<text x="392.90" y="272.80" font-size="7.00" font-weight="normal" fill="#1d4886" text-anchor="start" font-family="'Liberation Sans', sans-serif" >2</text>
<text x="359.00" y="284.70" font-size="9.68" font-weight="normal" fill="#1a9a78" stroke="#1a9a78" stroke-width="0.12" text-anchor="start" font-family="'Liberation Sans', sans-serif" textLength="32.91" lengthAdjust="spacingAndGlyphs">1T-MoS</text>
<text x="392.40" y="287.80" font-size="7.00" font-weight="normal" fill="#1a9a78" text-anchor="start" font-family="'Liberation Sans', sans-serif" >2</text>
</svg>
</body></html>
